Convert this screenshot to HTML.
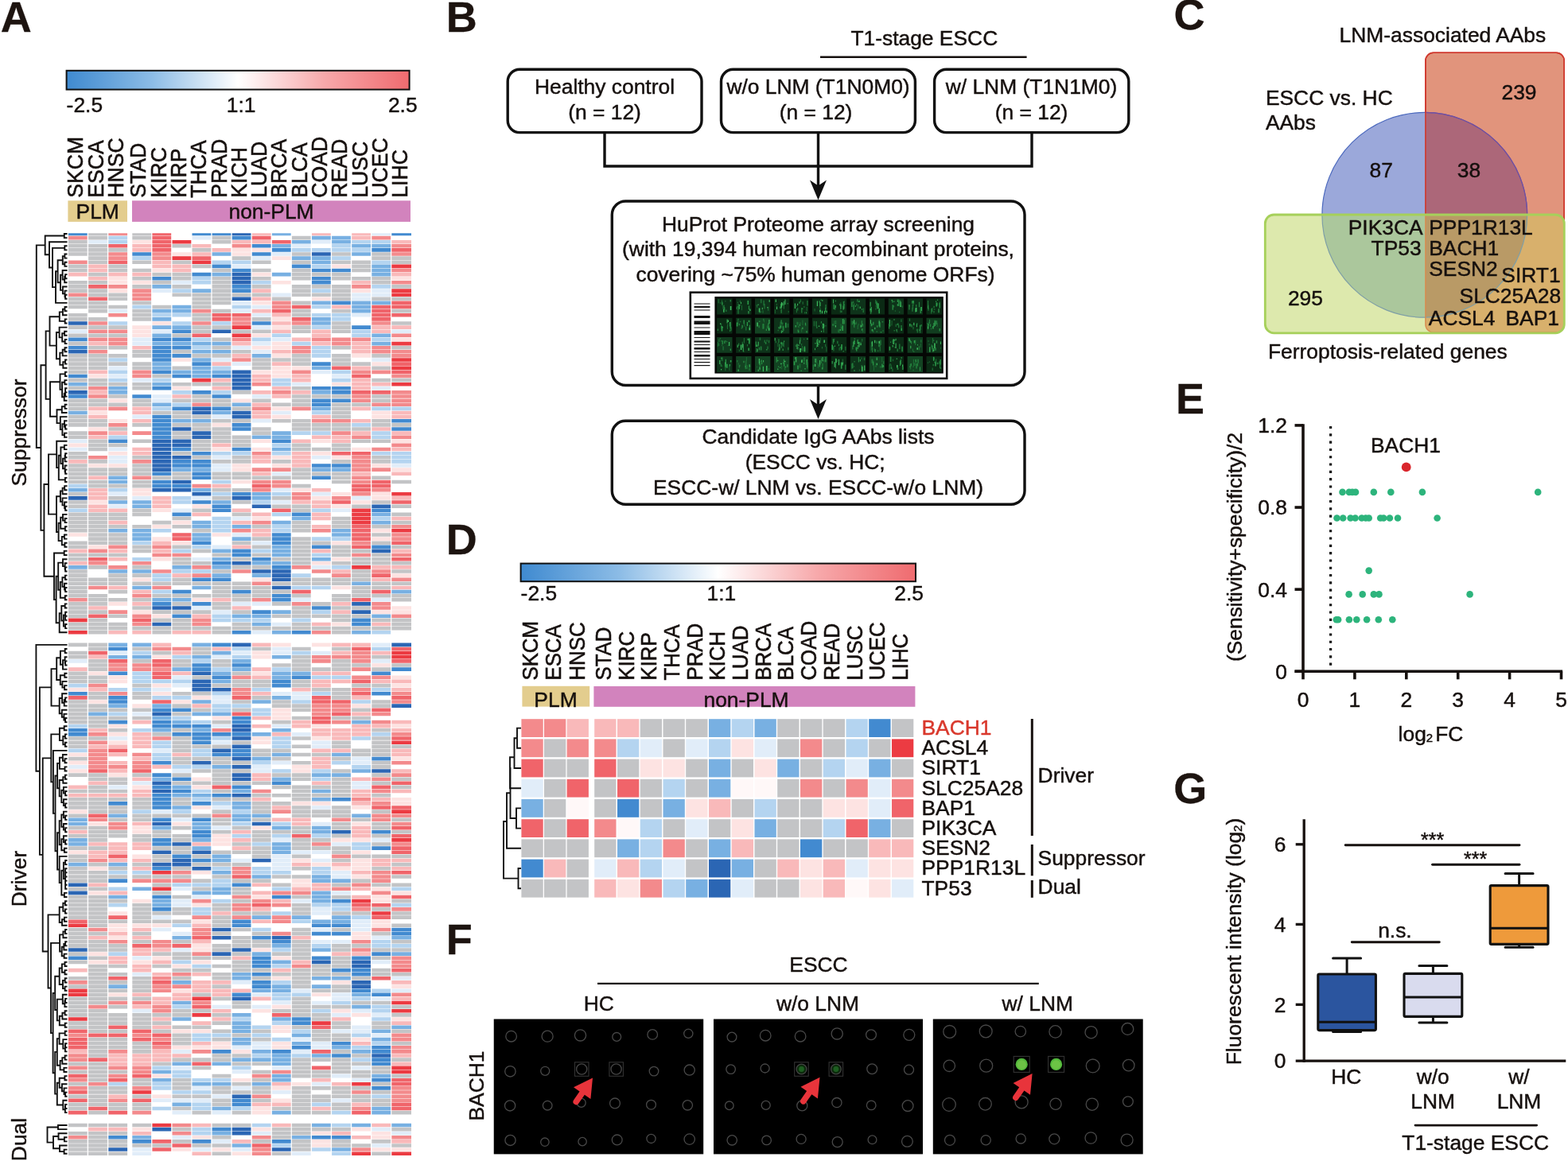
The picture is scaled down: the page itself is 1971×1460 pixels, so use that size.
<!DOCTYPE html><html lang="en"><head><meta charset="utf-8"><title>Figure</title><style>html,body{margin:0;padding:0;background:#fff;overflow:hidden}svg{display:block}text{font-family:"Liberation Sans",Arial,Helvetica,sans-serif;font-size:26.4px;fill:#16100e;stroke:#16100e;stroke-width:0.45px}</style></head><body><svg width="1971" height="1460" viewBox="0 0 1971 1460"><rect width="1971" height="1460" fill="#fff"/><defs><linearGradient id="cb" x1="0" x2="1" y1="0" y2="0"><stop offset="0" stop-color="#3f8ad0"/><stop offset="0.25" stop-color="#8cbce6"/><stop offset="0.5" stop-color="#ffffff"/><stop offset="0.75" stop-color="#f7a9ab"/><stop offset="1" stop-color="#ef6b6f"/></linearGradient></defs><text x="0.8" y="40.2" style="font-size:54px;font-weight:bold;fill:#1d1410;stroke:#1d1410;stroke-width:0.3px">A</text><text x="560.8" y="40" style="font-size:54px;font-weight:bold;fill:#1d1410;stroke:#1d1410;stroke-width:0.3px">B</text><text x="1475.6" y="37.4" style="font-size:54px;font-weight:bold;fill:#1d1410;stroke:#1d1410;stroke-width:0.3px">C</text><text x="560.8" y="697" style="font-size:54px;font-weight:bold;fill:#1d1410;stroke:#1d1410;stroke-width:0.3px">D</text><text x="1477.9" y="519.7" style="font-size:54px;font-weight:bold;fill:#1d1410;stroke:#1d1410;stroke-width:0.3px">E</text><text x="560.8" y="1200.2" style="font-size:54px;font-weight:bold;fill:#1d1410;stroke:#1d1410;stroke-width:0.3px">F</text><text x="1475.2" y="1009.6" style="font-size:54px;font-weight:bold;fill:#1d1410;stroke:#1d1410;stroke-width:0.3px">G</text><rect x="83.6" y="88.8" width="431" height="23.8" fill="url(#cb)" stroke="#111" stroke-width="2"/><text x="83.6" y="141">-2.5</text><text x="303.1" y="141" text-anchor="middle">1:1</text><text x="524.6" y="141" text-anchor="end">2.5</text><text transform="translate(104.2 248.7) rotate(-90) scale(0.937 1)" style="font-size:28.4px;stroke-width:0.6px">SKCM</text><text transform="translate(129.8 248.7) rotate(-90) scale(0.937 1)" style="font-size:28.4px;stroke-width:0.6px">ESCA</text><text transform="translate(155.4 248.7) rotate(-90) scale(0.937 1)" style="font-size:28.4px;stroke-width:0.6px">HNSC</text><text transform="translate(183.4 248.7) rotate(-90) scale(0.937 1)" style="font-size:28.4px;stroke-width:0.6px">STAD</text><text transform="translate(208.7 248.7) rotate(-90) scale(0.937 1)" style="font-size:28.4px;stroke-width:0.6px">KIRC</text><text transform="translate(234.0 248.7) rotate(-90) scale(0.937 1)" style="font-size:28.4px;stroke-width:0.6px">KIRP</text><text transform="translate(259.3 248.7) rotate(-90) scale(0.937 1)" style="font-size:28.4px;stroke-width:0.6px">THCA</text><text transform="translate(284.6 248.7) rotate(-90) scale(0.937 1)" style="font-size:28.4px;stroke-width:0.6px">PRAD</text><text transform="translate(309.9 248.7) rotate(-90) scale(0.937 1)" style="font-size:28.4px;stroke-width:0.6px">KICH</text><text transform="translate(335.1 248.7) rotate(-90) scale(0.937 1)" style="font-size:28.4px;stroke-width:0.6px">LUAD</text><text transform="translate(360.4 248.7) rotate(-90) scale(0.937 1)" style="font-size:28.4px;stroke-width:0.6px">BRCA</text><text transform="translate(385.7 248.7) rotate(-90) scale(0.937 1)" style="font-size:28.4px;stroke-width:0.6px">BLCA</text><text transform="translate(411.0 248.7) rotate(-90) scale(0.937 1)" style="font-size:28.4px;stroke-width:0.6px">COAD</text><text transform="translate(436.3 248.7) rotate(-90) scale(0.937 1)" style="font-size:28.4px;stroke-width:0.6px">READ</text><text transform="translate(461.6 248.7) rotate(-90) scale(0.937 1)" style="font-size:28.4px;stroke-width:0.6px">LUSC</text><text transform="translate(486.9 248.7) rotate(-90) scale(0.937 1)" style="font-size:28.4px;stroke-width:0.6px">UCEC</text><text transform="translate(512.2 248.7) rotate(-90) scale(0.937 1)" style="font-size:28.4px;stroke-width:0.6px">LIHC</text><rect x="85.4" y="252.3" width="74.6" height="26.6" fill="#e3cd8e"/><text x="122.7" y="275.3" text-anchor="middle">PLM</text><rect x="166" y="252.3" width="350" height="26.6" fill="#d283bd"/><text x="341" y="275.3" text-anchor="middle">non-PLM</text><text transform="translate(32.6 544) rotate(-90)" text-anchor="middle">Suppressor</text><text transform="translate(32.6 1105) rotate(-90)" text-anchor="middle">Driver</text><text transform="translate(32.6 1433) rotate(-90)" text-anchor="middle">Dual</text><path d="M85.9 293.2h23.8v3.1h-23.8zM85.9 424.6h23.8v4.6h-23.8zM85.9 434.9h23.8v4.6h-23.8zM85.9 470.7h23.8v4.6h-23.8zM85.9 496.2h23.8v4.6h-23.8zM136.3 552.5h23.8v4.6h-23.8zM166.3 317.2h23.8v4.6h-23.8zM166.3 496.2h23.8v4.6h-23.8zM191.4 347.9h23.8v4.6h-23.8zM191.4 424.6h23.8v4.6h-23.8zM191.4 434.9h23.8v4.6h-23.8zM191.4 440.0h23.8v4.6h-23.8zM191.4 445.1h23.8v4.6h-23.8zM191.4 450.2h23.8v4.6h-23.8zM191.4 465.6h23.8v4.6h-23.8zM191.4 486.0h23.8v4.6h-23.8zM191.4 521.8h23.8v4.6h-23.8zM191.4 526.9h23.8v4.6h-23.8zM191.4 532.1h23.8v4.6h-23.8zM191.4 537.2h23.8v4.6h-23.8zM191.4 542.3h23.8v4.6h-23.8zM191.4 547.4h23.8v4.6h-23.8zM191.4 593.4h23.8v4.6h-23.8zM191.4 603.7h23.8v4.6h-23.8zM191.4 608.8h23.8v4.6h-23.8zM191.4 757.1h23.8v4.6h-23.8zM216.5 414.4h23.8v4.6h-23.8zM216.5 424.6h23.8v4.6h-23.8zM216.5 434.9h23.8v4.6h-23.8zM216.5 445.1h23.8v4.6h-23.8zM216.5 470.7h23.8v4.6h-23.8zM216.5 511.6h23.8v4.6h-23.8zM216.5 562.7h23.8v4.6h-23.8zM216.5 578.1h23.8v4.6h-23.8zM216.5 583.2h23.8v4.6h-23.8zM216.5 608.8h23.8v4.6h-23.8zM216.5 644.6h23.8v4.6h-23.8zM216.5 741.8h23.8v4.6h-23.8zM216.5 772.5h23.8v4.6h-23.8zM241.5 293.2h23.8v3.1h-23.8zM241.5 342.8h23.8v4.6h-23.8zM241.5 455.3h23.8v4.6h-23.8zM241.5 491.1h23.8v4.6h-23.8zM241.5 567.9h23.8v4.6h-23.8zM241.5 578.1h23.8v4.6h-23.8zM241.5 583.2h23.8v4.6h-23.8zM241.5 593.4h23.8v4.6h-23.8zM241.5 598.5h23.8v4.6h-23.8zM241.5 629.2h23.8v4.6h-23.8zM241.5 680.4h23.8v4.6h-23.8zM241.5 726.4h23.8v4.6h-23.8zM241.5 757.1h23.8v4.6h-23.8zM266.6 293.2h23.8v3.1h-23.8zM266.6 332.6h23.8v4.6h-23.8zM266.6 470.7h23.8v4.6h-23.8zM266.6 496.2h23.8v4.6h-23.8zM266.6 511.6h23.8v4.6h-23.8zM266.6 634.4h23.8v4.6h-23.8zM266.6 639.5h23.8v4.6h-23.8zM266.6 706.0h23.8v4.6h-23.8zM266.6 726.4h23.8v4.6h-23.8zM291.7 296.8h23.8v4.6h-23.8zM291.7 337.7h23.8v4.6h-23.8zM291.7 358.1h23.8v4.6h-23.8zM291.7 363.3h23.8v4.6h-23.8zM291.7 532.1h23.8v4.6h-23.8zM291.7 537.2h23.8v4.6h-23.8zM291.7 562.7h23.8v4.6h-23.8zM291.7 619.0h23.8v4.6h-23.8zM291.7 690.6h23.8v4.6h-23.8zM291.7 695.7h23.8v4.6h-23.8zM291.7 741.8h23.8v4.6h-23.8zM291.7 792.9h23.8v4.6h-23.8zM316.8 307.0h23.8v4.6h-23.8zM316.8 317.2h23.8v4.6h-23.8zM316.8 404.2h23.8v4.6h-23.8zM316.8 700.9h23.8v4.6h-23.8zM316.8 767.3h23.8v4.6h-23.8zM341.9 312.1h23.8v4.6h-23.8zM341.9 552.5h23.8v4.6h-23.8zM341.9 670.2h23.8v4.6h-23.8zM341.9 675.3h23.8v4.6h-23.8zM341.9 680.4h23.8v4.6h-23.8zM341.9 711.1h23.8v4.6h-23.8zM341.9 746.9h23.8v4.6h-23.8zM341.9 752.0h23.8v4.6h-23.8zM366.9 332.6h23.8v4.6h-23.8zM366.9 644.6h23.8v4.6h-23.8zM366.9 792.9h23.8v4.6h-23.8zM392.0 337.7h23.8v4.6h-23.8zM392.0 347.9h23.8v4.6h-23.8zM392.0 353.0h23.8v4.6h-23.8zM392.0 455.3h23.8v4.6h-23.8zM392.0 486.0h23.8v4.6h-23.8zM392.0 501.4h23.8v4.6h-23.8zM392.0 506.5h23.8v4.6h-23.8zM392.0 583.2h23.8v4.6h-23.8zM392.0 598.5h23.8v4.6h-23.8zM392.0 685.5h23.8v4.6h-23.8zM392.0 762.2h23.8v4.6h-23.8zM417.1 337.7h23.8v4.6h-23.8zM417.1 378.6h23.8v4.6h-23.8zM417.1 486.0h23.8v4.6h-23.8zM417.1 491.1h23.8v4.6h-23.8zM417.1 501.4h23.8v4.6h-23.8zM417.1 583.2h23.8v4.6h-23.8zM442.2 409.3h23.8v4.6h-23.8zM442.2 777.6h23.8v4.6h-23.8zM442.2 782.7h23.8v4.6h-23.8zM467.3 312.1h23.8v4.6h-23.8zM467.3 639.5h23.8v4.6h-23.8zM467.3 685.5h23.8v4.6h-23.8zM492.3 293.2h24.7v3.1h-24.7zM492.3 526.9h24.7v4.6h-24.7zM492.3 537.2h24.7v4.6h-24.7z" fill="#428ad0"/><path d="M85.9 296.8h23.8v4.6h-23.8zM85.9 327.5h23.8v4.6h-23.8zM85.9 368.4h23.8v4.6h-23.8zM85.9 752.0h23.8v4.6h-23.8zM111.1 404.2h23.8v4.6h-23.8zM111.1 414.4h23.8v4.6h-23.8zM111.1 424.6h23.8v4.6h-23.8zM111.1 440.0h23.8v4.6h-23.8zM111.1 486.0h23.8v4.6h-23.8zM111.1 496.2h23.8v4.6h-23.8zM111.1 542.3h23.8v4.6h-23.8zM111.1 573.0h23.8v4.6h-23.8zM111.1 690.6h23.8v4.6h-23.8zM111.1 706.0h23.8v4.6h-23.8zM111.1 736.7h23.8v4.6h-23.8zM136.3 293.2h23.8v3.1h-23.8zM136.3 317.2h23.8v4.6h-23.8zM136.3 322.3h23.8v4.6h-23.8zM136.3 358.1h23.8v4.6h-23.8zM136.3 393.9h23.8v4.6h-23.8zM136.3 414.4h23.8v4.6h-23.8zM136.3 424.6h23.8v4.6h-23.8zM136.3 429.8h23.8v4.6h-23.8zM136.3 511.6h23.8v4.6h-23.8zM136.3 532.1h23.8v4.6h-23.8zM136.3 685.5h23.8v4.6h-23.8zM136.3 711.1h23.8v4.6h-23.8zM136.3 767.3h23.8v4.6h-23.8zM166.3 363.3h23.8v4.6h-23.8zM166.3 368.4h23.8v4.6h-23.8zM166.3 373.5h23.8v4.6h-23.8zM166.3 465.6h23.8v4.6h-23.8zM166.3 470.7h23.8v4.6h-23.8zM166.3 542.3h23.8v4.6h-23.8zM166.3 578.1h23.8v4.6h-23.8zM166.3 598.5h23.8v4.6h-23.8zM166.3 706.0h23.8v4.6h-23.8zM166.3 746.9h23.8v4.6h-23.8zM166.3 772.5h23.8v4.6h-23.8zM166.3 782.7h23.8v4.6h-23.8zM191.4 317.2h23.8v4.6h-23.8zM191.4 322.3h23.8v4.6h-23.8zM191.4 685.5h23.8v4.6h-23.8zM191.4 695.7h23.8v4.6h-23.8zM191.4 716.2h23.8v4.6h-23.8zM191.4 736.7h23.8v4.6h-23.8zM216.5 695.7h23.8v4.6h-23.8zM241.5 388.8h23.8v4.6h-23.8zM241.5 404.2h23.8v4.6h-23.8zM241.5 506.5h23.8v4.6h-23.8zM241.5 608.8h23.8v4.6h-23.8zM241.5 711.1h23.8v4.6h-23.8zM241.5 721.3h23.8v4.6h-23.8zM241.5 777.6h23.8v4.6h-23.8zM241.5 782.7h23.8v4.6h-23.8zM291.7 307.0h23.8v4.6h-23.8zM291.7 399.1h23.8v4.6h-23.8zM291.7 404.2h23.8v4.6h-23.8zM291.7 424.6h23.8v4.6h-23.8zM291.7 450.2h23.8v4.6h-23.8zM291.7 665.0h23.8v4.6h-23.8zM291.7 716.2h23.8v4.6h-23.8zM316.8 480.9h23.8v4.6h-23.8zM316.8 511.6h23.8v4.6h-23.8zM316.8 567.9h23.8v4.6h-23.8zM316.8 588.3h23.8v4.6h-23.8zM316.8 603.7h23.8v4.6h-23.8zM316.8 613.9h23.8v4.6h-23.8zM316.8 654.8h23.8v4.6h-23.8zM316.8 731.5h23.8v4.6h-23.8zM316.8 752.0h23.8v4.6h-23.8zM341.9 378.6h23.8v4.6h-23.8zM341.9 383.7h23.8v4.6h-23.8zM341.9 491.1h23.8v4.6h-23.8zM341.9 588.3h23.8v4.6h-23.8zM341.9 603.7h23.8v4.6h-23.8zM341.9 608.8h23.8v4.6h-23.8zM366.9 404.2h23.8v4.6h-23.8zM366.9 434.9h23.8v4.6h-23.8zM366.9 440.0h23.8v4.6h-23.8zM366.9 465.6h23.8v4.6h-23.8zM366.9 511.6h23.8v4.6h-23.8zM366.9 619.0h23.8v4.6h-23.8zM366.9 624.1h23.8v4.6h-23.8zM366.9 711.1h23.8v4.6h-23.8zM366.9 757.1h23.8v4.6h-23.8zM392.0 424.6h23.8v4.6h-23.8zM392.0 526.9h23.8v4.6h-23.8zM392.0 665.0h23.8v4.6h-23.8zM392.0 716.2h23.8v4.6h-23.8zM392.0 792.9h23.8v4.6h-23.8zM417.1 424.6h23.8v4.6h-23.8zM417.1 429.8h23.8v4.6h-23.8zM417.1 526.9h23.8v4.6h-23.8zM417.1 542.3h23.8v4.6h-23.8zM417.1 624.1h23.8v4.6h-23.8zM417.1 721.3h23.8v4.6h-23.8zM442.2 358.1h23.8v4.6h-23.8zM442.2 424.6h23.8v4.6h-23.8zM442.2 465.6h23.8v4.6h-23.8zM442.2 496.2h23.8v4.6h-23.8zM442.2 501.4h23.8v4.6h-23.8zM442.2 547.4h23.8v4.6h-23.8zM442.2 573.0h23.8v4.6h-23.8zM442.2 578.1h23.8v4.6h-23.8zM442.2 583.2h23.8v4.6h-23.8zM442.2 588.3h23.8v4.6h-23.8zM442.2 598.5h23.8v4.6h-23.8zM442.2 603.7h23.8v4.6h-23.8zM442.2 619.0h23.8v4.6h-23.8zM442.2 680.4h23.8v4.6h-23.8zM442.2 695.7h23.8v4.6h-23.8zM467.3 296.8h23.8v4.6h-23.8zM467.3 404.2h23.8v4.6h-23.8zM467.3 434.9h23.8v4.6h-23.8zM467.3 440.0h23.8v4.6h-23.8zM467.3 465.6h23.8v4.6h-23.8zM467.3 506.5h23.8v4.6h-23.8zM467.3 562.7h23.8v4.6h-23.8zM467.3 588.3h23.8v4.6h-23.8zM467.3 613.9h23.8v4.6h-23.8zM467.3 716.2h23.8v4.6h-23.8zM467.3 757.1h23.8v4.6h-23.8zM467.3 762.2h23.8v4.6h-23.8zM492.3 307.0h24.7v4.6h-24.7zM492.3 317.2h24.7v4.6h-24.7zM492.3 337.7h24.7v4.6h-24.7zM492.3 353.0h24.7v4.6h-24.7zM492.3 419.5h24.7v4.6h-24.7zM492.3 440.0h24.7v4.6h-24.7zM492.3 445.1h24.7v4.6h-24.7zM492.3 470.7h24.7v4.6h-24.7zM492.3 491.1h24.7v4.6h-24.7zM492.3 496.2h24.7v4.6h-24.7zM492.3 501.4h24.7v4.6h-24.7zM492.3 506.5h24.7v4.6h-24.7zM492.3 547.4h24.7v4.6h-24.7zM492.3 557.6h24.7v4.6h-24.7zM492.3 659.9h24.7v4.6h-24.7zM492.3 670.2h24.7v4.6h-24.7zM492.3 675.3h24.7v4.6h-24.7zM492.3 695.7h24.7v4.6h-24.7zM492.3 726.4h24.7v4.6h-24.7zM492.3 772.5h24.7v4.6h-24.7z" fill="#f38a8c"/><path d="M85.9 301.9h23.8v4.6h-23.8zM85.9 307.0h23.8v4.6h-23.8zM85.9 312.1h23.8v4.6h-23.8zM85.9 317.2h23.8v4.6h-23.8zM85.9 332.6h23.8v4.6h-23.8zM85.9 337.7h23.8v4.6h-23.8zM85.9 353.0h23.8v4.6h-23.8zM85.9 358.1h23.8v4.6h-23.8zM85.9 363.3h23.8v4.6h-23.8zM85.9 373.5h23.8v4.6h-23.8zM85.9 378.6h23.8v4.6h-23.8zM85.9 383.7h23.8v4.6h-23.8zM85.9 393.9h23.8v4.6h-23.8zM85.9 399.1h23.8v4.6h-23.8zM85.9 409.3h23.8v4.6h-23.8zM85.9 419.5h23.8v4.6h-23.8zM85.9 429.8h23.8v4.6h-23.8zM85.9 445.1h23.8v4.6h-23.8zM85.9 450.2h23.8v4.6h-23.8zM85.9 455.3h23.8v4.6h-23.8zM85.9 460.4h23.8v4.6h-23.8zM85.9 465.6h23.8v4.6h-23.8zM85.9 475.8h23.8v4.6h-23.8zM85.9 486.0h23.8v4.6h-23.8zM85.9 501.4h23.8v4.6h-23.8zM85.9 506.5h23.8v4.6h-23.8zM85.9 511.6h23.8v4.6h-23.8zM85.9 521.8h23.8v4.6h-23.8zM85.9 526.9h23.8v4.6h-23.8zM85.9 532.1h23.8v4.6h-23.8zM85.9 542.3h23.8v4.6h-23.8zM85.9 547.4h23.8v4.6h-23.8zM85.9 567.9h23.8v4.6h-23.8zM85.9 573.0h23.8v4.6h-23.8zM85.9 583.2h23.8v4.6h-23.8zM85.9 588.3h23.8v4.6h-23.8zM85.9 593.4h23.8v4.6h-23.8zM85.9 598.5h23.8v4.6h-23.8zM85.9 603.7h23.8v4.6h-23.8zM85.9 619.0h23.8v4.6h-23.8zM85.9 629.2h23.8v4.6h-23.8zM85.9 634.4h23.8v4.6h-23.8zM85.9 644.6h23.8v4.6h-23.8zM85.9 649.7h23.8v4.6h-23.8zM85.9 654.8h23.8v4.6h-23.8zM85.9 659.9h23.8v4.6h-23.8zM85.9 665.0h23.8v4.6h-23.8zM85.9 680.4h23.8v4.6h-23.8zM85.9 685.5h23.8v4.6h-23.8zM85.9 695.7h23.8v4.6h-23.8zM85.9 700.9h23.8v4.6h-23.8zM85.9 716.2h23.8v4.6h-23.8zM85.9 721.3h23.8v4.6h-23.8zM85.9 726.4h23.8v4.6h-23.8zM85.9 731.5h23.8v4.6h-23.8zM85.9 736.7h23.8v4.6h-23.8zM85.9 741.8h23.8v4.6h-23.8zM85.9 746.9h23.8v4.6h-23.8zM85.9 757.1h23.8v4.6h-23.8zM85.9 762.2h23.8v4.6h-23.8zM85.9 767.3h23.8v4.6h-23.8zM85.9 772.5h23.8v4.6h-23.8zM85.9 782.7h23.8v4.6h-23.8zM85.9 787.8h23.8v4.6h-23.8zM111.1 293.2h23.8v3.1h-23.8zM111.1 296.8h23.8v4.6h-23.8zM111.1 307.0h23.8v4.6h-23.8zM111.1 312.1h23.8v4.6h-23.8zM111.1 317.2h23.8v4.6h-23.8zM111.1 322.3h23.8v4.6h-23.8zM111.1 327.5h23.8v4.6h-23.8zM111.1 342.8h23.8v4.6h-23.8zM111.1 353.0h23.8v4.6h-23.8zM111.1 363.3h23.8v4.6h-23.8zM111.1 368.4h23.8v4.6h-23.8zM111.1 378.6h23.8v4.6h-23.8zM111.1 383.7h23.8v4.6h-23.8zM111.1 388.8h23.8v4.6h-23.8zM111.1 399.1h23.8v4.6h-23.8zM111.1 409.3h23.8v4.6h-23.8zM111.1 419.5h23.8v4.6h-23.8zM111.1 434.9h23.8v4.6h-23.8zM111.1 445.1h23.8v4.6h-23.8zM111.1 450.2h23.8v4.6h-23.8zM111.1 455.3h23.8v4.6h-23.8zM111.1 460.4h23.8v4.6h-23.8zM111.1 475.8h23.8v4.6h-23.8zM111.1 480.9h23.8v4.6h-23.8zM111.1 501.4h23.8v4.6h-23.8zM111.1 506.5h23.8v4.6h-23.8zM111.1 526.9h23.8v4.6h-23.8zM111.1 532.1h23.8v4.6h-23.8zM111.1 552.5h23.8v4.6h-23.8zM111.1 557.6h23.8v4.6h-23.8zM111.1 562.7h23.8v4.6h-23.8zM111.1 578.1h23.8v4.6h-23.8zM111.1 588.3h23.8v4.6h-23.8zM111.1 593.4h23.8v4.6h-23.8zM111.1 603.7h23.8v4.6h-23.8zM111.1 608.8h23.8v4.6h-23.8zM111.1 644.6h23.8v4.6h-23.8zM111.1 649.7h23.8v4.6h-23.8zM111.1 654.8h23.8v4.6h-23.8zM111.1 659.9h23.8v4.6h-23.8zM111.1 665.0h23.8v4.6h-23.8zM111.1 670.2h23.8v4.6h-23.8zM111.1 675.3h23.8v4.6h-23.8zM111.1 680.4h23.8v4.6h-23.8zM111.1 695.7h23.8v4.6h-23.8zM111.1 711.1h23.8v4.6h-23.8zM111.1 726.4h23.8v4.6h-23.8zM111.1 731.5h23.8v4.6h-23.8zM111.1 746.9h23.8v4.6h-23.8zM111.1 752.0h23.8v4.6h-23.8zM111.1 757.1h23.8v4.6h-23.8zM111.1 767.3h23.8v4.6h-23.8zM111.1 777.6h23.8v4.6h-23.8zM111.1 782.7h23.8v4.6h-23.8zM111.1 787.8h23.8v4.6h-23.8zM111.1 792.9h23.8v4.6h-23.8zM136.3 312.1h23.8v4.6h-23.8zM136.3 332.6h23.8v4.6h-23.8zM136.3 337.7h23.8v4.6h-23.8zM136.3 368.4h23.8v4.6h-23.8zM136.3 373.5h23.8v4.6h-23.8zM136.3 383.7h23.8v4.6h-23.8zM136.3 409.3h23.8v4.6h-23.8zM136.3 419.5h23.8v4.6h-23.8zM136.3 434.9h23.8v4.6h-23.8zM136.3 445.1h23.8v4.6h-23.8zM136.3 455.3h23.8v4.6h-23.8zM136.3 480.9h23.8v4.6h-23.8zM136.3 496.2h23.8v4.6h-23.8zM136.3 506.5h23.8v4.6h-23.8zM136.3 537.2h23.8v4.6h-23.8zM136.3 557.6h23.8v4.6h-23.8zM136.3 588.3h23.8v4.6h-23.8zM136.3 593.4h23.8v4.6h-23.8zM136.3 608.8h23.8v4.6h-23.8zM136.3 624.1h23.8v4.6h-23.8zM136.3 644.6h23.8v4.6h-23.8zM136.3 649.7h23.8v4.6h-23.8zM136.3 659.9h23.8v4.6h-23.8zM136.3 670.2h23.8v4.6h-23.8zM136.3 675.3h23.8v4.6h-23.8zM136.3 680.4h23.8v4.6h-23.8zM136.3 695.7h23.8v4.6h-23.8zM136.3 721.3h23.8v4.6h-23.8zM136.3 726.4h23.8v4.6h-23.8zM136.3 731.5h23.8v4.6h-23.8zM136.3 741.8h23.8v4.6h-23.8zM136.3 752.0h23.8v4.6h-23.8zM136.3 772.5h23.8v4.6h-23.8zM136.3 782.7h23.8v4.6h-23.8zM136.3 787.8h23.8v4.6h-23.8zM166.3 293.2h23.8v3.1h-23.8zM166.3 296.8h23.8v4.6h-23.8zM166.3 327.5h23.8v4.6h-23.8zM166.3 337.7h23.8v4.6h-23.8zM166.3 347.9h23.8v4.6h-23.8zM166.3 358.1h23.8v4.6h-23.8zM166.3 378.6h23.8v4.6h-23.8zM166.3 388.8h23.8v4.6h-23.8zM166.3 393.9h23.8v4.6h-23.8zM166.3 399.1h23.8v4.6h-23.8zM166.3 440.0h23.8v4.6h-23.8zM166.3 445.1h23.8v4.6h-23.8zM166.3 455.3h23.8v4.6h-23.8zM166.3 460.4h23.8v4.6h-23.8zM166.3 480.9h23.8v4.6h-23.8zM166.3 486.0h23.8v4.6h-23.8zM166.3 501.4h23.8v4.6h-23.8zM166.3 506.5h23.8v4.6h-23.8zM166.3 532.1h23.8v4.6h-23.8zM166.3 552.5h23.8v4.6h-23.8zM166.3 573.0h23.8v4.6h-23.8zM166.3 583.2h23.8v4.6h-23.8zM166.3 588.3h23.8v4.6h-23.8zM166.3 593.4h23.8v4.6h-23.8zM166.3 603.7h23.8v4.6h-23.8zM166.3 608.8h23.8v4.6h-23.8zM166.3 639.5h23.8v4.6h-23.8zM166.3 644.6h23.8v4.6h-23.8zM166.3 659.9h23.8v4.6h-23.8zM166.3 685.5h23.8v4.6h-23.8zM166.3 690.6h23.8v4.6h-23.8zM166.3 711.1h23.8v4.6h-23.8zM166.3 721.3h23.8v4.6h-23.8zM166.3 731.5h23.8v4.6h-23.8zM166.3 752.0h23.8v4.6h-23.8zM166.3 762.2h23.8v4.6h-23.8zM166.3 787.8h23.8v4.6h-23.8zM191.4 342.8h23.8v4.6h-23.8zM191.4 353.0h23.8v4.6h-23.8zM191.4 383.7h23.8v4.6h-23.8zM191.4 470.7h23.8v4.6h-23.8zM191.4 516.7h23.8v4.6h-23.8zM191.4 598.5h23.8v4.6h-23.8zM191.4 654.8h23.8v4.6h-23.8zM191.4 731.5h23.8v4.6h-23.8zM191.4 746.9h23.8v4.6h-23.8zM191.4 767.3h23.8v4.6h-23.8zM191.4 777.6h23.8v4.6h-23.8zM191.4 787.8h23.8v4.6h-23.8zM191.4 792.9h23.8v4.6h-23.8zM216.5 307.0h23.8v4.6h-23.8zM216.5 327.5h23.8v4.6h-23.8zM216.5 342.8h23.8v4.6h-23.8zM216.5 347.9h23.8v4.6h-23.8zM216.5 358.1h23.8v4.6h-23.8zM216.5 368.4h23.8v4.6h-23.8zM216.5 419.5h23.8v4.6h-23.8zM216.5 440.0h23.8v4.6h-23.8zM216.5 460.4h23.8v4.6h-23.8zM216.5 480.9h23.8v4.6h-23.8zM216.5 501.4h23.8v4.6h-23.8zM216.5 516.7h23.8v4.6h-23.8zM216.5 521.8h23.8v4.6h-23.8zM216.5 532.1h23.8v4.6h-23.8zM216.5 542.3h23.8v4.6h-23.8zM216.5 547.4h23.8v4.6h-23.8zM216.5 567.9h23.8v4.6h-23.8zM216.5 593.4h23.8v4.6h-23.8zM216.5 598.5h23.8v4.6h-23.8zM216.5 649.7h23.8v4.6h-23.8zM216.5 659.9h23.8v4.6h-23.8zM216.5 685.5h23.8v4.6h-23.8zM216.5 700.9h23.8v4.6h-23.8zM216.5 706.0h23.8v4.6h-23.8zM216.5 726.4h23.8v4.6h-23.8zM216.5 731.5h23.8v4.6h-23.8zM216.5 746.9h23.8v4.6h-23.8zM216.5 757.1h23.8v4.6h-23.8zM216.5 767.3h23.8v4.6h-23.8zM216.5 777.6h23.8v4.6h-23.8zM216.5 782.7h23.8v4.6h-23.8zM216.5 787.8h23.8v4.6h-23.8zM241.5 312.1h23.8v4.6h-23.8zM241.5 332.6h23.8v4.6h-23.8zM241.5 368.4h23.8v4.6h-23.8zM241.5 373.5h23.8v4.6h-23.8zM241.5 378.6h23.8v4.6h-23.8zM241.5 383.7h23.8v4.6h-23.8zM241.5 393.9h23.8v4.6h-23.8zM241.5 399.1h23.8v4.6h-23.8zM241.5 409.3h23.8v4.6h-23.8zM241.5 414.4h23.8v4.6h-23.8zM241.5 445.1h23.8v4.6h-23.8zM241.5 480.9h23.8v4.6h-23.8zM241.5 496.2h23.8v4.6h-23.8zM241.5 501.4h23.8v4.6h-23.8zM241.5 521.8h23.8v4.6h-23.8zM241.5 532.1h23.8v4.6h-23.8zM241.5 537.2h23.8v4.6h-23.8zM241.5 552.5h23.8v4.6h-23.8zM241.5 557.6h23.8v4.6h-23.8zM241.5 562.7h23.8v4.6h-23.8zM241.5 573.0h23.8v4.6h-23.8zM241.5 639.5h23.8v4.6h-23.8zM241.5 665.0h23.8v4.6h-23.8zM241.5 690.6h23.8v4.6h-23.8zM241.5 706.0h23.8v4.6h-23.8zM241.5 731.5h23.8v4.6h-23.8zM241.5 746.9h23.8v4.6h-23.8zM241.5 767.3h23.8v4.6h-23.8zM241.5 787.8h23.8v4.6h-23.8zM266.6 296.8h23.8v4.6h-23.8zM266.6 301.9h23.8v4.6h-23.8zM266.6 337.7h23.8v4.6h-23.8zM266.6 347.9h23.8v4.6h-23.8zM266.6 353.0h23.8v4.6h-23.8zM266.6 358.1h23.8v4.6h-23.8zM266.6 363.3h23.8v4.6h-23.8zM266.6 368.4h23.8v4.6h-23.8zM266.6 373.5h23.8v4.6h-23.8zM266.6 378.6h23.8v4.6h-23.8zM266.6 388.8h23.8v4.6h-23.8zM266.6 409.3h23.8v4.6h-23.8zM266.6 424.6h23.8v4.6h-23.8zM266.6 434.9h23.8v4.6h-23.8zM266.6 445.1h23.8v4.6h-23.8zM266.6 480.9h23.8v4.6h-23.8zM266.6 501.4h23.8v4.6h-23.8zM266.6 506.5h23.8v4.6h-23.8zM266.6 526.9h23.8v4.6h-23.8zM266.6 537.2h23.8v4.6h-23.8zM266.6 542.3h23.8v4.6h-23.8zM266.6 547.4h23.8v4.6h-23.8zM266.6 552.5h23.8v4.6h-23.8zM266.6 578.1h23.8v4.6h-23.8zM266.6 593.4h23.8v4.6h-23.8zM266.6 598.5h23.8v4.6h-23.8zM266.6 613.9h23.8v4.6h-23.8zM266.6 624.1h23.8v4.6h-23.8zM266.6 695.7h23.8v4.6h-23.8zM266.6 716.2h23.8v4.6h-23.8zM266.6 731.5h23.8v4.6h-23.8zM266.6 736.7h23.8v4.6h-23.8zM266.6 741.8h23.8v4.6h-23.8zM266.6 746.9h23.8v4.6h-23.8zM266.6 757.1h23.8v4.6h-23.8zM266.6 762.2h23.8v4.6h-23.8zM266.6 787.8h23.8v4.6h-23.8zM266.6 792.9h23.8v4.6h-23.8zM291.7 322.3h23.8v4.6h-23.8zM291.7 368.4h23.8v4.6h-23.8zM291.7 414.4h23.8v4.6h-23.8zM291.7 440.0h23.8v4.6h-23.8zM291.7 491.1h23.8v4.6h-23.8zM291.7 511.6h23.8v4.6h-23.8zM291.7 526.9h23.8v4.6h-23.8zM291.7 547.4h23.8v4.6h-23.8zM291.7 552.5h23.8v4.6h-23.8zM291.7 557.6h23.8v4.6h-23.8zM291.7 573.0h23.8v4.6h-23.8zM291.7 578.1h23.8v4.6h-23.8zM291.7 593.4h23.8v4.6h-23.8zM291.7 598.5h23.8v4.6h-23.8zM291.7 613.9h23.8v4.6h-23.8zM291.7 629.2h23.8v4.6h-23.8zM291.7 644.6h23.8v4.6h-23.8zM291.7 680.4h23.8v4.6h-23.8zM291.7 700.9h23.8v4.6h-23.8zM291.7 711.1h23.8v4.6h-23.8zM291.7 731.5h23.8v4.6h-23.8zM291.7 736.7h23.8v4.6h-23.8zM291.7 746.9h23.8v4.6h-23.8zM291.7 752.0h23.8v4.6h-23.8zM291.7 767.3h23.8v4.6h-23.8zM291.7 782.7h23.8v4.6h-23.8zM291.7 787.8h23.8v4.6h-23.8zM316.8 327.5h23.8v4.6h-23.8zM316.8 337.7h23.8v4.6h-23.8zM316.8 347.9h23.8v4.6h-23.8zM316.8 358.1h23.8v4.6h-23.8zM316.8 368.4h23.8v4.6h-23.8zM316.8 399.1h23.8v4.6h-23.8zM316.8 414.4h23.8v4.6h-23.8zM316.8 450.2h23.8v4.6h-23.8zM316.8 455.3h23.8v4.6h-23.8zM316.8 460.4h23.8v4.6h-23.8zM316.8 501.4h23.8v4.6h-23.8zM316.8 537.2h23.8v4.6h-23.8zM316.8 542.3h23.8v4.6h-23.8zM316.8 598.5h23.8v4.6h-23.8zM316.8 659.9h23.8v4.6h-23.8zM316.8 675.3h23.8v4.6h-23.8zM316.8 685.5h23.8v4.6h-23.8zM316.8 695.7h23.8v4.6h-23.8zM316.8 711.1h23.8v4.6h-23.8zM316.8 736.7h23.8v4.6h-23.8zM316.8 741.8h23.8v4.6h-23.8zM316.8 746.9h23.8v4.6h-23.8zM316.8 787.8h23.8v4.6h-23.8zM341.9 373.5h23.8v4.6h-23.8zM341.9 450.2h23.8v4.6h-23.8zM341.9 506.5h23.8v4.6h-23.8zM341.9 526.9h23.8v4.6h-23.8zM341.9 578.1h23.8v4.6h-23.8zM341.9 598.5h23.8v4.6h-23.8zM341.9 624.1h23.8v4.6h-23.8zM341.9 634.4h23.8v4.6h-23.8zM341.9 700.9h23.8v4.6h-23.8zM341.9 731.5h23.8v4.6h-23.8zM341.9 741.8h23.8v4.6h-23.8zM341.9 757.1h23.8v4.6h-23.8zM341.9 772.5h23.8v4.6h-23.8zM341.9 787.8h23.8v4.6h-23.8zM366.9 296.8h23.8v4.6h-23.8zM366.9 317.2h23.8v4.6h-23.8zM366.9 327.5h23.8v4.6h-23.8zM366.9 337.7h23.8v4.6h-23.8zM366.9 342.8h23.8v4.6h-23.8zM366.9 347.9h23.8v4.6h-23.8zM366.9 358.1h23.8v4.6h-23.8zM366.9 363.3h23.8v4.6h-23.8zM366.9 368.4h23.8v4.6h-23.8zM366.9 378.6h23.8v4.6h-23.8zM366.9 388.8h23.8v4.6h-23.8zM366.9 393.9h23.8v4.6h-23.8zM366.9 409.3h23.8v4.6h-23.8zM366.9 414.4h23.8v4.6h-23.8zM366.9 445.1h23.8v4.6h-23.8zM366.9 450.2h23.8v4.6h-23.8zM366.9 455.3h23.8v4.6h-23.8zM366.9 486.0h23.8v4.6h-23.8zM366.9 496.2h23.8v4.6h-23.8zM366.9 501.4h23.8v4.6h-23.8zM366.9 506.5h23.8v4.6h-23.8zM366.9 526.9h23.8v4.6h-23.8zM366.9 532.1h23.8v4.6h-23.8zM366.9 537.2h23.8v4.6h-23.8zM366.9 557.6h23.8v4.6h-23.8zM366.9 562.7h23.8v4.6h-23.8zM366.9 588.3h23.8v4.6h-23.8zM366.9 593.4h23.8v4.6h-23.8zM366.9 598.5h23.8v4.6h-23.8zM366.9 608.8h23.8v4.6h-23.8zM366.9 634.4h23.8v4.6h-23.8zM366.9 639.5h23.8v4.6h-23.8zM366.9 654.8h23.8v4.6h-23.8zM366.9 659.9h23.8v4.6h-23.8zM366.9 665.0h23.8v4.6h-23.8zM366.9 675.3h23.8v4.6h-23.8zM366.9 680.4h23.8v4.6h-23.8zM366.9 685.5h23.8v4.6h-23.8zM366.9 690.6h23.8v4.6h-23.8zM366.9 695.7h23.8v4.6h-23.8zM366.9 700.9h23.8v4.6h-23.8zM366.9 706.0h23.8v4.6h-23.8zM366.9 726.4h23.8v4.6h-23.8zM366.9 731.5h23.8v4.6h-23.8zM366.9 746.9h23.8v4.6h-23.8zM366.9 762.2h23.8v4.6h-23.8zM366.9 767.3h23.8v4.6h-23.8zM366.9 772.5h23.8v4.6h-23.8zM366.9 782.7h23.8v4.6h-23.8zM366.9 787.8h23.8v4.6h-23.8zM392.0 342.8h23.8v4.6h-23.8zM392.0 358.1h23.8v4.6h-23.8zM392.0 368.4h23.8v4.6h-23.8zM392.0 496.2h23.8v4.6h-23.8zM392.0 532.1h23.8v4.6h-23.8zM392.0 537.2h23.8v4.6h-23.8zM392.0 562.7h23.8v4.6h-23.8zM392.0 593.4h23.8v4.6h-23.8zM392.0 680.4h23.8v4.6h-23.8zM392.0 726.4h23.8v4.6h-23.8zM392.0 731.5h23.8v4.6h-23.8zM392.0 757.1h23.8v4.6h-23.8zM392.0 772.5h23.8v4.6h-23.8zM392.0 787.8h23.8v4.6h-23.8zM417.1 317.2h23.8v4.6h-23.8zM417.1 327.5h23.8v4.6h-23.8zM417.1 342.8h23.8v4.6h-23.8zM417.1 347.9h23.8v4.6h-23.8zM417.1 358.1h23.8v4.6h-23.8zM417.1 363.3h23.8v4.6h-23.8zM417.1 368.4h23.8v4.6h-23.8zM417.1 373.5h23.8v4.6h-23.8zM417.1 388.8h23.8v4.6h-23.8zM417.1 404.2h23.8v4.6h-23.8zM417.1 409.3h23.8v4.6h-23.8zM417.1 414.4h23.8v4.6h-23.8zM417.1 434.9h23.8v4.6h-23.8zM417.1 445.1h23.8v4.6h-23.8zM417.1 450.2h23.8v4.6h-23.8zM417.1 455.3h23.8v4.6h-23.8zM417.1 496.2h23.8v4.6h-23.8zM417.1 506.5h23.8v4.6h-23.8zM417.1 511.6h23.8v4.6h-23.8zM417.1 516.7h23.8v4.6h-23.8zM417.1 521.8h23.8v4.6h-23.8zM417.1 532.1h23.8v4.6h-23.8zM417.1 537.2h23.8v4.6h-23.8zM417.1 557.6h23.8v4.6h-23.8zM417.1 562.7h23.8v4.6h-23.8zM417.1 578.1h23.8v4.6h-23.8zM417.1 593.4h23.8v4.6h-23.8zM417.1 598.5h23.8v4.6h-23.8zM417.1 603.7h23.8v4.6h-23.8zM417.1 649.7h23.8v4.6h-23.8zM417.1 654.8h23.8v4.6h-23.8zM417.1 659.9h23.8v4.6h-23.8zM417.1 685.5h23.8v4.6h-23.8zM417.1 690.6h23.8v4.6h-23.8zM417.1 695.7h23.8v4.6h-23.8zM417.1 706.0h23.8v4.6h-23.8zM417.1 726.4h23.8v4.6h-23.8zM417.1 731.5h23.8v4.6h-23.8zM417.1 746.9h23.8v4.6h-23.8zM417.1 752.0h23.8v4.6h-23.8zM417.1 762.2h23.8v4.6h-23.8zM417.1 772.5h23.8v4.6h-23.8zM417.1 777.6h23.8v4.6h-23.8zM417.1 787.8h23.8v4.6h-23.8zM417.1 792.9h23.8v4.6h-23.8zM442.2 327.5h23.8v4.6h-23.8zM442.2 332.6h23.8v4.6h-23.8zM442.2 337.7h23.8v4.6h-23.8zM442.2 347.9h23.8v4.6h-23.8zM442.2 455.3h23.8v4.6h-23.8zM442.2 506.5h23.8v4.6h-23.8zM442.2 537.2h23.8v4.6h-23.8zM442.2 552.5h23.8v4.6h-23.8zM442.2 634.4h23.8v4.6h-23.8zM442.2 690.6h23.8v4.6h-23.8zM442.2 700.9h23.8v4.6h-23.8zM442.2 706.0h23.8v4.6h-23.8zM442.2 716.2h23.8v4.6h-23.8zM442.2 721.3h23.8v4.6h-23.8zM442.2 726.4h23.8v4.6h-23.8zM442.2 736.7h23.8v4.6h-23.8zM442.2 741.8h23.8v4.6h-23.8zM442.2 746.9h23.8v4.6h-23.8zM442.2 762.2h23.8v4.6h-23.8zM442.2 772.5h23.8v4.6h-23.8zM442.2 787.8h23.8v4.6h-23.8zM467.3 317.2h23.8v4.6h-23.8zM467.3 322.3h23.8v4.6h-23.8zM467.3 347.9h23.8v4.6h-23.8zM467.3 353.0h23.8v4.6h-23.8zM467.3 373.5h23.8v4.6h-23.8zM467.3 445.1h23.8v4.6h-23.8zM467.3 460.4h23.8v4.6h-23.8zM467.3 475.8h23.8v4.6h-23.8zM467.3 496.2h23.8v4.6h-23.8zM467.3 501.4h23.8v4.6h-23.8zM467.3 526.9h23.8v4.6h-23.8zM467.3 532.1h23.8v4.6h-23.8zM467.3 552.5h23.8v4.6h-23.8zM467.3 573.0h23.8v4.6h-23.8zM467.3 578.1h23.8v4.6h-23.8zM467.3 598.5h23.8v4.6h-23.8zM467.3 629.2h23.8v4.6h-23.8zM467.3 659.9h23.8v4.6h-23.8zM467.3 670.2h23.8v4.6h-23.8zM467.3 680.4h23.8v4.6h-23.8zM467.3 695.7h23.8v4.6h-23.8zM467.3 700.9h23.8v4.6h-23.8zM467.3 706.0h23.8v4.6h-23.8zM467.3 731.5h23.8v4.6h-23.8zM467.3 736.7h23.8v4.6h-23.8zM467.3 746.9h23.8v4.6h-23.8zM467.3 777.6h23.8v4.6h-23.8zM467.3 787.8h23.8v4.6h-23.8zM492.3 322.3h24.7v4.6h-24.7zM492.3 327.5h24.7v4.6h-24.7zM492.3 358.1h24.7v4.6h-24.7zM492.3 373.5h24.7v4.6h-24.7zM492.3 388.8h24.7v4.6h-24.7zM492.3 404.2h24.7v4.6h-24.7zM492.3 434.9h24.7v4.6h-24.7zM492.3 475.8h24.7v4.6h-24.7zM492.3 532.1h24.7v4.6h-24.7zM492.3 603.7h24.7v4.6h-24.7zM492.3 634.4h24.7v4.6h-24.7zM492.3 644.6h24.7v4.6h-24.7zM492.3 654.8h24.7v4.6h-24.7zM492.3 685.5h24.7v4.6h-24.7zM492.3 706.0h24.7v4.6h-24.7zM492.3 716.2h24.7v4.6h-24.7zM492.3 731.5h24.7v4.6h-24.7zM492.3 746.9h24.7v4.6h-24.7zM492.3 752.0h24.7v4.6h-24.7zM492.3 777.6h24.7v4.6h-24.7zM492.3 782.7h24.7v4.6h-24.7zM492.3 787.8h24.7v4.6h-24.7z" fill="#c3c4c6"/><path d="M85.9 342.8h23.8v4.6h-23.8zM85.9 578.1h23.8v4.6h-23.8zM85.9 690.6h23.8v4.6h-23.8zM85.9 706.0h23.8v4.6h-23.8zM111.1 332.6h23.8v4.6h-23.8zM111.1 337.7h23.8v4.6h-23.8zM111.1 347.9h23.8v4.6h-23.8zM111.1 429.8h23.8v4.6h-23.8zM111.1 465.6h23.8v4.6h-23.8zM111.1 491.1h23.8v4.6h-23.8zM111.1 511.6h23.8v4.6h-23.8zM111.1 521.8h23.8v4.6h-23.8zM111.1 547.4h23.8v4.6h-23.8zM111.1 598.5h23.8v4.6h-23.8zM111.1 613.9h23.8v4.6h-23.8zM111.1 619.0h23.8v4.6h-23.8zM111.1 624.1h23.8v4.6h-23.8zM111.1 634.4h23.8v4.6h-23.8zM111.1 639.5h23.8v4.6h-23.8zM111.1 762.2h23.8v4.6h-23.8zM136.3 342.8h23.8v4.6h-23.8zM136.3 542.3h23.8v4.6h-23.8zM136.3 639.5h23.8v4.6h-23.8zM136.3 654.8h23.8v4.6h-23.8zM136.3 690.6h23.8v4.6h-23.8zM136.3 700.9h23.8v4.6h-23.8zM136.3 736.7h23.8v4.6h-23.8zM136.3 792.9h23.8v4.6h-23.8zM166.3 307.0h23.8v4.6h-23.8zM166.3 312.1h23.8v4.6h-23.8zM166.3 342.8h23.8v4.6h-23.8zM166.3 434.9h23.8v4.6h-23.8zM166.3 511.6h23.8v4.6h-23.8zM166.3 516.7h23.8v4.6h-23.8zM166.3 526.9h23.8v4.6h-23.8zM166.3 562.7h23.8v4.6h-23.8zM166.3 567.9h23.8v4.6h-23.8zM166.3 741.8h23.8v4.6h-23.8zM166.3 757.1h23.8v4.6h-23.8zM166.3 792.9h23.8v4.6h-23.8zM191.4 327.5h23.8v4.6h-23.8zM191.4 332.6h23.8v4.6h-23.8zM191.4 624.1h23.8v4.6h-23.8zM191.4 629.2h23.8v4.6h-23.8zM191.4 634.4h23.8v4.6h-23.8zM191.4 680.4h23.8v4.6h-23.8zM191.4 690.6h23.8v4.6h-23.8zM216.5 332.6h23.8v4.6h-23.8zM216.5 337.7h23.8v4.6h-23.8zM216.5 496.2h23.8v4.6h-23.8zM216.5 721.3h23.8v4.6h-23.8zM216.5 792.9h23.8v4.6h-23.8zM241.5 307.0h23.8v4.6h-23.8zM241.5 317.2h23.8v4.6h-23.8zM241.5 644.6h23.8v4.6h-23.8zM241.5 772.5h23.8v4.6h-23.8zM241.5 792.9h23.8v4.6h-23.8zM266.6 312.1h23.8v4.6h-23.8zM266.6 455.3h23.8v4.6h-23.8zM266.6 475.8h23.8v4.6h-23.8zM266.6 486.0h23.8v4.6h-23.8zM266.6 557.6h23.8v4.6h-23.8zM266.6 608.8h23.8v4.6h-23.8zM266.6 752.0h23.8v4.6h-23.8zM291.7 301.9h23.8v4.6h-23.8zM291.7 429.8h23.8v4.6h-23.8zM291.7 445.1h23.8v4.6h-23.8zM291.7 639.5h23.8v4.6h-23.8zM291.7 654.8h23.8v4.6h-23.8zM291.7 685.5h23.8v4.6h-23.8zM291.7 762.2h23.8v4.6h-23.8zM316.8 293.2h23.8v3.1h-23.8zM316.8 301.9h23.8v4.6h-23.8zM316.8 363.3h23.8v4.6h-23.8zM316.8 373.5h23.8v4.6h-23.8zM316.8 388.8h23.8v4.6h-23.8zM316.8 470.7h23.8v4.6h-23.8zM316.8 475.8h23.8v4.6h-23.8zM316.8 491.1h23.8v4.6h-23.8zM316.8 506.5h23.8v4.6h-23.8zM316.8 516.7h23.8v4.6h-23.8zM316.8 521.8h23.8v4.6h-23.8zM316.8 573.0h23.8v4.6h-23.8zM316.8 578.1h23.8v4.6h-23.8zM316.8 593.4h23.8v4.6h-23.8zM316.8 644.6h23.8v4.6h-23.8zM316.8 665.0h23.8v4.6h-23.8zM316.8 670.2h23.8v4.6h-23.8zM341.9 393.9h23.8v4.6h-23.8zM341.9 404.2h23.8v4.6h-23.8zM341.9 414.4h23.8v4.6h-23.8zM341.9 440.0h23.8v4.6h-23.8zM341.9 455.3h23.8v4.6h-23.8zM341.9 486.0h23.8v4.6h-23.8zM341.9 496.2h23.8v4.6h-23.8zM366.9 424.6h23.8v4.6h-23.8zM366.9 470.7h23.8v4.6h-23.8zM366.9 475.8h23.8v4.6h-23.8zM366.9 491.1h23.8v4.6h-23.8zM366.9 552.5h23.8v4.6h-23.8zM366.9 567.9h23.8v4.6h-23.8zM366.9 573.0h23.8v4.6h-23.8zM366.9 578.1h23.8v4.6h-23.8zM366.9 583.2h23.8v4.6h-23.8zM366.9 629.2h23.8v4.6h-23.8zM392.0 293.2h23.8v3.1h-23.8zM392.0 414.4h23.8v4.6h-23.8zM392.0 419.5h23.8v4.6h-23.8zM392.0 429.8h23.8v4.6h-23.8zM392.0 521.8h23.8v4.6h-23.8zM392.0 547.4h23.8v4.6h-23.8zM392.0 613.9h23.8v4.6h-23.8zM392.0 629.2h23.8v4.6h-23.8zM392.0 634.4h23.8v4.6h-23.8zM392.0 644.6h23.8v4.6h-23.8zM392.0 649.7h23.8v4.6h-23.8zM392.0 659.9h23.8v4.6h-23.8zM392.0 690.6h23.8v4.6h-23.8zM392.0 782.7h23.8v4.6h-23.8zM417.1 383.7h23.8v4.6h-23.8zM417.1 547.4h23.8v4.6h-23.8zM417.1 552.5h23.8v4.6h-23.8zM417.1 716.2h23.8v4.6h-23.8zM417.1 757.1h23.8v4.6h-23.8zM417.1 767.3h23.8v4.6h-23.8zM442.2 293.2h23.8v3.1h-23.8zM442.2 296.8h23.8v4.6h-23.8zM442.2 353.0h23.8v4.6h-23.8zM442.2 429.8h23.8v4.6h-23.8zM442.2 434.9h23.8v4.6h-23.8zM442.2 440.0h23.8v4.6h-23.8zM442.2 460.4h23.8v4.6h-23.8zM442.2 475.8h23.8v4.6h-23.8zM442.2 480.9h23.8v4.6h-23.8zM442.2 486.0h23.8v4.6h-23.8zM442.2 511.6h23.8v4.6h-23.8zM442.2 526.9h23.8v4.6h-23.8zM442.2 542.3h23.8v4.6h-23.8zM442.2 593.4h23.8v4.6h-23.8zM467.3 409.3h23.8v4.6h-23.8zM467.3 414.4h23.8v4.6h-23.8zM467.3 480.9h23.8v4.6h-23.8zM467.3 537.2h23.8v4.6h-23.8zM467.3 711.1h23.8v4.6h-23.8zM467.3 726.4h23.8v4.6h-23.8zM467.3 782.7h23.8v4.6h-23.8zM492.3 301.9h24.7v4.6h-24.7zM492.3 342.8h24.7v4.6h-24.7zM492.3 409.3h24.7v4.6h-24.7zM492.3 516.7h24.7v4.6h-24.7zM492.3 521.8h24.7v4.6h-24.7zM492.3 542.3h24.7v4.6h-24.7zM492.3 562.7h24.7v4.6h-24.7zM492.3 593.4h24.7v4.6h-24.7zM492.3 624.1h24.7v4.6h-24.7zM492.3 649.7h24.7v4.6h-24.7zM492.3 690.6h24.7v4.6h-24.7zM492.3 711.1h24.7v4.6h-24.7zM492.3 736.7h24.7v4.6h-24.7z" fill="#f9b9ba"/><path d="M85.9 404.2h23.8v4.6h-23.8zM85.9 440.0h23.8v4.6h-23.8zM85.9 491.1h23.8v4.6h-23.8zM85.9 624.1h23.8v4.6h-23.8zM191.4 552.5h23.8v4.6h-23.8zM191.4 557.6h23.8v4.6h-23.8zM191.4 562.7h23.8v4.6h-23.8zM191.4 567.9h23.8v4.6h-23.8zM191.4 573.0h23.8v4.6h-23.8zM191.4 578.1h23.8v4.6h-23.8zM191.4 583.2h23.8v4.6h-23.8zM191.4 588.3h23.8v4.6h-23.8zM191.4 613.9h23.8v4.6h-23.8zM191.4 762.2h23.8v4.6h-23.8zM191.4 782.7h23.8v4.6h-23.8zM216.5 537.2h23.8v4.6h-23.8zM216.5 552.5h23.8v4.6h-23.8zM216.5 557.6h23.8v4.6h-23.8zM216.5 573.0h23.8v4.6h-23.8zM216.5 603.7h23.8v4.6h-23.8zM216.5 613.9h23.8v4.6h-23.8zM216.5 762.2h23.8v4.6h-23.8zM241.5 511.6h23.8v4.6h-23.8zM241.5 516.7h23.8v4.6h-23.8zM241.5 542.3h23.8v4.6h-23.8zM241.5 547.4h23.8v4.6h-23.8zM241.5 619.0h23.8v4.6h-23.8zM266.6 414.4h23.8v4.6h-23.8zM291.7 293.2h23.8v3.1h-23.8zM291.7 342.8h23.8v4.6h-23.8zM291.7 347.9h23.8v4.6h-23.8zM291.7 353.0h23.8v4.6h-23.8zM291.7 373.5h23.8v4.6h-23.8zM291.7 465.6h23.8v4.6h-23.8zM291.7 470.7h23.8v4.6h-23.8zM291.7 475.8h23.8v4.6h-23.8zM291.7 480.9h23.8v4.6h-23.8zM291.7 486.0h23.8v4.6h-23.8zM291.7 516.7h23.8v4.6h-23.8zM291.7 521.8h23.8v4.6h-23.8zM291.7 624.1h23.8v4.6h-23.8zM291.7 706.0h23.8v4.6h-23.8zM316.8 634.4h23.8v4.6h-23.8zM316.8 716.2h23.8v4.6h-23.8zM341.9 716.2h23.8v4.6h-23.8zM341.9 721.3h23.8v4.6h-23.8zM341.9 726.4h23.8v4.6h-23.8zM341.9 736.7h23.8v4.6h-23.8zM392.0 317.2h23.8v4.6h-23.8zM442.2 757.1h23.8v4.6h-23.8zM442.2 767.3h23.8v4.6h-23.8zM467.3 634.4h23.8v4.6h-23.8zM467.3 690.6h23.8v4.6h-23.8z" fill="#2b66b4"/><path d="M85.9 414.4h23.8v4.6h-23.8zM85.9 552.5h23.8v4.6h-23.8zM85.9 562.7h23.8v4.6h-23.8zM111.1 301.9h23.8v4.6h-23.8zM136.3 388.8h23.8v4.6h-23.8zM136.3 460.4h23.8v4.6h-23.8zM136.3 470.7h23.8v4.6h-23.8zM136.3 562.7h23.8v4.6h-23.8zM136.3 573.0h23.8v4.6h-23.8zM136.3 578.1h23.8v4.6h-23.8zM136.3 619.0h23.8v4.6h-23.8zM136.3 634.4h23.8v4.6h-23.8zM166.3 424.6h23.8v4.6h-23.8zM166.3 429.8h23.8v4.6h-23.8zM166.3 475.8h23.8v4.6h-23.8zM166.3 521.8h23.8v4.6h-23.8zM166.3 624.1h23.8v4.6h-23.8zM191.4 363.3h23.8v4.6h-23.8zM191.4 414.4h23.8v4.6h-23.8zM191.4 496.2h23.8v4.6h-23.8zM191.4 501.4h23.8v4.6h-23.8zM216.5 353.0h23.8v4.6h-23.8zM216.5 639.5h23.8v4.6h-23.8zM241.5 296.8h23.8v4.6h-23.8zM241.5 624.1h23.8v4.6h-23.8zM241.5 700.9h23.8v4.6h-23.8zM241.5 762.2h23.8v4.6h-23.8zM266.6 450.2h23.8v4.6h-23.8zM266.6 521.8h23.8v4.6h-23.8zM266.6 573.0h23.8v4.6h-23.8zM266.6 583.2h23.8v4.6h-23.8zM266.6 588.3h23.8v4.6h-23.8zM266.6 685.5h23.8v4.6h-23.8zM266.6 767.3h23.8v4.6h-23.8zM291.7 332.6h23.8v4.6h-23.8zM291.7 378.6h23.8v4.6h-23.8zM291.7 388.8h23.8v4.6h-23.8zM291.7 434.9h23.8v4.6h-23.8zM291.7 455.3h23.8v4.6h-23.8zM291.7 649.7h23.8v4.6h-23.8zM291.7 670.2h23.8v4.6h-23.8zM291.7 757.1h23.8v4.6h-23.8zM316.8 322.3h23.8v4.6h-23.8zM316.8 383.7h23.8v4.6h-23.8zM316.8 393.9h23.8v4.6h-23.8zM316.8 409.3h23.8v4.6h-23.8zM316.8 429.8h23.8v4.6h-23.8zM316.8 440.0h23.8v4.6h-23.8zM316.8 496.2h23.8v4.6h-23.8zM316.8 526.9h23.8v4.6h-23.8zM316.8 680.4h23.8v4.6h-23.8zM316.8 757.1h23.8v4.6h-23.8zM316.8 792.9h23.8v4.6h-23.8zM341.9 317.2h23.8v4.6h-23.8zM341.9 368.4h23.8v4.6h-23.8zM341.9 424.6h23.8v4.6h-23.8zM341.9 516.7h23.8v4.6h-23.8zM341.9 593.4h23.8v4.6h-23.8zM341.9 613.9h23.8v4.6h-23.8zM341.9 629.2h23.8v4.6h-23.8zM341.9 782.7h23.8v4.6h-23.8zM366.9 307.0h23.8v4.6h-23.8zM366.9 480.9h23.8v4.6h-23.8zM366.9 752.0h23.8v4.6h-23.8zM392.0 301.9h23.8v4.6h-23.8zM392.0 465.6h23.8v4.6h-23.8zM392.0 573.0h23.8v4.6h-23.8zM392.0 619.0h23.8v4.6h-23.8zM392.0 711.1h23.8v4.6h-23.8zM417.1 470.7h23.8v4.6h-23.8zM417.1 639.5h23.8v4.6h-23.8zM442.2 368.4h23.8v4.6h-23.8zM442.2 373.5h23.8v4.6h-23.8zM442.2 393.9h23.8v4.6h-23.8zM442.2 624.1h23.8v4.6h-23.8zM467.3 293.2h23.8v3.1h-23.8zM467.3 363.3h23.8v4.6h-23.8zM467.3 368.4h23.8v4.6h-23.8zM467.3 450.2h23.8v4.6h-23.8zM467.3 486.0h23.8v4.6h-23.8zM467.3 752.0h23.8v4.6h-23.8zM492.3 414.4h24.7v4.6h-24.7zM492.3 583.2h24.7v4.6h-24.7z" fill="#e1edf9"/><path d="M85.9 480.9h23.8v4.6h-23.8zM85.9 516.7h23.8v4.6h-23.8zM85.9 613.9h23.8v4.6h-23.8zM85.9 711.1h23.8v4.6h-23.8zM136.3 486.0h23.8v4.6h-23.8zM136.3 491.1h23.8v4.6h-23.8zM136.3 598.5h23.8v4.6h-23.8zM136.3 603.7h23.8v4.6h-23.8zM136.3 629.2h23.8v4.6h-23.8zM136.3 665.0h23.8v4.6h-23.8zM136.3 716.2h23.8v4.6h-23.8zM166.3 629.2h23.8v4.6h-23.8zM166.3 634.4h23.8v4.6h-23.8zM166.3 665.0h23.8v4.6h-23.8zM166.3 670.2h23.8v4.6h-23.8zM166.3 675.3h23.8v4.6h-23.8zM166.3 716.2h23.8v4.6h-23.8zM166.3 736.7h23.8v4.6h-23.8zM191.4 358.1h23.8v4.6h-23.8zM191.4 388.8h23.8v4.6h-23.8zM191.4 399.1h23.8v4.6h-23.8zM191.4 409.3h23.8v4.6h-23.8zM191.4 419.5h23.8v4.6h-23.8zM191.4 429.8h23.8v4.6h-23.8zM191.4 455.3h23.8v4.6h-23.8zM191.4 460.4h23.8v4.6h-23.8zM191.4 480.9h23.8v4.6h-23.8zM191.4 506.5h23.8v4.6h-23.8zM191.4 752.0h23.8v4.6h-23.8zM216.5 383.7h23.8v4.6h-23.8zM216.5 388.8h23.8v4.6h-23.8zM216.5 409.3h23.8v4.6h-23.8zM216.5 429.8h23.8v4.6h-23.8zM216.5 465.6h23.8v4.6h-23.8zM216.5 526.9h23.8v4.6h-23.8zM216.5 588.3h23.8v4.6h-23.8zM216.5 711.1h23.8v4.6h-23.8zM216.5 752.0h23.8v4.6h-23.8zM241.5 363.3h23.8v4.6h-23.8zM241.5 429.8h23.8v4.6h-23.8zM241.5 440.0h23.8v4.6h-23.8zM241.5 450.2h23.8v4.6h-23.8zM241.5 460.4h23.8v4.6h-23.8zM241.5 465.6h23.8v4.6h-23.8zM241.5 470.7h23.8v4.6h-23.8zM241.5 526.9h23.8v4.6h-23.8zM241.5 588.3h23.8v4.6h-23.8zM241.5 613.9h23.8v4.6h-23.8zM241.5 654.8h23.8v4.6h-23.8zM241.5 659.9h23.8v4.6h-23.8zM241.5 670.2h23.8v4.6h-23.8zM241.5 675.3h23.8v4.6h-23.8zM241.5 736.7h23.8v4.6h-23.8zM266.6 317.2h23.8v4.6h-23.8zM266.6 342.8h23.8v4.6h-23.8zM266.6 429.8h23.8v4.6h-23.8zM266.6 440.0h23.8v4.6h-23.8zM266.6 465.6h23.8v4.6h-23.8zM266.6 516.7h23.8v4.6h-23.8zM266.6 629.2h23.8v4.6h-23.8zM266.6 690.6h23.8v4.6h-23.8zM266.6 700.9h23.8v4.6h-23.8zM266.6 711.1h23.8v4.6h-23.8zM266.6 721.3h23.8v4.6h-23.8zM291.7 506.5h23.8v4.6h-23.8zM291.7 659.9h23.8v4.6h-23.8zM291.7 675.3h23.8v4.6h-23.8zM291.7 772.5h23.8v4.6h-23.8zM316.8 445.1h23.8v4.6h-23.8zM316.8 547.4h23.8v4.6h-23.8zM316.8 619.0h23.8v4.6h-23.8zM316.8 624.1h23.8v4.6h-23.8zM316.8 706.0h23.8v4.6h-23.8zM316.8 721.3h23.8v4.6h-23.8zM316.8 772.5h23.8v4.6h-23.8zM316.8 782.7h23.8v4.6h-23.8zM341.9 293.2h23.8v3.1h-23.8zM341.9 307.0h23.8v4.6h-23.8zM341.9 342.8h23.8v4.6h-23.8zM341.9 542.3h23.8v4.6h-23.8zM341.9 547.4h23.8v4.6h-23.8zM341.9 562.7h23.8v4.6h-23.8zM341.9 654.8h23.8v4.6h-23.8zM341.9 685.5h23.8v4.6h-23.8zM341.9 690.6h23.8v4.6h-23.8zM341.9 695.7h23.8v4.6h-23.8zM341.9 706.0h23.8v4.6h-23.8zM341.9 767.3h23.8v4.6h-23.8zM341.9 792.9h23.8v4.6h-23.8zM366.9 301.9h23.8v4.6h-23.8zM366.9 322.3h23.8v4.6h-23.8zM366.9 649.7h23.8v4.6h-23.8zM392.0 296.8h23.8v4.6h-23.8zM392.0 322.3h23.8v4.6h-23.8zM392.0 327.5h23.8v4.6h-23.8zM392.0 378.6h23.8v4.6h-23.8zM392.0 399.1h23.8v4.6h-23.8zM392.0 404.2h23.8v4.6h-23.8zM392.0 460.4h23.8v4.6h-23.8zM392.0 491.1h23.8v4.6h-23.8zM392.0 511.6h23.8v4.6h-23.8zM392.0 588.3h23.8v4.6h-23.8zM392.0 700.9h23.8v4.6h-23.8zM417.1 296.8h23.8v4.6h-23.8zM417.1 301.9h23.8v4.6h-23.8zM417.1 588.3h23.8v4.6h-23.8zM417.1 665.0h23.8v4.6h-23.8zM417.1 670.2h23.8v4.6h-23.8zM442.2 307.0h23.8v4.6h-23.8zM442.2 317.2h23.8v4.6h-23.8zM442.2 378.6h23.8v4.6h-23.8zM442.2 383.7h23.8v4.6h-23.8zM442.2 388.8h23.8v4.6h-23.8zM442.2 731.5h23.8v4.6h-23.8zM442.2 792.9h23.8v4.6h-23.8zM467.3 307.0h23.8v4.6h-23.8zM467.3 332.6h23.8v4.6h-23.8zM467.3 337.7h23.8v4.6h-23.8zM467.3 342.8h23.8v4.6h-23.8zM467.3 378.6h23.8v4.6h-23.8zM467.3 419.5h23.8v4.6h-23.8zM467.3 429.8h23.8v4.6h-23.8zM467.3 644.6h23.8v4.6h-23.8zM467.3 654.8h23.8v4.6h-23.8zM467.3 772.5h23.8v4.6h-23.8zM492.3 741.8h24.7v4.6h-24.7z" fill="#78b0e2"/><path d="M85.9 557.6h23.8v4.6h-23.8zM85.9 670.2h23.8v4.6h-23.8zM111.1 470.7h23.8v4.6h-23.8zM111.1 516.7h23.8v4.6h-23.8zM111.1 537.2h23.8v4.6h-23.8zM111.1 583.2h23.8v4.6h-23.8zM111.1 629.2h23.8v4.6h-23.8zM111.1 685.5h23.8v4.6h-23.8zM136.3 347.9h23.8v4.6h-23.8zM136.3 353.0h23.8v4.6h-23.8zM136.3 363.3h23.8v4.6h-23.8zM136.3 501.4h23.8v4.6h-23.8zM136.3 526.9h23.8v4.6h-23.8zM136.3 567.9h23.8v4.6h-23.8zM136.3 583.2h23.8v4.6h-23.8zM136.3 757.1h23.8v4.6h-23.8zM166.3 301.9h23.8v4.6h-23.8zM166.3 353.0h23.8v4.6h-23.8zM166.3 409.3h23.8v4.6h-23.8zM166.3 414.4h23.8v4.6h-23.8zM166.3 419.5h23.8v4.6h-23.8zM166.3 613.9h23.8v4.6h-23.8zM166.3 619.0h23.8v4.6h-23.8zM166.3 726.4h23.8v4.6h-23.8zM166.3 767.3h23.8v4.6h-23.8zM191.4 337.7h23.8v4.6h-23.8zM191.4 404.2h23.8v4.6h-23.8zM191.4 639.5h23.8v4.6h-23.8zM191.4 659.9h23.8v4.6h-23.8zM191.4 675.3h23.8v4.6h-23.8zM191.4 700.9h23.8v4.6h-23.8zM191.4 772.5h23.8v4.6h-23.8zM216.5 317.2h23.8v4.6h-23.8zM216.5 450.2h23.8v4.6h-23.8zM216.5 486.0h23.8v4.6h-23.8zM216.5 654.8h23.8v4.6h-23.8zM216.5 680.4h23.8v4.6h-23.8zM241.5 634.4h23.8v4.6h-23.8zM241.5 752.0h23.8v4.6h-23.8zM266.6 532.1h23.8v4.6h-23.8zM266.6 562.7h23.8v4.6h-23.8zM266.6 670.2h23.8v4.6h-23.8zM291.7 312.1h23.8v4.6h-23.8zM291.7 317.2h23.8v4.6h-23.8zM291.7 501.4h23.8v4.6h-23.8zM291.7 583.2h23.8v4.6h-23.8zM291.7 588.3h23.8v4.6h-23.8zM291.7 603.7h23.8v4.6h-23.8zM316.8 312.1h23.8v4.6h-23.8zM316.8 342.8h23.8v4.6h-23.8zM316.8 378.6h23.8v4.6h-23.8zM316.8 419.5h23.8v4.6h-23.8zM316.8 434.9h23.8v4.6h-23.8zM316.8 465.6h23.8v4.6h-23.8zM316.8 552.5h23.8v4.6h-23.8zM316.8 562.7h23.8v4.6h-23.8zM316.8 649.7h23.8v4.6h-23.8zM316.8 726.4h23.8v4.6h-23.8zM341.9 322.3h23.8v4.6h-23.8zM341.9 353.0h23.8v4.6h-23.8zM341.9 399.1h23.8v4.6h-23.8zM341.9 409.3h23.8v4.6h-23.8zM341.9 429.8h23.8v4.6h-23.8zM341.9 434.9h23.8v4.6h-23.8zM341.9 445.1h23.8v4.6h-23.8zM341.9 460.4h23.8v4.6h-23.8zM341.9 465.6h23.8v4.6h-23.8zM341.9 470.7h23.8v4.6h-23.8zM341.9 511.6h23.8v4.6h-23.8zM341.9 521.8h23.8v4.6h-23.8zM341.9 573.0h23.8v4.6h-23.8zM341.9 583.2h23.8v4.6h-23.8zM366.9 460.4h23.8v4.6h-23.8zM366.9 613.9h23.8v4.6h-23.8zM392.0 373.5h23.8v4.6h-23.8zM392.0 552.5h23.8v4.6h-23.8zM392.0 567.9h23.8v4.6h-23.8zM392.0 624.1h23.8v4.6h-23.8zM392.0 706.0h23.8v4.6h-23.8zM417.1 332.6h23.8v4.6h-23.8zM417.1 480.9h23.8v4.6h-23.8zM417.1 573.0h23.8v4.6h-23.8zM417.1 619.0h23.8v4.6h-23.8zM417.1 634.4h23.8v4.6h-23.8zM417.1 680.4h23.8v4.6h-23.8zM417.1 700.9h23.8v4.6h-23.8zM417.1 736.7h23.8v4.6h-23.8zM417.1 782.7h23.8v4.6h-23.8zM442.2 363.3h23.8v4.6h-23.8zM442.2 445.1h23.8v4.6h-23.8zM442.2 562.7h23.8v4.6h-23.8zM442.2 629.2h23.8v4.6h-23.8zM467.3 455.3h23.8v4.6h-23.8zM467.3 516.7h23.8v4.6h-23.8zM467.3 521.8h23.8v4.6h-23.8zM467.3 583.2h23.8v4.6h-23.8zM467.3 619.0h23.8v4.6h-23.8zM467.3 624.1h23.8v4.6h-23.8zM467.3 665.0h23.8v4.6h-23.8zM467.3 675.3h23.8v4.6h-23.8zM467.3 767.3h23.8v4.6h-23.8zM492.3 347.9h24.7v4.6h-24.7zM492.3 424.6h24.7v4.6h-24.7zM492.3 552.5h24.7v4.6h-24.7zM492.3 588.3h24.7v4.6h-24.7zM492.3 721.3h24.7v4.6h-24.7zM492.3 762.2h24.7v4.6h-24.7zM492.3 767.3h24.7v4.6h-24.7z" fill="#fde3e2"/><path d="M85.9 608.8h23.8v4.6h-23.8zM85.9 639.5h23.8v4.6h-23.8zM136.3 296.8h23.8v4.6h-23.8zM136.3 301.9h23.8v4.6h-23.8zM136.3 404.2h23.8v4.6h-23.8zM136.3 450.2h23.8v4.6h-23.8zM136.3 465.6h23.8v4.6h-23.8zM136.3 475.8h23.8v4.6h-23.8zM136.3 547.4h23.8v4.6h-23.8zM136.3 613.9h23.8v4.6h-23.8zM166.3 322.3h23.8v4.6h-23.8zM166.3 383.7h23.8v4.6h-23.8zM166.3 680.4h23.8v4.6h-23.8zM166.3 700.9h23.8v4.6h-23.8zM191.4 393.9h23.8v4.6h-23.8zM191.4 475.8h23.8v4.6h-23.8zM191.4 511.6h23.8v4.6h-23.8zM191.4 665.0h23.8v4.6h-23.8zM191.4 721.3h23.8v4.6h-23.8zM191.4 726.4h23.8v4.6h-23.8zM191.4 741.8h23.8v4.6h-23.8zM216.5 363.3h23.8v4.6h-23.8zM216.5 393.9h23.8v4.6h-23.8zM216.5 404.2h23.8v4.6h-23.8zM216.5 491.1h23.8v4.6h-23.8zM216.5 506.5h23.8v4.6h-23.8zM216.5 624.1h23.8v4.6h-23.8zM216.5 629.2h23.8v4.6h-23.8zM216.5 690.6h23.8v4.6h-23.8zM216.5 716.2h23.8v4.6h-23.8zM241.5 347.9h23.8v4.6h-23.8zM241.5 353.0h23.8v4.6h-23.8zM241.5 424.6h23.8v4.6h-23.8zM241.5 434.9h23.8v4.6h-23.8zM241.5 685.5h23.8v4.6h-23.8zM241.5 716.2h23.8v4.6h-23.8zM266.6 327.5h23.8v4.6h-23.8zM266.6 404.2h23.8v4.6h-23.8zM266.6 460.4h23.8v4.6h-23.8zM266.6 491.1h23.8v4.6h-23.8zM266.6 567.9h23.8v4.6h-23.8zM266.6 603.7h23.8v4.6h-23.8zM266.6 619.0h23.8v4.6h-23.8zM266.6 649.7h23.8v4.6h-23.8zM266.6 654.8h23.8v4.6h-23.8zM266.6 659.9h23.8v4.6h-23.8zM266.6 665.0h23.8v4.6h-23.8zM266.6 772.5h23.8v4.6h-23.8zM266.6 777.6h23.8v4.6h-23.8zM291.7 327.5h23.8v4.6h-23.8zM291.7 383.7h23.8v4.6h-23.8zM291.7 567.9h23.8v4.6h-23.8zM291.7 777.6h23.8v4.6h-23.8zM316.8 353.0h23.8v4.6h-23.8zM316.8 424.6h23.8v4.6h-23.8zM316.8 629.2h23.8v4.6h-23.8zM316.8 690.6h23.8v4.6h-23.8zM316.8 777.6h23.8v4.6h-23.8zM341.9 419.5h23.8v4.6h-23.8zM341.9 475.8h23.8v4.6h-23.8zM341.9 480.9h23.8v4.6h-23.8zM341.9 557.6h23.8v4.6h-23.8zM341.9 567.9h23.8v4.6h-23.8zM341.9 619.0h23.8v4.6h-23.8zM341.9 644.6h23.8v4.6h-23.8zM341.9 659.9h23.8v4.6h-23.8zM341.9 665.0h23.8v4.6h-23.8zM366.9 312.1h23.8v4.6h-23.8zM366.9 429.8h23.8v4.6h-23.8zM366.9 542.3h23.8v4.6h-23.8zM366.9 721.3h23.8v4.6h-23.8zM366.9 736.7h23.8v4.6h-23.8zM366.9 777.6h23.8v4.6h-23.8zM392.0 312.1h23.8v4.6h-23.8zM392.0 332.6h23.8v4.6h-23.8zM392.0 363.3h23.8v4.6h-23.8zM392.0 383.7h23.8v4.6h-23.8zM392.0 393.9h23.8v4.6h-23.8zM392.0 409.3h23.8v4.6h-23.8zM392.0 434.9h23.8v4.6h-23.8zM392.0 440.0h23.8v4.6h-23.8zM392.0 445.1h23.8v4.6h-23.8zM392.0 516.7h23.8v4.6h-23.8zM392.0 542.3h23.8v4.6h-23.8zM392.0 639.5h23.8v4.6h-23.8zM392.0 675.3h23.8v4.6h-23.8zM392.0 695.7h23.8v4.6h-23.8zM392.0 736.7h23.8v4.6h-23.8zM392.0 767.3h23.8v4.6h-23.8zM417.1 307.0h23.8v4.6h-23.8zM417.1 312.1h23.8v4.6h-23.8zM417.1 322.3h23.8v4.6h-23.8zM417.1 393.9h23.8v4.6h-23.8zM417.1 399.1h23.8v4.6h-23.8zM417.1 465.6h23.8v4.6h-23.8zM417.1 475.8h23.8v4.6h-23.8zM417.1 675.3h23.8v4.6h-23.8zM417.1 711.1h23.8v4.6h-23.8zM442.2 301.9h23.8v4.6h-23.8zM442.2 312.1h23.8v4.6h-23.8zM442.2 414.4h23.8v4.6h-23.8zM442.2 419.5h23.8v4.6h-23.8zM442.2 532.1h23.8v4.6h-23.8zM467.3 301.9h23.8v4.6h-23.8zM467.3 327.5h23.8v4.6h-23.8zM467.3 358.1h23.8v4.6h-23.8zM467.3 424.6h23.8v4.6h-23.8zM467.3 511.6h23.8v4.6h-23.8zM467.3 542.3h23.8v4.6h-23.8zM467.3 547.4h23.8v4.6h-23.8zM467.3 567.9h23.8v4.6h-23.8zM467.3 649.7h23.8v4.6h-23.8zM467.3 792.9h23.8v4.6h-23.8zM492.3 511.6h24.7v4.6h-24.7zM492.3 567.9h24.7v4.6h-24.7zM492.3 573.0h24.7v4.6h-24.7zM492.3 578.1h24.7v4.6h-24.7z" fill="#b4d4f0"/><path d="M85.9 777.6h23.8v4.6h-23.8zM85.9 792.9h23.8v4.6h-23.8zM216.5 301.9h23.8v4.6h-23.8zM216.5 322.3h23.8v4.6h-23.8zM241.5 327.5h23.8v4.6h-23.8zM241.5 475.8h23.8v4.6h-23.8zM291.7 409.3h23.8v4.6h-23.8zM291.7 419.5h23.8v4.6h-23.8zM442.2 639.5h23.8v4.6h-23.8zM442.2 644.6h23.8v4.6h-23.8zM442.2 649.7h23.8v4.6h-23.8zM442.2 654.8h23.8v4.6h-23.8zM442.2 711.1h23.8v4.6h-23.8zM492.3 332.6h24.7v4.6h-24.7zM492.3 363.3h24.7v4.6h-24.7zM492.3 368.4h24.7v4.6h-24.7zM492.3 429.8h24.7v4.6h-24.7zM492.3 450.2h24.7v4.6h-24.7zM492.3 460.4h24.7v4.6h-24.7zM492.3 480.9h24.7v4.6h-24.7zM492.3 619.0h24.7v4.6h-24.7zM492.3 665.0h24.7v4.6h-24.7z" fill="#ec3b42"/><path d="M111.1 358.1h23.8v4.6h-23.8zM111.1 373.5h23.8v4.6h-23.8zM111.1 700.9h23.8v4.6h-23.8zM111.1 772.5h23.8v4.6h-23.8zM136.3 307.0h23.8v4.6h-23.8zM136.3 327.5h23.8v4.6h-23.8zM166.3 777.6h23.8v4.6h-23.8zM191.4 293.2h23.8v3.1h-23.8zM191.4 296.8h23.8v4.6h-23.8zM191.4 301.9h23.8v4.6h-23.8zM191.4 307.0h23.8v4.6h-23.8zM191.4 312.1h23.8v4.6h-23.8zM216.5 670.2h23.8v4.6h-23.8zM216.5 675.3h23.8v4.6h-23.8zM241.5 322.3h23.8v4.6h-23.8zM241.5 419.5h23.8v4.6h-23.8zM266.6 393.9h23.8v4.6h-23.8zM266.6 399.1h23.8v4.6h-23.8zM291.7 393.9h23.8v4.6h-23.8zM316.8 296.8h23.8v4.6h-23.8zM316.8 608.8h23.8v4.6h-23.8zM341.9 301.9h23.8v4.6h-23.8zM341.9 388.8h23.8v4.6h-23.8zM341.9 639.5h23.8v4.6h-23.8zM366.9 383.7h23.8v4.6h-23.8zM366.9 399.1h23.8v4.6h-23.8zM366.9 741.8h23.8v4.6h-23.8zM417.1 460.4h23.8v4.6h-23.8zM417.1 567.9h23.8v4.6h-23.8zM417.1 629.2h23.8v4.6h-23.8zM442.2 470.7h23.8v4.6h-23.8zM442.2 491.1h23.8v4.6h-23.8zM442.2 567.9h23.8v4.6h-23.8zM442.2 608.8h23.8v4.6h-23.8zM442.2 613.9h23.8v4.6h-23.8zM442.2 659.9h23.8v4.6h-23.8zM442.2 665.0h23.8v4.6h-23.8zM442.2 670.2h23.8v4.6h-23.8zM442.2 675.3h23.8v4.6h-23.8zM442.2 685.5h23.8v4.6h-23.8zM442.2 752.0h23.8v4.6h-23.8zM467.3 383.7h23.8v4.6h-23.8zM467.3 388.8h23.8v4.6h-23.8zM467.3 393.9h23.8v4.6h-23.8zM467.3 399.1h23.8v4.6h-23.8zM467.3 491.1h23.8v4.6h-23.8zM467.3 603.7h23.8v4.6h-23.8zM467.3 608.8h23.8v4.6h-23.8zM467.3 721.3h23.8v4.6h-23.8zM467.3 741.8h23.8v4.6h-23.8zM492.3 312.1h24.7v4.6h-24.7zM492.3 378.6h24.7v4.6h-24.7zM492.3 383.7h24.7v4.6h-24.7zM492.3 393.9h24.7v4.6h-24.7zM492.3 455.3h24.7v4.6h-24.7zM492.3 465.6h24.7v4.6h-24.7zM492.3 629.2h24.7v4.6h-24.7zM492.3 680.4h24.7v4.6h-24.7zM492.3 700.9h24.7v4.6h-24.7z" fill="#f0646a"/><path d="M85.9 808.6h23.8v4.6h-23.8zM85.9 818.8h23.8v4.6h-23.8zM85.9 823.9h23.8v4.6h-23.8zM85.9 844.4h23.8v4.6h-23.8zM85.9 849.5h23.8v4.6h-23.8zM85.9 854.6h23.8v4.6h-23.8zM85.9 880.2h23.8v4.6h-23.8zM85.9 885.3h23.8v4.6h-23.8zM85.9 890.4h23.8v4.6h-23.8zM85.9 895.6h23.8v4.6h-23.8zM85.9 900.7h23.8v4.6h-23.8zM85.9 905.8h23.8v4.6h-23.8zM85.9 926.2h23.8v4.6h-23.8zM85.9 931.4h23.8v4.6h-23.8zM85.9 936.5h23.8v4.6h-23.8zM85.9 951.8h23.8v4.6h-23.8zM85.9 972.3h23.8v4.6h-23.8zM85.9 992.7h23.8v4.6h-23.8zM85.9 1003.0h23.8v4.6h-23.8zM85.9 1008.1h23.8v4.6h-23.8zM85.9 1013.2h23.8v4.6h-23.8zM85.9 1023.4h23.8v4.6h-23.8zM85.9 1038.8h23.8v4.6h-23.8zM85.9 1049.0h23.8v4.6h-23.8zM85.9 1064.3h23.8v4.6h-23.8zM85.9 1074.6h23.8v4.6h-23.8zM85.9 1079.7h23.8v4.6h-23.8zM85.9 1089.9h23.8v4.6h-23.8zM85.9 1095.0h23.8v4.6h-23.8zM85.9 1100.2h23.8v4.6h-23.8zM85.9 1105.3h23.8v4.6h-23.8zM85.9 1115.5h23.8v4.6h-23.8zM85.9 1125.7h23.8v4.6h-23.8zM85.9 1130.8h23.8v4.6h-23.8zM85.9 1136.0h23.8v4.6h-23.8zM85.9 1141.1h23.8v4.6h-23.8zM85.9 1146.2h23.8v4.6h-23.8zM85.9 1151.3h23.8v4.6h-23.8zM85.9 1166.7h23.8v4.6h-23.8zM85.9 1171.8h23.8v4.6h-23.8zM85.9 1176.9h23.8v4.6h-23.8zM85.9 1182.0h23.8v4.6h-23.8zM85.9 1187.1h23.8v4.6h-23.8zM85.9 1197.3h23.8v4.6h-23.8zM85.9 1207.6h23.8v4.6h-23.8zM85.9 1228.0h23.8v4.6h-23.8zM85.9 1238.3h23.8v4.6h-23.8zM85.9 1253.6h23.8v4.6h-23.8zM85.9 1258.7h23.8v4.6h-23.8zM85.9 1263.8h23.8v4.6h-23.8zM85.9 1269.0h23.8v4.6h-23.8zM85.9 1274.1h23.8v4.6h-23.8zM85.9 1284.3h23.8v4.6h-23.8zM85.9 1289.4h23.8v4.6h-23.8zM85.9 1335.4h23.8v4.6h-23.8zM85.9 1345.7h23.8v4.6h-23.8zM85.9 1361.0h23.8v4.6h-23.8zM85.9 1376.4h23.8v4.6h-23.8zM85.9 1386.6h23.8v4.6h-23.8zM85.9 1391.7h23.8v4.6h-23.8zM111.1 808.6h23.8v4.6h-23.8zM111.1 813.7h23.8v4.6h-23.8zM111.1 829.1h23.8v4.6h-23.8zM111.1 834.2h23.8v4.6h-23.8zM111.1 839.3h23.8v4.6h-23.8zM111.1 849.5h23.8v4.6h-23.8zM111.1 854.6h23.8v4.6h-23.8zM111.1 870.0h23.8v4.6h-23.8zM111.1 875.1h23.8v4.6h-23.8zM111.1 885.3h23.8v4.6h-23.8zM111.1 890.4h23.8v4.6h-23.8zM111.1 900.7h23.8v4.6h-23.8zM111.1 905.8h23.8v4.6h-23.8zM111.1 910.9h23.8v4.6h-23.8zM111.1 926.2h23.8v4.6h-23.8zM111.1 972.3h23.8v4.6h-23.8zM111.1 977.4h23.8v4.6h-23.8zM111.1 987.6h23.8v4.6h-23.8zM111.1 992.7h23.8v4.6h-23.8zM111.1 1003.0h23.8v4.6h-23.8zM111.1 1008.1h23.8v4.6h-23.8zM111.1 1013.2h23.8v4.6h-23.8zM111.1 1018.3h23.8v4.6h-23.8zM111.1 1038.8h23.8v4.6h-23.8zM111.1 1043.9h23.8v4.6h-23.8zM111.1 1049.0h23.8v4.6h-23.8zM111.1 1054.1h23.8v4.6h-23.8zM111.1 1064.3h23.8v4.6h-23.8zM111.1 1084.8h23.8v4.6h-23.8zM111.1 1095.0h23.8v4.6h-23.8zM111.1 1100.2h23.8v4.6h-23.8zM111.1 1105.3h23.8v4.6h-23.8zM111.1 1115.5h23.8v4.6h-23.8zM111.1 1125.7h23.8v4.6h-23.8zM111.1 1130.8h23.8v4.6h-23.8zM111.1 1136.0h23.8v4.6h-23.8zM111.1 1141.1h23.8v4.6h-23.8zM111.1 1146.2h23.8v4.6h-23.8zM111.1 1151.3h23.8v4.6h-23.8zM111.1 1156.4h23.8v4.6h-23.8zM111.1 1161.5h23.8v4.6h-23.8zM111.1 1171.8h23.8v4.6h-23.8zM111.1 1182.0h23.8v4.6h-23.8zM111.1 1187.1h23.8v4.6h-23.8zM111.1 1192.2h23.8v4.6h-23.8zM111.1 1202.5h23.8v4.6h-23.8zM111.1 1212.7h23.8v4.6h-23.8zM111.1 1217.8h23.8v4.6h-23.8zM111.1 1222.9h23.8v4.6h-23.8zM111.1 1228.0h23.8v4.6h-23.8zM111.1 1233.1h23.8v4.6h-23.8zM111.1 1238.3h23.8v4.6h-23.8zM111.1 1243.4h23.8v4.6h-23.8zM111.1 1248.5h23.8v4.6h-23.8zM111.1 1253.6h23.8v4.6h-23.8zM111.1 1258.7h23.8v4.6h-23.8zM111.1 1269.0h23.8v4.6h-23.8zM111.1 1274.1h23.8v4.6h-23.8zM111.1 1279.2h23.8v4.6h-23.8zM111.1 1284.3h23.8v4.6h-23.8zM111.1 1289.4h23.8v4.6h-23.8zM111.1 1294.5h23.8v4.6h-23.8zM111.1 1304.8h23.8v4.6h-23.8zM111.1 1309.9h23.8v4.6h-23.8zM111.1 1315.0h23.8v4.6h-23.8zM111.1 1320.1h23.8v4.6h-23.8zM111.1 1325.2h23.8v4.6h-23.8zM111.1 1335.4h23.8v4.6h-23.8zM111.1 1340.6h23.8v4.6h-23.8zM111.1 1345.7h23.8v4.6h-23.8zM111.1 1350.8h23.8v4.6h-23.8zM111.1 1355.9h23.8v4.6h-23.8zM111.1 1366.1h23.8v4.6h-23.8zM111.1 1371.2h23.8v4.6h-23.8zM111.1 1376.4h23.8v4.6h-23.8zM111.1 1381.5h23.8v4.6h-23.8zM111.1 1386.6h23.8v4.6h-23.8zM111.1 1396.8h23.8v4.6h-23.8zM136.3 890.4h23.8v4.6h-23.8zM136.3 900.7h23.8v4.6h-23.8zM136.3 916.0h23.8v4.6h-23.8zM136.3 977.4h23.8v4.6h-23.8zM136.3 982.5h23.8v4.6h-23.8zM136.3 992.7h23.8v4.6h-23.8zM136.3 1003.0h23.8v4.6h-23.8zM136.3 1013.2h23.8v4.6h-23.8zM136.3 1018.3h23.8v4.6h-23.8zM136.3 1028.5h23.8v4.6h-23.8zM136.3 1043.9h23.8v4.6h-23.8zM136.3 1049.0h23.8v4.6h-23.8zM136.3 1089.9h23.8v4.6h-23.8zM136.3 1100.2h23.8v4.6h-23.8zM136.3 1130.8h23.8v4.6h-23.8zM136.3 1156.4h23.8v4.6h-23.8zM136.3 1187.1h23.8v4.6h-23.8zM136.3 1192.2h23.8v4.6h-23.8zM136.3 1212.7h23.8v4.6h-23.8zM136.3 1222.9h23.8v4.6h-23.8zM136.3 1233.1h23.8v4.6h-23.8zM136.3 1243.4h23.8v4.6h-23.8zM136.3 1253.6h23.8v4.6h-23.8zM136.3 1263.8h23.8v4.6h-23.8zM136.3 1274.1h23.8v4.6h-23.8zM136.3 1279.2h23.8v4.6h-23.8zM136.3 1284.3h23.8v4.6h-23.8zM136.3 1294.5h23.8v4.6h-23.8zM136.3 1304.8h23.8v4.6h-23.8zM136.3 1309.9h23.8v4.6h-23.8zM136.3 1315.0h23.8v4.6h-23.8zM136.3 1345.7h23.8v4.6h-23.8zM136.3 1366.1h23.8v4.6h-23.8zM136.3 1371.2h23.8v4.6h-23.8zM136.3 1386.6h23.8v4.6h-23.8zM136.3 1391.7h23.8v4.6h-23.8zM166.3 813.7h23.8v4.6h-23.8zM166.3 829.1h23.8v4.6h-23.8zM166.3 859.8h23.8v4.6h-23.8zM166.3 870.0h23.8v4.6h-23.8zM166.3 875.1h23.8v4.6h-23.8zM166.3 890.4h23.8v4.6h-23.8zM166.3 900.7h23.8v4.6h-23.8zM166.3 972.3h23.8v4.6h-23.8zM166.3 1003.0h23.8v4.6h-23.8zM166.3 1008.1h23.8v4.6h-23.8zM166.3 1013.2h23.8v4.6h-23.8zM166.3 1023.4h23.8v4.6h-23.8zM166.3 1028.5h23.8v4.6h-23.8zM166.3 1049.0h23.8v4.6h-23.8zM166.3 1054.1h23.8v4.6h-23.8zM166.3 1084.8h23.8v4.6h-23.8zM166.3 1100.2h23.8v4.6h-23.8zM166.3 1136.0h23.8v4.6h-23.8zM166.3 1141.1h23.8v4.6h-23.8zM166.3 1146.2h23.8v4.6h-23.8zM166.3 1151.3h23.8v4.6h-23.8zM166.3 1156.4h23.8v4.6h-23.8zM166.3 1171.8h23.8v4.6h-23.8zM166.3 1182.0h23.8v4.6h-23.8zM166.3 1228.0h23.8v4.6h-23.8zM166.3 1233.1h23.8v4.6h-23.8zM166.3 1238.3h23.8v4.6h-23.8zM166.3 1243.4h23.8v4.6h-23.8zM166.3 1253.6h23.8v4.6h-23.8zM166.3 1274.1h23.8v4.6h-23.8zM166.3 1279.2h23.8v4.6h-23.8zM166.3 1284.3h23.8v4.6h-23.8zM166.3 1289.4h23.8v4.6h-23.8zM166.3 1309.9h23.8v4.6h-23.8zM166.3 1315.0h23.8v4.6h-23.8zM166.3 1320.1h23.8v4.6h-23.8zM166.3 1355.9h23.8v4.6h-23.8zM166.3 1361.0h23.8v4.6h-23.8zM166.3 1376.4h23.8v4.6h-23.8zM166.3 1386.6h23.8v4.6h-23.8zM166.3 1391.7h23.8v4.6h-23.8zM191.4 818.8h23.8v4.6h-23.8zM191.4 921.1h23.8v4.6h-23.8zM191.4 1023.4h23.8v4.6h-23.8zM191.4 1043.9h23.8v4.6h-23.8zM191.4 1049.0h23.8v4.6h-23.8zM191.4 1064.3h23.8v4.6h-23.8zM191.4 1074.6h23.8v4.6h-23.8zM191.4 1079.7h23.8v4.6h-23.8zM191.4 1100.2h23.8v4.6h-23.8zM191.4 1110.4h23.8v4.6h-23.8zM191.4 1120.6h23.8v4.6h-23.8zM191.4 1146.2h23.8v4.6h-23.8zM191.4 1156.4h23.8v4.6h-23.8zM191.4 1197.3h23.8v4.6h-23.8zM191.4 1212.7h23.8v4.6h-23.8zM191.4 1274.1h23.8v4.6h-23.8zM191.4 1284.3h23.8v4.6h-23.8zM191.4 1294.5h23.8v4.6h-23.8zM191.4 1335.4h23.8v4.6h-23.8zM216.5 829.1h23.8v4.6h-23.8zM216.5 834.2h23.8v4.6h-23.8zM216.5 870.0h23.8v4.6h-23.8zM216.5 885.3h23.8v4.6h-23.8zM216.5 895.6h23.8v4.6h-23.8zM216.5 916.0h23.8v4.6h-23.8zM216.5 926.2h23.8v4.6h-23.8zM216.5 931.4h23.8v4.6h-23.8zM216.5 936.5h23.8v4.6h-23.8zM216.5 941.6h23.8v4.6h-23.8zM216.5 951.8h23.8v4.6h-23.8zM216.5 956.9h23.8v4.6h-23.8zM216.5 972.3h23.8v4.6h-23.8zM216.5 982.5h23.8v4.6h-23.8zM216.5 1003.0h23.8v4.6h-23.8zM216.5 1008.1h23.8v4.6h-23.8zM216.5 1023.4h23.8v4.6h-23.8zM216.5 1038.8h23.8v4.6h-23.8zM216.5 1049.0h23.8v4.6h-23.8zM216.5 1054.1h23.8v4.6h-23.8zM216.5 1064.3h23.8v4.6h-23.8zM216.5 1069.5h23.8v4.6h-23.8zM216.5 1089.9h23.8v4.6h-23.8zM216.5 1100.2h23.8v4.6h-23.8zM216.5 1125.7h23.8v4.6h-23.8zM216.5 1141.1h23.8v4.6h-23.8zM216.5 1146.2h23.8v4.6h-23.8zM216.5 1156.4h23.8v4.6h-23.8zM216.5 1182.0h23.8v4.6h-23.8zM216.5 1197.3h23.8v4.6h-23.8zM216.5 1202.5h23.8v4.6h-23.8zM216.5 1217.8h23.8v4.6h-23.8zM216.5 1228.0h23.8v4.6h-23.8zM216.5 1269.0h23.8v4.6h-23.8zM216.5 1274.1h23.8v4.6h-23.8zM216.5 1289.4h23.8v4.6h-23.8zM216.5 1299.6h23.8v4.6h-23.8zM216.5 1304.8h23.8v4.6h-23.8zM216.5 1309.9h23.8v4.6h-23.8zM216.5 1330.3h23.8v4.6h-23.8zM216.5 1355.9h23.8v4.6h-23.8zM216.5 1361.0h23.8v4.6h-23.8zM216.5 1366.1h23.8v4.6h-23.8zM216.5 1376.4h23.8v4.6h-23.8zM216.5 1391.7h23.8v4.6h-23.8zM241.5 813.7h23.8v4.6h-23.8zM241.5 818.8h23.8v4.6h-23.8zM241.5 849.5h23.8v4.6h-23.8zM241.5 870.0h23.8v4.6h-23.8zM241.5 890.4h23.8v4.6h-23.8zM241.5 936.5h23.8v4.6h-23.8zM241.5 951.8h23.8v4.6h-23.8zM241.5 967.2h23.8v4.6h-23.8zM241.5 982.5h23.8v4.6h-23.8zM241.5 1023.4h23.8v4.6h-23.8zM241.5 1074.6h23.8v4.6h-23.8zM241.5 1084.8h23.8v4.6h-23.8zM241.5 1105.3h23.8v4.6h-23.8zM241.5 1115.5h23.8v4.6h-23.8zM241.5 1202.5h23.8v4.6h-23.8zM241.5 1217.8h23.8v4.6h-23.8zM241.5 1248.5h23.8v4.6h-23.8zM241.5 1269.0h23.8v4.6h-23.8zM241.5 1289.4h23.8v4.6h-23.8zM241.5 1330.3h23.8v4.6h-23.8zM241.5 1340.6h23.8v4.6h-23.8zM241.5 1376.4h23.8v4.6h-23.8zM241.5 1396.8h23.8v4.6h-23.8zM266.6 829.1h23.8v4.6h-23.8zM266.6 834.2h23.8v4.6h-23.8zM266.6 859.8h23.8v4.6h-23.8zM266.6 905.8h23.8v4.6h-23.8zM266.6 936.5h23.8v4.6h-23.8zM266.6 951.8h23.8v4.6h-23.8zM266.6 956.9h23.8v4.6h-23.8zM266.6 967.2h23.8v4.6h-23.8zM266.6 972.3h23.8v4.6h-23.8zM266.6 977.4h23.8v4.6h-23.8zM266.6 982.5h23.8v4.6h-23.8zM266.6 992.7h23.8v4.6h-23.8zM266.6 1003.0h23.8v4.6h-23.8zM266.6 1018.3h23.8v4.6h-23.8zM266.6 1028.5h23.8v4.6h-23.8zM266.6 1033.7h23.8v4.6h-23.8zM266.6 1043.9h23.8v4.6h-23.8zM266.6 1069.5h23.8v4.6h-23.8zM266.6 1084.8h23.8v4.6h-23.8zM266.6 1100.2h23.8v4.6h-23.8zM266.6 1136.0h23.8v4.6h-23.8zM266.6 1141.1h23.8v4.6h-23.8zM266.6 1151.3h23.8v4.6h-23.8zM266.6 1156.4h23.8v4.6h-23.8zM266.6 1161.5h23.8v4.6h-23.8zM266.6 1171.8h23.8v4.6h-23.8zM266.6 1187.1h23.8v4.6h-23.8zM266.6 1192.2h23.8v4.6h-23.8zM266.6 1202.5h23.8v4.6h-23.8zM266.6 1212.7h23.8v4.6h-23.8zM266.6 1222.9h23.8v4.6h-23.8zM266.6 1228.0h23.8v4.6h-23.8zM266.6 1238.3h23.8v4.6h-23.8zM266.6 1253.6h23.8v4.6h-23.8zM266.6 1274.1h23.8v4.6h-23.8zM266.6 1284.3h23.8v4.6h-23.8zM266.6 1294.5h23.8v4.6h-23.8zM266.6 1304.8h23.8v4.6h-23.8zM266.6 1325.2h23.8v4.6h-23.8zM266.6 1330.3h23.8v4.6h-23.8zM266.6 1350.8h23.8v4.6h-23.8zM266.6 1366.1h23.8v4.6h-23.8zM266.6 1371.2h23.8v4.6h-23.8zM266.6 1381.5h23.8v4.6h-23.8zM266.6 1386.6h23.8v4.6h-23.8zM291.7 844.4h23.8v4.6h-23.8zM291.7 854.6h23.8v4.6h-23.8zM291.7 859.8h23.8v4.6h-23.8zM291.7 880.2h23.8v4.6h-23.8zM291.7 890.4h23.8v4.6h-23.8zM291.7 931.4h23.8v4.6h-23.8zM291.7 956.9h23.8v4.6h-23.8zM291.7 967.2h23.8v4.6h-23.8zM291.7 982.5h23.8v4.6h-23.8zM291.7 1003.0h23.8v4.6h-23.8zM291.7 1038.8h23.8v4.6h-23.8zM291.7 1059.2h23.8v4.6h-23.8zM291.7 1069.5h23.8v4.6h-23.8zM291.7 1084.8h23.8v4.6h-23.8zM291.7 1105.3h23.8v4.6h-23.8zM291.7 1115.5h23.8v4.6h-23.8zM291.7 1120.6h23.8v4.6h-23.8zM291.7 1130.8h23.8v4.6h-23.8zM291.7 1146.2h23.8v4.6h-23.8zM291.7 1166.7h23.8v4.6h-23.8zM291.7 1176.9h23.8v4.6h-23.8zM291.7 1182.0h23.8v4.6h-23.8zM291.7 1187.1h23.8v4.6h-23.8zM291.7 1197.3h23.8v4.6h-23.8zM291.7 1207.6h23.8v4.6h-23.8zM291.7 1212.7h23.8v4.6h-23.8zM291.7 1217.8h23.8v4.6h-23.8zM291.7 1258.7h23.8v4.6h-23.8zM291.7 1263.8h23.8v4.6h-23.8zM291.7 1299.6h23.8v4.6h-23.8zM291.7 1325.2h23.8v4.6h-23.8zM291.7 1335.4h23.8v4.6h-23.8zM291.7 1361.0h23.8v4.6h-23.8zM291.7 1371.2h23.8v4.6h-23.8zM291.7 1396.8h23.8v4.6h-23.8zM316.8 813.7h23.8v4.6h-23.8zM316.8 854.6h23.8v4.6h-23.8zM316.8 859.8h23.8v4.6h-23.8zM316.8 875.1h23.8v4.6h-23.8zM316.8 941.6h23.8v4.6h-23.8zM316.8 946.7h23.8v4.6h-23.8zM316.8 982.5h23.8v4.6h-23.8zM316.8 997.9h23.8v4.6h-23.8zM316.8 1008.1h23.8v4.6h-23.8zM316.8 1013.2h23.8v4.6h-23.8zM316.8 1018.3h23.8v4.6h-23.8zM316.8 1028.5h23.8v4.6h-23.8zM316.8 1043.9h23.8v4.6h-23.8zM316.8 1049.0h23.8v4.6h-23.8zM316.8 1054.1h23.8v4.6h-23.8zM316.8 1064.3h23.8v4.6h-23.8zM316.8 1069.5h23.8v4.6h-23.8zM316.8 1074.6h23.8v4.6h-23.8zM316.8 1105.3h23.8v4.6h-23.8zM316.8 1146.2h23.8v4.6h-23.8zM316.8 1171.8h23.8v4.6h-23.8zM316.8 1182.0h23.8v4.6h-23.8zM316.8 1187.1h23.8v4.6h-23.8zM316.8 1217.8h23.8v4.6h-23.8zM316.8 1228.0h23.8v4.6h-23.8zM316.8 1294.5h23.8v4.6h-23.8zM316.8 1304.8h23.8v4.6h-23.8zM316.8 1335.4h23.8v4.6h-23.8zM316.8 1345.7h23.8v4.6h-23.8zM316.8 1355.9h23.8v4.6h-23.8zM316.8 1366.1h23.8v4.6h-23.8zM316.8 1371.2h23.8v4.6h-23.8zM316.8 1381.5h23.8v4.6h-23.8zM341.9 834.2h23.8v4.6h-23.8zM341.9 880.2h23.8v4.6h-23.8zM341.9 885.3h23.8v4.6h-23.8zM341.9 905.8h23.8v4.6h-23.8zM341.9 941.6h23.8v4.6h-23.8zM341.9 951.8h23.8v4.6h-23.8zM341.9 972.3h23.8v4.6h-23.8zM341.9 987.6h23.8v4.6h-23.8zM341.9 997.9h23.8v4.6h-23.8zM341.9 1008.1h23.8v4.6h-23.8zM341.9 1043.9h23.8v4.6h-23.8zM341.9 1100.2h23.8v4.6h-23.8zM341.9 1110.4h23.8v4.6h-23.8zM341.9 1197.3h23.8v4.6h-23.8zM341.9 1222.9h23.8v4.6h-23.8zM341.9 1269.0h23.8v4.6h-23.8zM341.9 1391.7h23.8v4.6h-23.8zM366.9 813.7h23.8v4.6h-23.8zM366.9 823.9h23.8v4.6h-23.8zM366.9 829.1h23.8v4.6h-23.8zM366.9 834.2h23.8v4.6h-23.8zM366.9 839.3h23.8v4.6h-23.8zM366.9 854.6h23.8v4.6h-23.8zM366.9 859.8h23.8v4.6h-23.8zM366.9 885.3h23.8v4.6h-23.8zM366.9 890.4h23.8v4.6h-23.8zM366.9 900.7h23.8v4.6h-23.8zM366.9 926.2h23.8v4.6h-23.8zM366.9 936.5h23.8v4.6h-23.8zM366.9 946.7h23.8v4.6h-23.8zM366.9 956.9h23.8v4.6h-23.8zM366.9 972.3h23.8v4.6h-23.8zM366.9 977.4h23.8v4.6h-23.8zM366.9 987.6h23.8v4.6h-23.8zM366.9 992.7h23.8v4.6h-23.8zM366.9 997.9h23.8v4.6h-23.8zM366.9 1003.0h23.8v4.6h-23.8zM366.9 1013.2h23.8v4.6h-23.8zM366.9 1018.3h23.8v4.6h-23.8zM366.9 1023.4h23.8v4.6h-23.8zM366.9 1038.8h23.8v4.6h-23.8zM366.9 1043.9h23.8v4.6h-23.8zM366.9 1054.1h23.8v4.6h-23.8zM366.9 1059.2h23.8v4.6h-23.8zM366.9 1064.3h23.8v4.6h-23.8zM366.9 1074.6h23.8v4.6h-23.8zM366.9 1089.9h23.8v4.6h-23.8zM366.9 1100.2h23.8v4.6h-23.8zM366.9 1125.7h23.8v4.6h-23.8zM366.9 1136.0h23.8v4.6h-23.8zM366.9 1141.1h23.8v4.6h-23.8zM366.9 1146.2h23.8v4.6h-23.8zM366.9 1166.7h23.8v4.6h-23.8zM366.9 1171.8h23.8v4.6h-23.8zM366.9 1182.0h23.8v4.6h-23.8zM366.9 1187.1h23.8v4.6h-23.8zM366.9 1192.2h23.8v4.6h-23.8zM366.9 1197.3h23.8v4.6h-23.8zM366.9 1202.5h23.8v4.6h-23.8zM366.9 1217.8h23.8v4.6h-23.8zM366.9 1222.9h23.8v4.6h-23.8zM366.9 1228.0h23.8v4.6h-23.8zM366.9 1233.1h23.8v4.6h-23.8zM366.9 1238.3h23.8v4.6h-23.8zM366.9 1253.6h23.8v4.6h-23.8zM366.9 1258.7h23.8v4.6h-23.8zM366.9 1263.8h23.8v4.6h-23.8zM366.9 1269.0h23.8v4.6h-23.8zM366.9 1274.1h23.8v4.6h-23.8zM366.9 1289.4h23.8v4.6h-23.8zM366.9 1330.3h23.8v4.6h-23.8zM366.9 1335.4h23.8v4.6h-23.8zM366.9 1340.6h23.8v4.6h-23.8zM366.9 1345.7h23.8v4.6h-23.8zM366.9 1350.8h23.8v4.6h-23.8zM366.9 1366.1h23.8v4.6h-23.8zM366.9 1371.2h23.8v4.6h-23.8zM366.9 1376.4h23.8v4.6h-23.8zM366.9 1381.5h23.8v4.6h-23.8zM366.9 1386.6h23.8v4.6h-23.8zM366.9 1391.7h23.8v4.6h-23.8zM366.9 1396.8h23.8v4.6h-23.8zM392.0 839.3h23.8v4.6h-23.8zM392.0 864.9h23.8v4.6h-23.8zM392.0 946.7h23.8v4.6h-23.8zM392.0 987.6h23.8v4.6h-23.8zM392.0 997.9h23.8v4.6h-23.8zM392.0 1018.3h23.8v4.6h-23.8zM392.0 1023.4h23.8v4.6h-23.8zM392.0 1054.1h23.8v4.6h-23.8zM392.0 1064.3h23.8v4.6h-23.8zM392.0 1212.7h23.8v4.6h-23.8zM392.0 1217.8h23.8v4.6h-23.8zM392.0 1222.9h23.8v4.6h-23.8zM392.0 1243.4h23.8v4.6h-23.8zM392.0 1263.8h23.8v4.6h-23.8zM392.0 1274.1h23.8v4.6h-23.8zM392.0 1279.2h23.8v4.6h-23.8zM392.0 1294.5h23.8v4.6h-23.8zM392.0 1299.6h23.8v4.6h-23.8zM392.0 1304.8h23.8v4.6h-23.8zM392.0 1330.3h23.8v4.6h-23.8zM392.0 1345.7h23.8v4.6h-23.8zM392.0 1350.8h23.8v4.6h-23.8zM392.0 1366.1h23.8v4.6h-23.8zM392.0 1376.4h23.8v4.6h-23.8zM392.0 1381.5h23.8v4.6h-23.8zM392.0 1396.8h23.8v4.6h-23.8zM417.1 813.7h23.8v4.6h-23.8zM417.1 829.1h23.8v4.6h-23.8zM417.1 834.2h23.8v4.6h-23.8zM417.1 839.3h23.8v4.6h-23.8zM417.1 864.9h23.8v4.6h-23.8zM417.1 870.0h23.8v4.6h-23.8zM417.1 875.1h23.8v4.6h-23.8zM417.1 900.7h23.8v4.6h-23.8zM417.1 931.4h23.8v4.6h-23.8zM417.1 936.5h23.8v4.6h-23.8zM417.1 951.8h23.8v4.6h-23.8zM417.1 967.2h23.8v4.6h-23.8zM417.1 977.4h23.8v4.6h-23.8zM417.1 982.5h23.8v4.6h-23.8zM417.1 987.6h23.8v4.6h-23.8zM417.1 992.7h23.8v4.6h-23.8zM417.1 997.9h23.8v4.6h-23.8zM417.1 1013.2h23.8v4.6h-23.8zM417.1 1018.3h23.8v4.6h-23.8zM417.1 1023.4h23.8v4.6h-23.8zM417.1 1033.7h23.8v4.6h-23.8zM417.1 1038.8h23.8v4.6h-23.8zM417.1 1049.0h23.8v4.6h-23.8zM417.1 1064.3h23.8v4.6h-23.8zM417.1 1069.5h23.8v4.6h-23.8zM417.1 1079.7h23.8v4.6h-23.8zM417.1 1110.4h23.8v4.6h-23.8zM417.1 1125.7h23.8v4.6h-23.8zM417.1 1146.2h23.8v4.6h-23.8zM417.1 1166.7h23.8v4.6h-23.8zM417.1 1187.1h23.8v4.6h-23.8zM417.1 1192.2h23.8v4.6h-23.8zM417.1 1202.5h23.8v4.6h-23.8zM417.1 1207.6h23.8v4.6h-23.8zM417.1 1212.7h23.8v4.6h-23.8zM417.1 1222.9h23.8v4.6h-23.8zM417.1 1238.3h23.8v4.6h-23.8zM417.1 1243.4h23.8v4.6h-23.8zM417.1 1263.8h23.8v4.6h-23.8zM417.1 1284.3h23.8v4.6h-23.8zM417.1 1289.4h23.8v4.6h-23.8zM417.1 1299.6h23.8v4.6h-23.8zM417.1 1304.8h23.8v4.6h-23.8zM417.1 1320.1h23.8v4.6h-23.8zM417.1 1330.3h23.8v4.6h-23.8zM417.1 1335.4h23.8v4.6h-23.8zM417.1 1340.6h23.8v4.6h-23.8zM417.1 1345.7h23.8v4.6h-23.8zM417.1 1366.1h23.8v4.6h-23.8zM417.1 1371.2h23.8v4.6h-23.8zM417.1 1376.4h23.8v4.6h-23.8zM417.1 1386.6h23.8v4.6h-23.8zM417.1 1391.7h23.8v4.6h-23.8zM442.2 834.2h23.8v4.6h-23.8zM442.2 859.8h23.8v4.6h-23.8zM442.2 890.4h23.8v4.6h-23.8zM442.2 900.7h23.8v4.6h-23.8zM442.2 941.6h23.8v4.6h-23.8zM442.2 946.7h23.8v4.6h-23.8zM442.2 1028.5h23.8v4.6h-23.8zM442.2 1074.6h23.8v4.6h-23.8zM442.2 1105.3h23.8v4.6h-23.8zM442.2 1146.2h23.8v4.6h-23.8zM442.2 1187.1h23.8v4.6h-23.8zM442.2 1228.0h23.8v4.6h-23.8zM442.2 1258.7h23.8v4.6h-23.8zM442.2 1325.2h23.8v4.6h-23.8zM442.2 1335.4h23.8v4.6h-23.8zM442.2 1345.7h23.8v4.6h-23.8zM442.2 1350.8h23.8v4.6h-23.8zM442.2 1366.1h23.8v4.6h-23.8zM442.2 1376.4h23.8v4.6h-23.8zM442.2 1381.5h23.8v4.6h-23.8zM467.3 823.9h23.8v4.6h-23.8zM467.3 839.3h23.8v4.6h-23.8zM467.3 859.8h23.8v4.6h-23.8zM467.3 880.2h23.8v4.6h-23.8zM467.3 885.3h23.8v4.6h-23.8zM467.3 916.0h23.8v4.6h-23.8zM467.3 926.2h23.8v4.6h-23.8zM467.3 931.4h23.8v4.6h-23.8zM467.3 936.5h23.8v4.6h-23.8zM467.3 941.6h23.8v4.6h-23.8zM467.3 946.7h23.8v4.6h-23.8zM467.3 956.9h23.8v4.6h-23.8zM467.3 962.1h23.8v4.6h-23.8zM467.3 972.3h23.8v4.6h-23.8zM467.3 982.5h23.8v4.6h-23.8zM467.3 997.9h23.8v4.6h-23.8zM467.3 1018.3h23.8v4.6h-23.8zM467.3 1033.7h23.8v4.6h-23.8zM467.3 1038.8h23.8v4.6h-23.8zM467.3 1049.0h23.8v4.6h-23.8zM467.3 1059.2h23.8v4.6h-23.8zM467.3 1074.6h23.8v4.6h-23.8zM467.3 1089.9h23.8v4.6h-23.8zM467.3 1110.4h23.8v4.6h-23.8zM467.3 1141.1h23.8v4.6h-23.8zM467.3 1171.8h23.8v4.6h-23.8zM467.3 1192.2h23.8v4.6h-23.8zM467.3 1202.5h23.8v4.6h-23.8zM467.3 1217.8h23.8v4.6h-23.8zM467.3 1222.9h23.8v4.6h-23.8zM467.3 1258.7h23.8v4.6h-23.8zM467.3 1284.3h23.8v4.6h-23.8zM467.3 1289.4h23.8v4.6h-23.8zM467.3 1340.6h23.8v4.6h-23.8zM467.3 1345.7h23.8v4.6h-23.8zM467.3 1361.0h23.8v4.6h-23.8zM467.3 1371.2h23.8v4.6h-23.8zM467.3 1381.5h23.8v4.6h-23.8zM467.3 1386.6h23.8v4.6h-23.8zM492.3 834.2h24.7v4.6h-24.7zM492.3 936.5h24.7v4.6h-24.7zM492.3 977.4h24.7v4.6h-24.7zM492.3 987.6h24.7v4.6h-24.7zM492.3 1028.5h24.7v4.6h-24.7zM492.3 1043.9h24.7v4.6h-24.7zM492.3 1074.6h24.7v4.6h-24.7zM492.3 1084.8h24.7v4.6h-24.7zM492.3 1100.2h24.7v4.6h-24.7zM492.3 1110.4h24.7v4.6h-24.7zM492.3 1130.8h24.7v4.6h-24.7zM492.3 1146.2h24.7v4.6h-24.7zM492.3 1151.3h24.7v4.6h-24.7zM492.3 1161.5h24.7v4.6h-24.7zM492.3 1182.0h24.7v4.6h-24.7zM492.3 1192.2h24.7v4.6h-24.7zM492.3 1222.9h24.7v4.6h-24.7zM492.3 1263.8h24.7v4.6h-24.7zM492.3 1274.1h24.7v4.6h-24.7zM492.3 1294.5h24.7v4.6h-24.7zM492.3 1309.9h24.7v4.6h-24.7zM492.3 1330.3h24.7v4.6h-24.7zM492.3 1350.8h24.7v4.6h-24.7zM492.3 1396.8h24.7v4.6h-24.7z" fill="#c3c4c6"/><path d="M85.9 829.1h23.8v4.6h-23.8zM85.9 962.1h23.8v4.6h-23.8zM136.3 818.8h23.8v4.6h-23.8zM136.3 926.2h23.8v4.6h-23.8zM136.3 987.6h23.8v4.6h-23.8zM166.3 895.6h23.8v4.6h-23.8zM166.3 982.5h23.8v4.6h-23.8zM166.3 1202.5h23.8v4.6h-23.8zM166.3 1222.9h23.8v4.6h-23.8zM166.3 1269.0h23.8v4.6h-23.8zM191.4 864.9h23.8v4.6h-23.8zM191.4 941.6h23.8v4.6h-23.8zM191.4 1018.3h23.8v4.6h-23.8zM191.4 1151.3h23.8v4.6h-23.8zM191.4 1166.7h23.8v4.6h-23.8zM191.4 1381.5h23.8v4.6h-23.8zM216.5 849.5h23.8v4.6h-23.8zM216.5 859.8h23.8v4.6h-23.8zM216.5 967.2h23.8v4.6h-23.8zM216.5 1028.5h23.8v4.6h-23.8zM216.5 1115.5h23.8v4.6h-23.8zM216.5 1130.8h23.8v4.6h-23.8zM216.5 1136.0h23.8v4.6h-23.8zM216.5 1171.8h23.8v4.6h-23.8zM216.5 1192.2h23.8v4.6h-23.8zM216.5 1320.1h23.8v4.6h-23.8zM216.5 1340.6h23.8v4.6h-23.8zM216.5 1381.5h23.8v4.6h-23.8zM216.5 1396.8h23.8v4.6h-23.8zM241.5 1125.7h23.8v4.6h-23.8zM241.5 1366.1h23.8v4.6h-23.8zM241.5 1381.5h23.8v4.6h-23.8zM266.6 823.9h23.8v4.6h-23.8zM266.6 875.1h23.8v4.6h-23.8zM266.6 880.2h23.8v4.6h-23.8zM266.6 910.9h23.8v4.6h-23.8zM266.6 931.4h23.8v4.6h-23.8zM266.6 1013.2h23.8v4.6h-23.8zM266.6 1038.8h23.8v4.6h-23.8zM266.6 1263.8h23.8v4.6h-23.8zM266.6 1376.4h23.8v4.6h-23.8zM266.6 1396.8h23.8v4.6h-23.8zM291.7 818.8h23.8v4.6h-23.8zM291.7 1079.7h23.8v4.6h-23.8zM291.7 1233.1h23.8v4.6h-23.8zM291.7 1315.0h23.8v4.6h-23.8zM291.7 1345.7h23.8v4.6h-23.8zM291.7 1366.1h23.8v4.6h-23.8zM316.8 962.1h23.8v4.6h-23.8zM316.8 967.2h23.8v4.6h-23.8zM316.8 1248.5h23.8v4.6h-23.8zM316.8 1263.8h23.8v4.6h-23.8zM316.8 1309.9h23.8v4.6h-23.8zM316.8 1315.0h23.8v4.6h-23.8zM341.9 813.7h23.8v4.6h-23.8zM341.9 818.8h23.8v4.6h-23.8zM341.9 870.0h23.8v4.6h-23.8zM341.9 910.9h23.8v4.6h-23.8zM341.9 956.9h23.8v4.6h-23.8zM341.9 1054.1h23.8v4.6h-23.8zM341.9 1074.6h23.8v4.6h-23.8zM341.9 1079.7h23.8v4.6h-23.8zM341.9 1084.8h23.8v4.6h-23.8zM341.9 1089.9h23.8v4.6h-23.8zM341.9 1258.7h23.8v4.6h-23.8zM341.9 1340.6h23.8v4.6h-23.8zM341.9 1371.2h23.8v4.6h-23.8zM366.9 870.0h23.8v4.6h-23.8zM366.9 875.1h23.8v4.6h-23.8zM366.9 921.1h23.8v4.6h-23.8zM366.9 1069.5h23.8v4.6h-23.8zM366.9 1130.8h23.8v4.6h-23.8zM366.9 1243.4h23.8v4.6h-23.8zM366.9 1304.8h23.8v4.6h-23.8zM366.9 1320.1h23.8v4.6h-23.8zM392.0 818.8h23.8v4.6h-23.8zM392.0 931.4h23.8v4.6h-23.8zM392.0 936.5h23.8v4.6h-23.8zM392.0 1013.2h23.8v4.6h-23.8zM392.0 1033.7h23.8v4.6h-23.8zM392.0 1069.5h23.8v4.6h-23.8zM392.0 1079.7h23.8v4.6h-23.8zM392.0 1141.1h23.8v4.6h-23.8zM392.0 1146.2h23.8v4.6h-23.8zM392.0 1166.7h23.8v4.6h-23.8zM392.0 1182.0h23.8v4.6h-23.8zM392.0 1258.7h23.8v4.6h-23.8zM392.0 1309.9h23.8v4.6h-23.8zM392.0 1315.0h23.8v4.6h-23.8zM392.0 1361.0h23.8v4.6h-23.8zM417.1 1059.2h23.8v4.6h-23.8zM417.1 1095.0h23.8v4.6h-23.8zM417.1 1100.2h23.8v4.6h-23.8zM417.1 1120.6h23.8v4.6h-23.8zM417.1 1182.0h23.8v4.6h-23.8zM417.1 1248.5h23.8v4.6h-23.8zM417.1 1253.6h23.8v4.6h-23.8zM417.1 1274.1h23.8v4.6h-23.8zM417.1 1294.5h23.8v4.6h-23.8zM417.1 1350.8h23.8v4.6h-23.8zM417.1 1381.5h23.8v4.6h-23.8zM442.2 951.8h23.8v4.6h-23.8zM442.2 956.9h23.8v4.6h-23.8zM442.2 982.5h23.8v4.6h-23.8zM442.2 987.6h23.8v4.6h-23.8zM442.2 1156.4h23.8v4.6h-23.8zM442.2 1161.5h23.8v4.6h-23.8zM442.2 1166.7h23.8v4.6h-23.8zM442.2 1269.0h23.8v4.6h-23.8zM442.2 1289.4h23.8v4.6h-23.8zM442.2 1294.5h23.8v4.6h-23.8zM442.2 1340.6h23.8v4.6h-23.8zM442.2 1355.9h23.8v4.6h-23.8zM467.3 808.6h23.8v4.6h-23.8zM467.3 829.1h23.8v4.6h-23.8zM467.3 1054.1h23.8v4.6h-23.8zM467.3 1176.9h23.8v4.6h-23.8zM467.3 1207.6h23.8v4.6h-23.8zM467.3 1253.6h23.8v4.6h-23.8zM467.3 1274.1h23.8v4.6h-23.8zM467.3 1299.6h23.8v4.6h-23.8zM492.3 1228.0h24.7v4.6h-24.7zM492.3 1243.4h24.7v4.6h-24.7z" fill="#e1edf9"/><path d="M85.9 839.3h23.8v4.6h-23.8zM85.9 987.6h23.8v4.6h-23.8zM85.9 997.9h23.8v4.6h-23.8zM85.9 1043.9h23.8v4.6h-23.8zM85.9 1217.8h23.8v4.6h-23.8zM85.9 1320.1h23.8v4.6h-23.8zM111.1 823.9h23.8v4.6h-23.8zM111.1 864.9h23.8v4.6h-23.8zM111.1 916.0h23.8v4.6h-23.8zM111.1 936.5h23.8v4.6h-23.8zM111.1 982.5h23.8v4.6h-23.8zM111.1 997.9h23.8v4.6h-23.8zM111.1 1059.2h23.8v4.6h-23.8zM111.1 1069.5h23.8v4.6h-23.8zM111.1 1074.6h23.8v4.6h-23.8zM111.1 1110.4h23.8v4.6h-23.8zM111.1 1176.9h23.8v4.6h-23.8zM136.3 936.5h23.8v4.6h-23.8zM136.3 946.7h23.8v4.6h-23.8zM136.3 956.9h23.8v4.6h-23.8zM136.3 967.2h23.8v4.6h-23.8zM136.3 997.9h23.8v4.6h-23.8zM136.3 1059.2h23.8v4.6h-23.8zM136.3 1064.3h23.8v4.6h-23.8zM136.3 1069.5h23.8v4.6h-23.8zM136.3 1079.7h23.8v4.6h-23.8zM136.3 1120.6h23.8v4.6h-23.8zM136.3 1171.8h23.8v4.6h-23.8zM136.3 1202.5h23.8v4.6h-23.8zM136.3 1207.6h23.8v4.6h-23.8zM136.3 1325.2h23.8v4.6h-23.8zM136.3 1330.3h23.8v4.6h-23.8zM136.3 1335.4h23.8v4.6h-23.8zM136.3 1376.4h23.8v4.6h-23.8zM166.3 905.8h23.8v4.6h-23.8zM166.3 921.1h23.8v4.6h-23.8zM166.3 926.2h23.8v4.6h-23.8zM166.3 931.4h23.8v4.6h-23.8zM166.3 936.5h23.8v4.6h-23.8zM166.3 951.8h23.8v4.6h-23.8zM166.3 977.4h23.8v4.6h-23.8zM166.3 992.7h23.8v4.6h-23.8zM166.3 997.9h23.8v4.6h-23.8zM166.3 1033.7h23.8v4.6h-23.8zM166.3 1059.2h23.8v4.6h-23.8zM166.3 1064.3h23.8v4.6h-23.8zM166.3 1079.7h23.8v4.6h-23.8zM166.3 1089.9h23.8v4.6h-23.8zM166.3 1166.7h23.8v4.6h-23.8zM166.3 1176.9h23.8v4.6h-23.8zM166.3 1192.2h23.8v4.6h-23.8zM166.3 1197.3h23.8v4.6h-23.8zM166.3 1212.7h23.8v4.6h-23.8zM166.3 1217.8h23.8v4.6h-23.8zM166.3 1248.5h23.8v4.6h-23.8zM166.3 1263.8h23.8v4.6h-23.8zM166.3 1325.2h23.8v4.6h-23.8zM166.3 1330.3h23.8v4.6h-23.8zM166.3 1335.4h23.8v4.6h-23.8zM191.4 808.6h23.8v4.6h-23.8zM191.4 962.1h23.8v4.6h-23.8zM191.4 1192.2h23.8v4.6h-23.8zM191.4 1207.6h23.8v4.6h-23.8zM191.4 1222.9h23.8v4.6h-23.8zM191.4 1253.6h23.8v4.6h-23.8zM191.4 1258.7h23.8v4.6h-23.8zM191.4 1279.2h23.8v4.6h-23.8zM191.4 1289.4h23.8v4.6h-23.8zM191.4 1320.1h23.8v4.6h-23.8zM191.4 1325.2h23.8v4.6h-23.8zM191.4 1330.3h23.8v4.6h-23.8zM216.5 818.8h23.8v4.6h-23.8zM216.5 844.4h23.8v4.6h-23.8zM216.5 946.7h23.8v4.6h-23.8zM216.5 1248.5h23.8v4.6h-23.8zM216.5 1253.6h23.8v4.6h-23.8zM216.5 1325.2h23.8v4.6h-23.8zM241.5 885.3h23.8v4.6h-23.8zM241.5 1059.2h23.8v4.6h-23.8zM241.5 1161.5h23.8v4.6h-23.8zM241.5 1182.0h23.8v4.6h-23.8zM241.5 1222.9h23.8v4.6h-23.8zM241.5 1233.1h23.8v4.6h-23.8zM241.5 1238.3h23.8v4.6h-23.8zM241.5 1243.4h23.8v4.6h-23.8zM241.5 1284.3h23.8v4.6h-23.8zM241.5 1309.9h23.8v4.6h-23.8zM266.6 813.7h23.8v4.6h-23.8zM266.6 1146.2h23.8v4.6h-23.8zM266.6 1233.1h23.8v4.6h-23.8zM266.6 1243.4h23.8v4.6h-23.8zM266.6 1248.5h23.8v4.6h-23.8zM266.6 1269.0h23.8v4.6h-23.8zM266.6 1279.2h23.8v4.6h-23.8zM291.7 1043.9h23.8v4.6h-23.8zM291.7 1054.1h23.8v4.6h-23.8zM291.7 1064.3h23.8v4.6h-23.8zM291.7 1202.5h23.8v4.6h-23.8zM291.7 1243.4h23.8v4.6h-23.8zM316.8 808.6h23.8v4.6h-23.8zM316.8 839.3h23.8v4.6h-23.8zM316.8 849.5h23.8v4.6h-23.8zM316.8 870.0h23.8v4.6h-23.8zM316.8 900.7h23.8v4.6h-23.8zM316.8 910.9h23.8v4.6h-23.8zM316.8 972.3h23.8v4.6h-23.8zM316.8 977.4h23.8v4.6h-23.8zM316.8 1003.0h23.8v4.6h-23.8zM316.8 1110.4h23.8v4.6h-23.8zM316.8 1120.6h23.8v4.6h-23.8zM316.8 1141.1h23.8v4.6h-23.8zM316.8 1156.4h23.8v4.6h-23.8zM316.8 1253.6h23.8v4.6h-23.8zM316.8 1386.6h23.8v4.6h-23.8zM341.9 921.1h23.8v4.6h-23.8zM341.9 1013.2h23.8v4.6h-23.8zM341.9 1028.5h23.8v4.6h-23.8zM341.9 1130.8h23.8v4.6h-23.8zM341.9 1217.8h23.8v4.6h-23.8zM341.9 1361.0h23.8v4.6h-23.8zM341.9 1386.6h23.8v4.6h-23.8zM366.9 864.9h23.8v4.6h-23.8zM366.9 905.8h23.8v4.6h-23.8zM366.9 910.9h23.8v4.6h-23.8zM366.9 1028.5h23.8v4.6h-23.8zM366.9 1033.7h23.8v4.6h-23.8zM366.9 1084.8h23.8v4.6h-23.8zM366.9 1115.5h23.8v4.6h-23.8zM366.9 1176.9h23.8v4.6h-23.8zM366.9 1207.6h23.8v4.6h-23.8zM392.0 844.4h23.8v4.6h-23.8zM392.0 854.6h23.8v4.6h-23.8zM392.0 859.8h23.8v4.6h-23.8zM392.0 916.0h23.8v4.6h-23.8zM392.0 921.1h23.8v4.6h-23.8zM392.0 941.6h23.8v4.6h-23.8zM392.0 951.8h23.8v4.6h-23.8zM392.0 956.9h23.8v4.6h-23.8zM392.0 962.1h23.8v4.6h-23.8zM392.0 982.5h23.8v4.6h-23.8zM392.0 1110.4h23.8v4.6h-23.8zM392.0 1115.5h23.8v4.6h-23.8zM392.0 1355.9h23.8v4.6h-23.8zM392.0 1391.7h23.8v4.6h-23.8zM417.1 808.6h23.8v4.6h-23.8zM417.1 818.8h23.8v4.6h-23.8zM417.1 844.4h23.8v4.6h-23.8zM417.1 854.6h23.8v4.6h-23.8zM417.1 916.0h23.8v4.6h-23.8zM417.1 921.1h23.8v4.6h-23.8zM417.1 926.2h23.8v4.6h-23.8zM417.1 941.6h23.8v4.6h-23.8zM417.1 1084.8h23.8v4.6h-23.8zM417.1 1197.3h23.8v4.6h-23.8zM417.1 1279.2h23.8v4.6h-23.8zM417.1 1361.0h23.8v4.6h-23.8zM442.2 808.6h23.8v4.6h-23.8zM442.2 875.1h23.8v4.6h-23.8zM442.2 895.6h23.8v4.6h-23.8zM442.2 910.9h23.8v4.6h-23.8zM442.2 916.0h23.8v4.6h-23.8zM442.2 921.1h23.8v4.6h-23.8zM442.2 977.4h23.8v4.6h-23.8zM442.2 992.7h23.8v4.6h-23.8zM442.2 997.9h23.8v4.6h-23.8zM442.2 1008.1h23.8v4.6h-23.8zM442.2 1038.8h23.8v4.6h-23.8zM442.2 1043.9h23.8v4.6h-23.8zM442.2 1049.0h23.8v4.6h-23.8zM442.2 1095.0h23.8v4.6h-23.8zM442.2 1115.5h23.8v4.6h-23.8zM442.2 1125.7h23.8v4.6h-23.8zM442.2 1197.3h23.8v4.6h-23.8zM442.2 1309.9h23.8v4.6h-23.8zM442.2 1386.6h23.8v4.6h-23.8zM467.3 818.8h23.8v4.6h-23.8zM467.3 854.6h23.8v4.6h-23.8zM467.3 910.9h23.8v4.6h-23.8zM467.3 1003.0h23.8v4.6h-23.8zM467.3 1079.7h23.8v4.6h-23.8zM467.3 1084.8h23.8v4.6h-23.8zM492.3 854.6h24.7v4.6h-24.7zM492.3 864.9h24.7v4.6h-24.7zM492.3 905.8h24.7v4.6h-24.7zM492.3 916.0h24.7v4.6h-24.7zM492.3 941.6h24.7v4.6h-24.7zM492.3 946.7h24.7v4.6h-24.7zM492.3 967.2h24.7v4.6h-24.7zM492.3 992.7h24.7v4.6h-24.7zM492.3 1079.7h24.7v4.6h-24.7zM492.3 1089.9h24.7v4.6h-24.7zM492.3 1233.1h24.7v4.6h-24.7zM492.3 1253.6h24.7v4.6h-24.7zM492.3 1284.3h24.7v4.6h-24.7zM492.3 1325.2h24.7v4.6h-24.7zM492.3 1335.4h24.7v4.6h-24.7z" fill="#f9b9ba"/><path d="M85.9 859.8h23.8v4.6h-23.8zM85.9 910.9h23.8v4.6h-23.8zM85.9 941.6h23.8v4.6h-23.8zM136.3 864.9h23.8v4.6h-23.8zM136.3 895.6h23.8v4.6h-23.8zM136.3 1095.0h23.8v4.6h-23.8zM136.3 1115.5h23.8v4.6h-23.8zM136.3 1136.0h23.8v4.6h-23.8zM136.3 1197.3h23.8v4.6h-23.8zM136.3 1361.0h23.8v4.6h-23.8zM166.3 818.8h23.8v4.6h-23.8zM166.3 844.4h23.8v4.6h-23.8zM166.3 849.5h23.8v4.6h-23.8zM166.3 854.6h23.8v4.6h-23.8zM166.3 864.9h23.8v4.6h-23.8zM166.3 916.0h23.8v4.6h-23.8zM166.3 1018.3h23.8v4.6h-23.8zM166.3 1095.0h23.8v4.6h-23.8zM191.4 854.6h23.8v4.6h-23.8zM191.4 875.1h23.8v4.6h-23.8zM191.4 931.4h23.8v4.6h-23.8zM191.4 936.5h23.8v4.6h-23.8zM191.4 946.7h23.8v4.6h-23.8zM191.4 951.8h23.8v4.6h-23.8zM191.4 1340.6h23.8v4.6h-23.8zM191.4 1361.0h23.8v4.6h-23.8zM191.4 1366.1h23.8v4.6h-23.8zM191.4 1391.7h23.8v4.6h-23.8zM216.5 823.9h23.8v4.6h-23.8zM216.5 854.6h23.8v4.6h-23.8zM216.5 875.1h23.8v4.6h-23.8zM216.5 900.7h23.8v4.6h-23.8zM216.5 962.1h23.8v4.6h-23.8zM216.5 1018.3h23.8v4.6h-23.8zM216.5 1110.4h23.8v4.6h-23.8zM216.5 1161.5h23.8v4.6h-23.8zM216.5 1207.6h23.8v4.6h-23.8zM216.5 1263.8h23.8v4.6h-23.8zM216.5 1345.7h23.8v4.6h-23.8zM216.5 1350.8h23.8v4.6h-23.8zM216.5 1371.2h23.8v4.6h-23.8zM241.5 829.1h23.8v4.6h-23.8zM241.5 905.8h23.8v4.6h-23.8zM241.5 941.6h23.8v4.6h-23.8zM241.5 946.7h23.8v4.6h-23.8zM241.5 962.1h23.8v4.6h-23.8zM241.5 992.7h23.8v4.6h-23.8zM241.5 1003.0h23.8v4.6h-23.8zM241.5 1110.4h23.8v4.6h-23.8zM241.5 1141.1h23.8v4.6h-23.8zM241.5 1146.2h23.8v4.6h-23.8zM241.5 1212.7h23.8v4.6h-23.8zM241.5 1299.6h23.8v4.6h-23.8zM241.5 1304.8h23.8v4.6h-23.8zM241.5 1355.9h23.8v4.6h-23.8zM241.5 1371.2h23.8v4.6h-23.8zM241.5 1386.6h23.8v4.6h-23.8zM241.5 1391.7h23.8v4.6h-23.8zM266.6 839.3h23.8v4.6h-23.8zM266.6 870.0h23.8v4.6h-23.8zM266.6 885.3h23.8v4.6h-23.8zM266.6 890.4h23.8v4.6h-23.8zM266.6 926.2h23.8v4.6h-23.8zM266.6 1008.1h23.8v4.6h-23.8zM266.6 1089.9h23.8v4.6h-23.8zM266.6 1105.3h23.8v4.6h-23.8zM266.6 1110.4h23.8v4.6h-23.8zM266.6 1130.8h23.8v4.6h-23.8zM266.6 1299.6h23.8v4.6h-23.8zM266.6 1355.9h23.8v4.6h-23.8zM291.7 813.7h23.8v4.6h-23.8zM291.7 823.9h23.8v4.6h-23.8zM291.7 885.3h23.8v4.6h-23.8zM291.7 1018.3h23.8v4.6h-23.8zM291.7 1033.7h23.8v4.6h-23.8zM291.7 1049.0h23.8v4.6h-23.8zM291.7 1279.2h23.8v4.6h-23.8zM291.7 1340.6h23.8v4.6h-23.8zM291.7 1391.7h23.8v4.6h-23.8zM316.8 864.9h23.8v4.6h-23.8zM316.8 890.4h23.8v4.6h-23.8zM316.8 895.6h23.8v4.6h-23.8zM316.8 956.9h23.8v4.6h-23.8zM316.8 1059.2h23.8v4.6h-23.8zM316.8 1089.9h23.8v4.6h-23.8zM316.8 1095.0h23.8v4.6h-23.8zM316.8 1166.7h23.8v4.6h-23.8zM316.8 1289.4h23.8v4.6h-23.8zM316.8 1299.6h23.8v4.6h-23.8zM316.8 1325.2h23.8v4.6h-23.8zM341.9 839.3h23.8v4.6h-23.8zM341.9 926.2h23.8v4.6h-23.8zM341.9 931.4h23.8v4.6h-23.8zM341.9 936.5h23.8v4.6h-23.8zM341.9 967.2h23.8v4.6h-23.8zM341.9 1033.7h23.8v4.6h-23.8zM341.9 1049.0h23.8v4.6h-23.8zM341.9 1095.0h23.8v4.6h-23.8zM341.9 1115.5h23.8v4.6h-23.8zM341.9 1146.2h23.8v4.6h-23.8zM341.9 1192.2h23.8v4.6h-23.8zM341.9 1212.7h23.8v4.6h-23.8zM341.9 1233.1h23.8v4.6h-23.8zM341.9 1248.5h23.8v4.6h-23.8zM341.9 1253.6h23.8v4.6h-23.8zM341.9 1284.3h23.8v4.6h-23.8zM341.9 1304.8h23.8v4.6h-23.8zM366.9 818.8h23.8v4.6h-23.8zM366.9 880.2h23.8v4.6h-23.8zM366.9 1156.4h23.8v4.6h-23.8zM366.9 1248.5h23.8v4.6h-23.8zM366.9 1294.5h23.8v4.6h-23.8zM366.9 1325.2h23.8v4.6h-23.8zM392.0 849.5h23.8v4.6h-23.8zM392.0 870.0h23.8v4.6h-23.8zM392.0 967.2h23.8v4.6h-23.8zM392.0 977.4h23.8v4.6h-23.8zM392.0 1049.0h23.8v4.6h-23.8zM392.0 1089.9h23.8v4.6h-23.8zM392.0 1095.0h23.8v4.6h-23.8zM392.0 1136.0h23.8v4.6h-23.8zM392.0 1187.1h23.8v4.6h-23.8zM392.0 1269.0h23.8v4.6h-23.8zM392.0 1386.6h23.8v4.6h-23.8zM417.1 849.5h23.8v4.6h-23.8zM417.1 956.9h23.8v4.6h-23.8zM417.1 1136.0h23.8v4.6h-23.8zM417.1 1141.1h23.8v4.6h-23.8zM417.1 1258.7h23.8v4.6h-23.8zM417.1 1396.8h23.8v4.6h-23.8zM442.2 880.2h23.8v4.6h-23.8zM442.2 926.2h23.8v4.6h-23.8zM442.2 962.1h23.8v4.6h-23.8zM442.2 1059.2h23.8v4.6h-23.8zM442.2 1064.3h23.8v4.6h-23.8zM442.2 1151.3h23.8v4.6h-23.8zM442.2 1253.6h23.8v4.6h-23.8zM442.2 1299.6h23.8v4.6h-23.8zM442.2 1315.0h23.8v4.6h-23.8zM442.2 1330.3h23.8v4.6h-23.8zM467.3 813.7h23.8v4.6h-23.8zM467.3 864.9h23.8v4.6h-23.8zM467.3 921.1h23.8v4.6h-23.8zM467.3 1182.0h23.8v4.6h-23.8zM467.3 1187.1h23.8v4.6h-23.8zM467.3 1243.4h23.8v4.6h-23.8zM467.3 1263.8h23.8v4.6h-23.8zM467.3 1269.0h23.8v4.6h-23.8zM467.3 1279.2h23.8v4.6h-23.8zM467.3 1309.9h23.8v4.6h-23.8zM467.3 1376.4h23.8v4.6h-23.8zM492.3 1115.5h24.7v4.6h-24.7zM492.3 1136.0h24.7v4.6h-24.7zM492.3 1187.1h24.7v4.6h-24.7z" fill="#b4d4f0"/><path d="M85.9 864.9h23.8v4.6h-23.8zM85.9 946.7h23.8v4.6h-23.8zM85.9 956.9h23.8v4.6h-23.8zM85.9 967.2h23.8v4.6h-23.8zM85.9 1018.3h23.8v4.6h-23.8zM85.9 1069.5h23.8v4.6h-23.8zM111.1 844.4h23.8v4.6h-23.8zM111.1 880.2h23.8v4.6h-23.8zM111.1 1033.7h23.8v4.6h-23.8zM111.1 1089.9h23.8v4.6h-23.8zM111.1 1120.6h23.8v4.6h-23.8zM111.1 1197.3h23.8v4.6h-23.8zM111.1 1207.6h23.8v4.6h-23.8zM136.3 849.5h23.8v4.6h-23.8zM136.3 854.6h23.8v4.6h-23.8zM136.3 910.9h23.8v4.6h-23.8zM136.3 921.1h23.8v4.6h-23.8zM136.3 931.4h23.8v4.6h-23.8zM136.3 972.3h23.8v4.6h-23.8zM136.3 1146.2h23.8v4.6h-23.8zM136.3 1161.5h23.8v4.6h-23.8zM136.3 1166.7h23.8v4.6h-23.8zM136.3 1176.9h23.8v4.6h-23.8zM136.3 1248.5h23.8v4.6h-23.8zM166.3 885.3h23.8v4.6h-23.8zM166.3 987.6h23.8v4.6h-23.8zM166.3 1038.8h23.8v4.6h-23.8zM166.3 1043.9h23.8v4.6h-23.8zM166.3 1074.6h23.8v4.6h-23.8zM166.3 1130.8h23.8v4.6h-23.8zM166.3 1161.5h23.8v4.6h-23.8zM166.3 1207.6h23.8v4.6h-23.8zM191.4 823.9h23.8v4.6h-23.8zM191.4 859.8h23.8v4.6h-23.8zM191.4 870.0h23.8v4.6h-23.8zM191.4 1161.5h23.8v4.6h-23.8zM191.4 1202.5h23.8v4.6h-23.8zM191.4 1350.8h23.8v4.6h-23.8zM191.4 1376.4h23.8v4.6h-23.8zM216.5 880.2h23.8v4.6h-23.8zM216.5 1033.7h23.8v4.6h-23.8zM216.5 1212.7h23.8v4.6h-23.8zM216.5 1243.4h23.8v4.6h-23.8zM216.5 1294.5h23.8v4.6h-23.8zM216.5 1315.0h23.8v4.6h-23.8zM241.5 875.1h23.8v4.6h-23.8zM241.5 977.4h23.8v4.6h-23.8zM241.5 987.6h23.8v4.6h-23.8zM241.5 1013.2h23.8v4.6h-23.8zM241.5 1095.0h23.8v4.6h-23.8zM241.5 1136.0h23.8v4.6h-23.8zM241.5 1156.4h23.8v4.6h-23.8zM241.5 1187.1h23.8v4.6h-23.8zM241.5 1192.2h23.8v4.6h-23.8zM241.5 1207.6h23.8v4.6h-23.8zM241.5 1294.5h23.8v4.6h-23.8zM241.5 1315.0h23.8v4.6h-23.8zM266.6 900.7h23.8v4.6h-23.8zM266.6 1049.0h23.8v4.6h-23.8zM266.6 1054.1h23.8v4.6h-23.8zM266.6 1059.2h23.8v4.6h-23.8zM266.6 1309.9h23.8v4.6h-23.8zM266.6 1315.0h23.8v4.6h-23.8zM291.7 1320.1h23.8v4.6h-23.8zM291.7 1355.9h23.8v4.6h-23.8zM316.8 818.8h23.8v4.6h-23.8zM316.8 823.9h23.8v4.6h-23.8zM316.8 844.4h23.8v4.6h-23.8zM316.8 926.2h23.8v4.6h-23.8zM316.8 931.4h23.8v4.6h-23.8zM316.8 1038.8h23.8v4.6h-23.8zM316.8 1125.7h23.8v4.6h-23.8zM316.8 1192.2h23.8v4.6h-23.8zM316.8 1269.0h23.8v4.6h-23.8zM316.8 1391.7h23.8v4.6h-23.8zM316.8 1396.8h23.8v4.6h-23.8zM341.9 808.6h23.8v4.6h-23.8zM341.9 890.4h23.8v4.6h-23.8zM341.9 895.6h23.8v4.6h-23.8zM341.9 900.7h23.8v4.6h-23.8zM341.9 1202.5h23.8v4.6h-23.8zM341.9 1228.0h23.8v4.6h-23.8zM341.9 1263.8h23.8v4.6h-23.8zM341.9 1289.4h23.8v4.6h-23.8zM341.9 1294.5h23.8v4.6h-23.8zM341.9 1309.9h23.8v4.6h-23.8zM341.9 1315.0h23.8v4.6h-23.8zM341.9 1366.1h23.8v4.6h-23.8zM341.9 1381.5h23.8v4.6h-23.8zM366.9 962.1h23.8v4.6h-23.8zM366.9 967.2h23.8v4.6h-23.8zM366.9 1008.1h23.8v4.6h-23.8zM366.9 1079.7h23.8v4.6h-23.8zM366.9 1105.3h23.8v4.6h-23.8zM366.9 1110.4h23.8v4.6h-23.8zM366.9 1361.0h23.8v4.6h-23.8zM392.0 808.6h23.8v4.6h-23.8zM392.0 910.9h23.8v4.6h-23.8zM392.0 926.2h23.8v4.6h-23.8zM392.0 1008.1h23.8v4.6h-23.8zM392.0 1084.8h23.8v4.6h-23.8zM392.0 1248.5h23.8v4.6h-23.8zM417.1 1054.1h23.8v4.6h-23.8zM417.1 1089.9h23.8v4.6h-23.8zM417.1 1233.1h23.8v4.6h-23.8zM417.1 1269.0h23.8v4.6h-23.8zM442.2 885.3h23.8v4.6h-23.8zM442.2 1013.2h23.8v4.6h-23.8zM442.2 1033.7h23.8v4.6h-23.8zM442.2 1054.1h23.8v4.6h-23.8zM442.2 1069.5h23.8v4.6h-23.8zM442.2 1079.7h23.8v4.6h-23.8zM442.2 1084.8h23.8v4.6h-23.8zM442.2 1089.9h23.8v4.6h-23.8zM442.2 1100.2h23.8v4.6h-23.8zM442.2 1171.8h23.8v4.6h-23.8zM442.2 1176.9h23.8v4.6h-23.8zM442.2 1274.1h23.8v4.6h-23.8zM442.2 1304.8h23.8v4.6h-23.8zM467.3 834.2h23.8v4.6h-23.8zM467.3 1115.5h23.8v4.6h-23.8zM467.3 1125.7h23.8v4.6h-23.8zM467.3 1130.8h23.8v4.6h-23.8zM467.3 1156.4h23.8v4.6h-23.8zM467.3 1161.5h23.8v4.6h-23.8zM492.3 849.5h24.7v4.6h-24.7zM492.3 859.8h24.7v4.6h-24.7zM492.3 910.9h24.7v4.6h-24.7zM492.3 951.8h24.7v4.6h-24.7zM492.3 1003.0h24.7v4.6h-24.7zM492.3 1008.1h24.7v4.6h-24.7zM492.3 1120.6h24.7v4.6h-24.7zM492.3 1238.3h24.7v4.6h-24.7zM492.3 1279.2h24.7v4.6h-24.7z" fill="#fde3e2"/><path d="M85.9 870.0h23.8v4.6h-23.8zM85.9 916.0h23.8v4.6h-23.8zM85.9 921.1h23.8v4.6h-23.8zM85.9 1202.5h23.8v4.6h-23.8zM136.3 813.7h23.8v4.6h-23.8zM136.3 844.4h23.8v4.6h-23.8zM136.3 875.1h23.8v4.6h-23.8zM136.3 880.2h23.8v4.6h-23.8zM136.3 905.8h23.8v4.6h-23.8zM136.3 1008.1h23.8v4.6h-23.8zM136.3 1105.3h23.8v4.6h-23.8zM191.4 890.4h23.8v4.6h-23.8zM191.4 905.8h23.8v4.6h-23.8zM191.4 910.9h23.8v4.6h-23.8zM191.4 956.9h23.8v4.6h-23.8zM191.4 972.3h23.8v4.6h-23.8zM191.4 987.6h23.8v4.6h-23.8zM191.4 997.9h23.8v4.6h-23.8zM191.4 1003.0h23.8v4.6h-23.8zM191.4 1008.1h23.8v4.6h-23.8zM191.4 1013.2h23.8v4.6h-23.8zM191.4 1028.5h23.8v4.6h-23.8zM191.4 1054.1h23.8v4.6h-23.8zM191.4 1059.2h23.8v4.6h-23.8zM191.4 1089.9h23.8v4.6h-23.8zM191.4 1125.7h23.8v4.6h-23.8zM191.4 1141.1h23.8v4.6h-23.8zM216.5 890.4h23.8v4.6h-23.8zM216.5 910.9h23.8v4.6h-23.8zM216.5 921.1h23.8v4.6h-23.8zM216.5 977.4h23.8v4.6h-23.8zM216.5 992.7h23.8v4.6h-23.8zM216.5 1074.6h23.8v4.6h-23.8zM241.5 834.2h23.8v4.6h-23.8zM241.5 839.3h23.8v4.6h-23.8zM241.5 910.9h23.8v4.6h-23.8zM241.5 921.1h23.8v4.6h-23.8zM241.5 926.2h23.8v4.6h-23.8zM241.5 931.4h23.8v4.6h-23.8zM241.5 1008.1h23.8v4.6h-23.8zM241.5 1028.5h23.8v4.6h-23.8zM241.5 1043.9h23.8v4.6h-23.8zM241.5 1049.0h23.8v4.6h-23.8zM241.5 1079.7h23.8v4.6h-23.8zM266.6 808.6h23.8v4.6h-23.8zM266.6 849.5h23.8v4.6h-23.8zM266.6 921.1h23.8v4.6h-23.8zM266.6 946.7h23.8v4.6h-23.8zM266.6 997.9h23.8v4.6h-23.8zM266.6 1320.1h23.8v4.6h-23.8zM291.7 834.2h23.8v4.6h-23.8zM291.7 900.7h23.8v4.6h-23.8zM291.7 905.8h23.8v4.6h-23.8zM291.7 921.1h23.8v4.6h-23.8zM291.7 941.6h23.8v4.6h-23.8zM291.7 946.7h23.8v4.6h-23.8zM291.7 987.6h23.8v4.6h-23.8zM291.7 1110.4h23.8v4.6h-23.8zM291.7 1156.4h23.8v4.6h-23.8zM291.7 1161.5h23.8v4.6h-23.8zM291.7 1248.5h23.8v4.6h-23.8zM291.7 1381.5h23.8v4.6h-23.8zM291.7 1386.6h23.8v4.6h-23.8zM316.8 1176.9h23.8v4.6h-23.8zM316.8 1202.5h23.8v4.6h-23.8zM316.8 1207.6h23.8v4.6h-23.8zM316.8 1212.7h23.8v4.6h-23.8zM316.8 1222.9h23.8v4.6h-23.8zM316.8 1233.1h23.8v4.6h-23.8zM316.8 1238.3h23.8v4.6h-23.8zM341.9 854.6h23.8v4.6h-23.8zM341.9 859.8h23.8v4.6h-23.8zM341.9 982.5h23.8v4.6h-23.8zM341.9 1125.7h23.8v4.6h-23.8zM341.9 1182.0h23.8v4.6h-23.8zM341.9 1320.1h23.8v4.6h-23.8zM366.9 849.5h23.8v4.6h-23.8zM366.9 1279.2h23.8v4.6h-23.8zM366.9 1284.3h23.8v4.6h-23.8zM366.9 1315.0h23.8v4.6h-23.8zM392.0 1161.5h23.8v4.6h-23.8zM392.0 1171.8h23.8v4.6h-23.8zM392.0 1202.5h23.8v4.6h-23.8zM417.1 1003.0h23.8v4.6h-23.8zM417.1 1130.8h23.8v4.6h-23.8zM417.1 1161.5h23.8v4.6h-23.8zM417.1 1171.8h23.8v4.6h-23.8zM417.1 1217.8h23.8v4.6h-23.8zM417.1 1309.9h23.8v4.6h-23.8zM417.1 1325.2h23.8v4.6h-23.8zM442.2 1202.5h23.8v4.6h-23.8zM442.2 1217.8h23.8v4.6h-23.8zM442.2 1222.9h23.8v4.6h-23.8zM442.2 1243.4h23.8v4.6h-23.8zM467.3 844.4h23.8v4.6h-23.8zM467.3 870.0h23.8v4.6h-23.8zM467.3 951.8h23.8v4.6h-23.8zM467.3 1043.9h23.8v4.6h-23.8zM467.3 1064.3h23.8v4.6h-23.8zM467.3 1197.3h23.8v4.6h-23.8zM467.3 1248.5h23.8v4.6h-23.8zM467.3 1315.0h23.8v4.6h-23.8zM467.3 1320.1h23.8v4.6h-23.8zM467.3 1330.3h23.8v4.6h-23.8zM467.3 1335.4h23.8v4.6h-23.8zM467.3 1355.9h23.8v4.6h-23.8zM467.3 1366.1h23.8v4.6h-23.8zM492.3 839.3h24.7v4.6h-24.7zM492.3 1166.7h24.7v4.6h-24.7zM492.3 1171.8h24.7v4.6h-24.7z" fill="#428ad0"/><path d="M85.9 875.1h23.8v4.6h-23.8zM85.9 1156.4h23.8v4.6h-23.8zM85.9 1294.5h23.8v4.6h-23.8zM85.9 1304.8h23.8v4.6h-23.8zM85.9 1309.9h23.8v4.6h-23.8zM85.9 1315.0h23.8v4.6h-23.8zM85.9 1350.8h23.8v4.6h-23.8zM85.9 1371.2h23.8v4.6h-23.8zM85.9 1381.5h23.8v4.6h-23.8zM85.9 1396.8h23.8v4.6h-23.8zM111.1 818.8h23.8v4.6h-23.8zM111.1 967.2h23.8v4.6h-23.8zM111.1 1023.4h23.8v4.6h-23.8zM111.1 1299.6h23.8v4.6h-23.8zM111.1 1330.3h23.8v4.6h-23.8zM111.1 1391.7h23.8v4.6h-23.8zM136.3 829.1h23.8v4.6h-23.8zM136.3 941.6h23.8v4.6h-23.8zM136.3 1074.6h23.8v4.6h-23.8zM136.3 1151.3h23.8v4.6h-23.8zM136.3 1228.0h23.8v4.6h-23.8zM136.3 1289.4h23.8v4.6h-23.8zM136.3 1299.6h23.8v4.6h-23.8zM136.3 1355.9h23.8v4.6h-23.8zM136.3 1396.8h23.8v4.6h-23.8zM166.3 967.2h23.8v4.6h-23.8zM166.3 1187.1h23.8v4.6h-23.8zM166.3 1294.5h23.8v4.6h-23.8zM166.3 1304.8h23.8v4.6h-23.8zM166.3 1350.8h23.8v4.6h-23.8zM166.3 1381.5h23.8v4.6h-23.8zM191.4 829.1h23.8v4.6h-23.8zM191.4 834.2h23.8v4.6h-23.8zM191.4 844.4h23.8v4.6h-23.8zM191.4 849.5h23.8v4.6h-23.8zM191.4 880.2h23.8v4.6h-23.8zM191.4 1233.1h23.8v4.6h-23.8zM191.4 1299.6h23.8v4.6h-23.8zM191.4 1309.9h23.8v4.6h-23.8zM216.5 1187.1h23.8v4.6h-23.8zM241.5 1176.9h23.8v4.6h-23.8zM241.5 1263.8h23.8v4.6h-23.8zM241.5 1335.4h23.8v4.6h-23.8zM266.6 987.6h23.8v4.6h-23.8zM291.7 875.1h23.8v4.6h-23.8zM291.7 895.6h23.8v4.6h-23.8zM291.7 1100.2h23.8v4.6h-23.8zM316.8 1136.0h23.8v4.6h-23.8zM341.9 1274.1h23.8v4.6h-23.8zM366.9 1049.0h23.8v4.6h-23.8zM392.0 875.1h23.8v4.6h-23.8zM392.0 880.2h23.8v4.6h-23.8zM392.0 900.7h23.8v4.6h-23.8zM392.0 905.8h23.8v4.6h-23.8zM392.0 1289.4h23.8v4.6h-23.8zM392.0 1320.1h23.8v4.6h-23.8zM392.0 1340.6h23.8v4.6h-23.8zM417.1 880.2h23.8v4.6h-23.8zM417.1 895.6h23.8v4.6h-23.8zM442.2 813.7h23.8v4.6h-23.8zM442.2 854.6h23.8v4.6h-23.8zM442.2 870.0h23.8v4.6h-23.8zM442.2 1136.0h23.8v4.6h-23.8zM442.2 1396.8h23.8v4.6h-23.8zM467.3 890.4h23.8v4.6h-23.8zM467.3 987.6h23.8v4.6h-23.8zM467.3 1013.2h23.8v4.6h-23.8zM467.3 1136.0h23.8v4.6h-23.8zM467.3 1151.3h23.8v4.6h-23.8zM467.3 1228.0h23.8v4.6h-23.8zM492.3 813.7h24.7v4.6h-24.7zM492.3 829.1h24.7v4.6h-24.7zM492.3 875.1h24.7v4.6h-24.7zM492.3 926.2h24.7v4.6h-24.7zM492.3 982.5h24.7v4.6h-24.7zM492.3 1013.2h24.7v4.6h-24.7zM492.3 1038.8h24.7v4.6h-24.7zM492.3 1049.0h24.7v4.6h-24.7zM492.3 1064.3h24.7v4.6h-24.7zM492.3 1069.5h24.7v4.6h-24.7zM492.3 1095.0h24.7v4.6h-24.7zM492.3 1125.7h24.7v4.6h-24.7zM492.3 1217.8h24.7v4.6h-24.7zM492.3 1355.9h24.7v4.6h-24.7zM492.3 1361.0h24.7v4.6h-24.7zM492.3 1386.6h24.7v4.6h-24.7zM492.3 1391.7h24.7v4.6h-24.7z" fill="#f0646a"/><path d="M85.9 1028.5h23.8v4.6h-23.8zM85.9 1033.7h23.8v4.6h-23.8zM85.9 1054.1h23.8v4.6h-23.8zM85.9 1059.2h23.8v4.6h-23.8zM85.9 1084.8h23.8v4.6h-23.8zM111.1 895.6h23.8v4.6h-23.8zM136.3 808.6h23.8v4.6h-23.8zM136.3 823.9h23.8v4.6h-23.8zM136.3 885.3h23.8v4.6h-23.8zM136.3 1023.4h23.8v4.6h-23.8zM136.3 1084.8h23.8v4.6h-23.8zM136.3 1125.7h23.8v4.6h-23.8zM136.3 1238.3h23.8v4.6h-23.8zM166.3 808.6h23.8v4.6h-23.8zM166.3 823.9h23.8v4.6h-23.8zM166.3 1115.5h23.8v4.6h-23.8zM191.4 885.3h23.8v4.6h-23.8zM191.4 900.7h23.8v4.6h-23.8zM191.4 916.0h23.8v4.6h-23.8zM191.4 977.4h23.8v4.6h-23.8zM191.4 1038.8h23.8v4.6h-23.8zM191.4 1130.8h23.8v4.6h-23.8zM191.4 1136.0h23.8v4.6h-23.8zM191.4 1345.7h23.8v4.6h-23.8zM191.4 1355.9h23.8v4.6h-23.8zM216.5 839.3h23.8v4.6h-23.8zM216.5 905.8h23.8v4.6h-23.8zM216.5 987.6h23.8v4.6h-23.8zM216.5 997.9h23.8v4.6h-23.8zM216.5 1013.2h23.8v4.6h-23.8zM216.5 1176.9h23.8v4.6h-23.8zM216.5 1233.1h23.8v4.6h-23.8zM216.5 1258.7h23.8v4.6h-23.8zM216.5 1279.2h23.8v4.6h-23.8zM216.5 1335.4h23.8v4.6h-23.8zM216.5 1386.6h23.8v4.6h-23.8zM241.5 808.6h23.8v4.6h-23.8zM241.5 823.9h23.8v4.6h-23.8zM241.5 880.2h23.8v4.6h-23.8zM241.5 895.6h23.8v4.6h-23.8zM241.5 916.0h23.8v4.6h-23.8zM241.5 997.9h23.8v4.6h-23.8zM241.5 1033.7h23.8v4.6h-23.8zM241.5 1038.8h23.8v4.6h-23.8zM241.5 1054.1h23.8v4.6h-23.8zM241.5 1064.3h23.8v4.6h-23.8zM241.5 1120.6h23.8v4.6h-23.8zM241.5 1361.0h23.8v4.6h-23.8zM266.6 818.8h23.8v4.6h-23.8zM266.6 844.4h23.8v4.6h-23.8zM266.6 854.6h23.8v4.6h-23.8zM266.6 895.6h23.8v4.6h-23.8zM266.6 962.1h23.8v4.6h-23.8zM266.6 1074.6h23.8v4.6h-23.8zM266.6 1079.7h23.8v4.6h-23.8zM266.6 1095.0h23.8v4.6h-23.8zM266.6 1115.5h23.8v4.6h-23.8zM266.6 1120.6h23.8v4.6h-23.8zM266.6 1335.4h23.8v4.6h-23.8zM266.6 1361.0h23.8v4.6h-23.8zM266.6 1391.7h23.8v4.6h-23.8zM291.7 829.1h23.8v4.6h-23.8zM291.7 839.3h23.8v4.6h-23.8zM291.7 992.7h23.8v4.6h-23.8zM291.7 1008.1h23.8v4.6h-23.8zM291.7 1013.2h23.8v4.6h-23.8zM291.7 1023.4h23.8v4.6h-23.8zM291.7 1028.5h23.8v4.6h-23.8zM291.7 1222.9h23.8v4.6h-23.8zM291.7 1228.0h23.8v4.6h-23.8zM291.7 1274.1h23.8v4.6h-23.8zM291.7 1284.3h23.8v4.6h-23.8zM291.7 1289.4h23.8v4.6h-23.8zM291.7 1294.5h23.8v4.6h-23.8zM291.7 1304.8h23.8v4.6h-23.8zM291.7 1309.9h23.8v4.6h-23.8zM291.7 1330.3h23.8v4.6h-23.8zM316.8 880.2h23.8v4.6h-23.8zM316.8 921.1h23.8v4.6h-23.8zM316.8 951.8h23.8v4.6h-23.8zM316.8 1023.4h23.8v4.6h-23.8zM316.8 1100.2h23.8v4.6h-23.8zM316.8 1151.3h23.8v4.6h-23.8zM316.8 1197.3h23.8v4.6h-23.8zM316.8 1243.4h23.8v4.6h-23.8zM316.8 1320.1h23.8v4.6h-23.8zM316.8 1330.3h23.8v4.6h-23.8zM316.8 1361.0h23.8v4.6h-23.8zM341.9 823.9h23.8v4.6h-23.8zM341.9 844.4h23.8v4.6h-23.8zM341.9 849.5h23.8v4.6h-23.8zM341.9 875.1h23.8v4.6h-23.8zM341.9 916.0h23.8v4.6h-23.8zM341.9 946.7h23.8v4.6h-23.8zM341.9 977.4h23.8v4.6h-23.8zM341.9 1038.8h23.8v4.6h-23.8zM341.9 1059.2h23.8v4.6h-23.8zM341.9 1064.3h23.8v4.6h-23.8zM341.9 1069.5h23.8v4.6h-23.8zM341.9 1187.1h23.8v4.6h-23.8zM341.9 1207.6h23.8v4.6h-23.8zM341.9 1238.3h23.8v4.6h-23.8zM341.9 1243.4h23.8v4.6h-23.8zM341.9 1279.2h23.8v4.6h-23.8zM341.9 1325.2h23.8v4.6h-23.8zM341.9 1330.3h23.8v4.6h-23.8zM341.9 1335.4h23.8v4.6h-23.8zM341.9 1350.8h23.8v4.6h-23.8zM341.9 1355.9h23.8v4.6h-23.8zM341.9 1396.8h23.8v4.6h-23.8zM366.9 844.4h23.8v4.6h-23.8zM366.9 1151.3h23.8v4.6h-23.8zM366.9 1299.6h23.8v4.6h-23.8zM366.9 1309.9h23.8v4.6h-23.8zM392.0 972.3h23.8v4.6h-23.8zM392.0 992.7h23.8v4.6h-23.8zM392.0 1003.0h23.8v4.6h-23.8zM392.0 1038.8h23.8v4.6h-23.8zM392.0 1043.9h23.8v4.6h-23.8zM392.0 1100.2h23.8v4.6h-23.8zM392.0 1105.3h23.8v4.6h-23.8zM392.0 1120.6h23.8v4.6h-23.8zM392.0 1125.7h23.8v4.6h-23.8zM392.0 1130.8h23.8v4.6h-23.8zM392.0 1156.4h23.8v4.6h-23.8zM392.0 1192.2h23.8v4.6h-23.8zM392.0 1228.0h23.8v4.6h-23.8zM392.0 1238.3h23.8v4.6h-23.8zM392.0 1325.2h23.8v4.6h-23.8zM417.1 946.7h23.8v4.6h-23.8zM417.1 972.3h23.8v4.6h-23.8zM417.1 1105.3h23.8v4.6h-23.8zM417.1 1151.3h23.8v4.6h-23.8zM417.1 1156.4h23.8v4.6h-23.8zM417.1 1228.0h23.8v4.6h-23.8zM417.1 1315.0h23.8v4.6h-23.8zM442.2 905.8h23.8v4.6h-23.8zM442.2 967.2h23.8v4.6h-23.8zM442.2 1023.4h23.8v4.6h-23.8zM442.2 1248.5h23.8v4.6h-23.8zM442.2 1263.8h23.8v4.6h-23.8zM442.2 1320.1h23.8v4.6h-23.8zM467.3 1294.5h23.8v4.6h-23.8zM467.3 1304.8h23.8v4.6h-23.8zM467.3 1350.8h23.8v4.6h-23.8zM467.3 1391.7h23.8v4.6h-23.8zM467.3 1396.8h23.8v4.6h-23.8zM492.3 1176.9h24.7v4.6h-24.7zM492.3 1197.3h24.7v4.6h-24.7zM492.3 1289.4h24.7v4.6h-24.7z" fill="#78b0e2"/><path d="M85.9 1110.4h23.8v4.6h-23.8zM85.9 1120.6h23.8v4.6h-23.8zM85.9 1192.2h23.8v4.6h-23.8zM191.4 895.6h23.8v4.6h-23.8zM191.4 982.5h23.8v4.6h-23.8zM191.4 992.7h23.8v4.6h-23.8zM191.4 1033.7h23.8v4.6h-23.8zM191.4 1069.5h23.8v4.6h-23.8zM191.4 1084.8h23.8v4.6h-23.8zM216.5 1059.2h23.8v4.6h-23.8zM216.5 1079.7h23.8v4.6h-23.8zM216.5 1084.8h23.8v4.6h-23.8zM241.5 844.4h23.8v4.6h-23.8zM241.5 854.6h23.8v4.6h-23.8zM241.5 859.8h23.8v4.6h-23.8zM241.5 864.9h23.8v4.6h-23.8zM241.5 956.9h23.8v4.6h-23.8zM241.5 1069.5h23.8v4.6h-23.8zM241.5 1089.9h23.8v4.6h-23.8zM266.6 864.9h23.8v4.6h-23.8zM266.6 941.6h23.8v4.6h-23.8zM266.6 1166.7h23.8v4.6h-23.8zM266.6 1176.9h23.8v4.6h-23.8zM266.6 1197.3h23.8v4.6h-23.8zM291.7 808.6h23.8v4.6h-23.8zM291.7 910.9h23.8v4.6h-23.8zM291.7 916.0h23.8v4.6h-23.8zM291.7 926.2h23.8v4.6h-23.8zM291.7 936.5h23.8v4.6h-23.8zM291.7 951.8h23.8v4.6h-23.8zM291.7 962.1h23.8v4.6h-23.8zM291.7 972.3h23.8v4.6h-23.8zM291.7 977.4h23.8v4.6h-23.8zM291.7 997.9h23.8v4.6h-23.8zM291.7 1192.2h23.8v4.6h-23.8zM291.7 1253.6h23.8v4.6h-23.8zM291.7 1376.4h23.8v4.6h-23.8zM316.8 1033.7h23.8v4.6h-23.8zM316.8 1079.7h23.8v4.6h-23.8zM341.9 1176.9h23.8v4.6h-23.8zM392.0 1207.6h23.8v4.6h-23.8zM417.1 1043.9h23.8v4.6h-23.8zM442.2 1207.6h23.8v4.6h-23.8zM442.2 1212.7h23.8v4.6h-23.8zM442.2 1233.1h23.8v4.6h-23.8zM442.2 1238.3h23.8v4.6h-23.8zM467.3 967.2h23.8v4.6h-23.8zM467.3 1325.2h23.8v4.6h-23.8zM492.3 808.6h24.7v4.6h-24.7zM492.3 885.3h24.7v4.6h-24.7z" fill="#2b66b4"/><path d="M85.9 1161.5h23.8v4.6h-23.8zM85.9 1243.4h23.8v4.6h-23.8zM85.9 1248.5h23.8v4.6h-23.8zM85.9 1279.2h23.8v4.6h-23.8zM166.3 1371.2h23.8v4.6h-23.8zM191.4 1095.0h23.8v4.6h-23.8zM191.4 1115.5h23.8v4.6h-23.8zM241.5 1253.6h23.8v4.6h-23.8zM241.5 1274.1h23.8v4.6h-23.8zM392.0 1284.3h23.8v4.6h-23.8zM442.2 1130.8h23.8v4.6h-23.8zM442.2 1361.0h23.8v4.6h-23.8zM467.3 1146.2h23.8v4.6h-23.8zM492.3 818.8h24.7v4.6h-24.7zM492.3 823.9h24.7v4.6h-24.7zM492.3 931.4h24.7v4.6h-24.7zM492.3 1018.3h24.7v4.6h-24.7zM492.3 1054.1h24.7v4.6h-24.7zM492.3 1258.7h24.7v4.6h-24.7zM492.3 1269.0h24.7v4.6h-24.7zM492.3 1340.6h24.7v4.6h-24.7zM492.3 1345.7h24.7v4.6h-24.7z" fill="#ec3b42"/><path d="M85.9 1233.1h23.8v4.6h-23.8zM85.9 1299.6h23.8v4.6h-23.8zM85.9 1325.2h23.8v4.6h-23.8zM85.9 1330.3h23.8v4.6h-23.8zM85.9 1340.6h23.8v4.6h-23.8zM85.9 1355.9h23.8v4.6h-23.8zM85.9 1366.1h23.8v4.6h-23.8zM111.1 859.8h23.8v4.6h-23.8zM111.1 921.1h23.8v4.6h-23.8zM111.1 931.4h23.8v4.6h-23.8zM111.1 941.6h23.8v4.6h-23.8zM111.1 946.7h23.8v4.6h-23.8zM111.1 951.8h23.8v4.6h-23.8zM111.1 956.9h23.8v4.6h-23.8zM111.1 962.1h23.8v4.6h-23.8zM111.1 1028.5h23.8v4.6h-23.8zM111.1 1079.7h23.8v4.6h-23.8zM111.1 1166.7h23.8v4.6h-23.8zM111.1 1263.8h23.8v4.6h-23.8zM111.1 1361.0h23.8v4.6h-23.8zM136.3 834.2h23.8v4.6h-23.8zM136.3 839.3h23.8v4.6h-23.8zM136.3 870.0h23.8v4.6h-23.8zM136.3 962.1h23.8v4.6h-23.8zM136.3 1033.7h23.8v4.6h-23.8zM136.3 1038.8h23.8v4.6h-23.8zM136.3 1182.0h23.8v4.6h-23.8zM136.3 1258.7h23.8v4.6h-23.8zM136.3 1320.1h23.8v4.6h-23.8zM136.3 1340.6h23.8v4.6h-23.8zM136.3 1350.8h23.8v4.6h-23.8zM136.3 1381.5h23.8v4.6h-23.8zM166.3 834.2h23.8v4.6h-23.8zM166.3 839.3h23.8v4.6h-23.8zM166.3 946.7h23.8v4.6h-23.8zM166.3 956.9h23.8v4.6h-23.8zM166.3 962.1h23.8v4.6h-23.8zM166.3 1105.3h23.8v4.6h-23.8zM166.3 1258.7h23.8v4.6h-23.8zM166.3 1299.6h23.8v4.6h-23.8zM166.3 1340.6h23.8v4.6h-23.8zM166.3 1345.7h23.8v4.6h-23.8zM166.3 1366.1h23.8v4.6h-23.8zM166.3 1396.8h23.8v4.6h-23.8zM191.4 813.7h23.8v4.6h-23.8zM191.4 839.3h23.8v4.6h-23.8zM191.4 926.2h23.8v4.6h-23.8zM191.4 1105.3h23.8v4.6h-23.8zM191.4 1182.0h23.8v4.6h-23.8zM191.4 1187.1h23.8v4.6h-23.8zM191.4 1228.0h23.8v4.6h-23.8zM191.4 1238.3h23.8v4.6h-23.8zM191.4 1243.4h23.8v4.6h-23.8zM191.4 1263.8h23.8v4.6h-23.8zM191.4 1269.0h23.8v4.6h-23.8zM191.4 1304.8h23.8v4.6h-23.8zM191.4 1315.0h23.8v4.6h-23.8zM216.5 813.7h23.8v4.6h-23.8zM216.5 1095.0h23.8v4.6h-23.8zM216.5 1105.3h23.8v4.6h-23.8zM216.5 1222.9h23.8v4.6h-23.8zM216.5 1238.3h23.8v4.6h-23.8zM241.5 1130.8h23.8v4.6h-23.8zM241.5 1151.3h23.8v4.6h-23.8zM241.5 1166.7h23.8v4.6h-23.8zM241.5 1171.8h23.8v4.6h-23.8zM241.5 1197.3h23.8v4.6h-23.8zM241.5 1258.7h23.8v4.6h-23.8zM241.5 1320.1h23.8v4.6h-23.8zM266.6 916.0h23.8v4.6h-23.8zM266.6 1023.4h23.8v4.6h-23.8zM291.7 849.5h23.8v4.6h-23.8zM291.7 864.9h23.8v4.6h-23.8zM291.7 870.0h23.8v4.6h-23.8zM291.7 1089.9h23.8v4.6h-23.8zM291.7 1095.0h23.8v4.6h-23.8zM291.7 1125.7h23.8v4.6h-23.8zM291.7 1136.0h23.8v4.6h-23.8zM291.7 1141.1h23.8v4.6h-23.8zM291.7 1151.3h23.8v4.6h-23.8zM316.8 992.7h23.8v4.6h-23.8zM316.8 1130.8h23.8v4.6h-23.8zM316.8 1350.8h23.8v4.6h-23.8zM316.8 1376.4h23.8v4.6h-23.8zM341.9 1018.3h23.8v4.6h-23.8zM341.9 1120.6h23.8v4.6h-23.8zM341.9 1136.0h23.8v4.6h-23.8zM341.9 1151.3h23.8v4.6h-23.8zM341.9 1156.4h23.8v4.6h-23.8zM341.9 1171.8h23.8v4.6h-23.8zM341.9 1345.7h23.8v4.6h-23.8zM366.9 1120.6h23.8v4.6h-23.8zM366.9 1212.7h23.8v4.6h-23.8zM392.0 823.9h23.8v4.6h-23.8zM392.0 829.1h23.8v4.6h-23.8zM392.0 885.3h23.8v4.6h-23.8zM392.0 890.4h23.8v4.6h-23.8zM392.0 895.6h23.8v4.6h-23.8zM392.0 1059.2h23.8v4.6h-23.8zM417.1 823.9h23.8v4.6h-23.8zM417.1 885.3h23.8v4.6h-23.8zM417.1 890.4h23.8v4.6h-23.8zM417.1 905.8h23.8v4.6h-23.8zM417.1 1028.5h23.8v4.6h-23.8zM417.1 1074.6h23.8v4.6h-23.8zM417.1 1115.5h23.8v4.6h-23.8zM442.2 818.8h23.8v4.6h-23.8zM442.2 823.9h23.8v4.6h-23.8zM442.2 829.1h23.8v4.6h-23.8zM442.2 839.3h23.8v4.6h-23.8zM442.2 849.5h23.8v4.6h-23.8zM442.2 864.9h23.8v4.6h-23.8zM442.2 1003.0h23.8v4.6h-23.8zM442.2 1110.4h23.8v4.6h-23.8zM442.2 1141.1h23.8v4.6h-23.8zM442.2 1182.0h23.8v4.6h-23.8zM442.2 1192.2h23.8v4.6h-23.8zM442.2 1371.2h23.8v4.6h-23.8zM442.2 1391.7h23.8v4.6h-23.8zM467.3 849.5h23.8v4.6h-23.8zM467.3 895.6h23.8v4.6h-23.8zM467.3 905.8h23.8v4.6h-23.8zM467.3 977.4h23.8v4.6h-23.8zM467.3 992.7h23.8v4.6h-23.8zM467.3 1008.1h23.8v4.6h-23.8zM467.3 1023.4h23.8v4.6h-23.8zM467.3 1028.5h23.8v4.6h-23.8zM467.3 1095.0h23.8v4.6h-23.8zM467.3 1100.2h23.8v4.6h-23.8zM467.3 1105.3h23.8v4.6h-23.8zM467.3 1120.6h23.8v4.6h-23.8zM467.3 1166.7h23.8v4.6h-23.8zM492.3 870.0h24.7v4.6h-24.7zM492.3 880.2h24.7v4.6h-24.7zM492.3 921.1h24.7v4.6h-24.7zM492.3 956.9h24.7v4.6h-24.7zM492.3 972.3h24.7v4.6h-24.7zM492.3 1023.4h24.7v4.6h-24.7zM492.3 1033.7h24.7v4.6h-24.7zM492.3 1059.2h24.7v4.6h-24.7zM492.3 1141.1h24.7v4.6h-24.7zM492.3 1202.5h24.7v4.6h-24.7zM492.3 1207.6h24.7v4.6h-24.7zM492.3 1212.7h24.7v4.6h-24.7zM492.3 1248.5h24.7v4.6h-24.7zM492.3 1299.6h24.7v4.6h-24.7zM492.3 1304.8h24.7v4.6h-24.7zM492.3 1315.0h24.7v4.6h-24.7zM492.3 1320.1h24.7v4.6h-24.7zM492.3 1366.1h24.7v4.6h-24.7zM492.3 1371.2h24.7v4.6h-24.7zM492.3 1376.4h24.7v4.6h-24.7zM492.3 1381.5h24.7v4.6h-24.7z" fill="#f38a8c"/><path d="M85.9 1412.7h23.8v4.6h-23.8zM85.9 1422.9h23.8v4.6h-23.8zM85.9 1433.1h23.8v4.6h-23.8zM85.9 1438.2h23.8v4.6h-23.8zM85.9 1443.2h23.8v4.6h-23.8zM85.9 1448.4h23.8v4.6h-23.8zM111.1 1412.7h23.8v4.6h-23.8zM111.1 1422.9h23.8v4.6h-23.8zM111.1 1428.0h23.8v4.6h-23.8zM111.1 1433.1h23.8v4.6h-23.8zM111.1 1438.2h23.8v4.6h-23.8zM111.1 1443.2h23.8v4.6h-23.8zM111.1 1448.4h23.8v4.6h-23.8zM136.3 1412.7h23.8v4.6h-23.8zM136.3 1422.9h23.8v4.6h-23.8zM136.3 1433.1h23.8v4.6h-23.8zM136.3 1438.2h23.8v4.6h-23.8zM136.3 1448.4h23.8v4.6h-23.8zM166.3 1412.7h23.8v4.6h-23.8zM166.3 1438.2h23.8v4.6h-23.8zM191.4 1438.2h23.8v4.6h-23.8zM216.5 1417.8h23.8v4.6h-23.8zM216.5 1433.1h23.8v4.6h-23.8zM241.5 1438.2h23.8v4.6h-23.8zM266.6 1412.7h23.8v4.6h-23.8zM266.6 1428.0h23.8v4.6h-23.8zM266.6 1438.2h23.8v4.6h-23.8zM266.6 1448.4h23.8v4.6h-23.8zM291.7 1412.7h23.8v4.6h-23.8zM316.8 1433.1h23.8v4.6h-23.8zM341.9 1417.8h23.8v4.6h-23.8zM341.9 1422.9h23.8v4.6h-23.8zM341.9 1428.0h23.8v4.6h-23.8zM341.9 1448.4h23.8v4.6h-23.8zM366.9 1412.7h23.8v4.6h-23.8zM366.9 1417.8h23.8v4.6h-23.8zM366.9 1422.9h23.8v4.6h-23.8zM366.9 1433.1h23.8v4.6h-23.8zM366.9 1438.2h23.8v4.6h-23.8zM366.9 1443.2h23.8v4.6h-23.8zM392.0 1417.8h23.8v4.6h-23.8zM417.1 1417.8h23.8v4.6h-23.8zM417.1 1433.1h23.8v4.6h-23.8zM417.1 1438.2h23.8v4.6h-23.8zM442.2 1438.2h23.8v4.6h-23.8zM467.3 1433.1h23.8v4.6h-23.8zM467.3 1448.4h23.8v4.6h-23.8zM492.3 1417.8h24.7v4.6h-24.7zM492.3 1438.2h24.7v4.6h-24.7z" fill="#c3c4c6"/><path d="M85.9 1428.0h23.8v4.6h-23.8zM216.5 1412.7h23.8v4.6h-23.8zM216.5 1422.9h23.8v4.6h-23.8zM316.8 1428.0h23.8v4.6h-23.8zM316.8 1443.2h23.8v4.6h-23.8zM316.8 1448.4h23.8v4.6h-23.8zM442.2 1443.2h23.8v4.6h-23.8zM492.3 1428.0h24.7v4.6h-24.7z" fill="#f38a8c"/><path d="M111.1 1417.8h23.8v4.6h-23.8zM136.3 1417.8h23.8v4.6h-23.8zM166.3 1422.9h23.8v4.6h-23.8zM241.5 1412.7h23.8v4.6h-23.8zM241.5 1448.4h23.8v4.6h-23.8zM291.7 1433.1h23.8v4.6h-23.8zM341.9 1412.7h23.8v4.6h-23.8zM417.1 1422.9h23.8v4.6h-23.8zM442.2 1428.0h23.8v4.6h-23.8zM467.3 1412.7h23.8v4.6h-23.8zM492.3 1433.1h24.7v4.6h-24.7z" fill="#f9b9ba"/><path d="M136.3 1428.0h23.8v4.6h-23.8zM166.3 1433.1h23.8v4.6h-23.8zM241.5 1433.1h23.8v4.6h-23.8zM266.6 1417.8h23.8v4.6h-23.8zM341.9 1433.1h23.8v4.6h-23.8zM392.0 1428.0h23.8v4.6h-23.8zM417.1 1428.0h23.8v4.6h-23.8z" fill="#428ad0"/><path d="M136.3 1443.2h23.8v4.6h-23.8zM191.4 1417.8h23.8v4.6h-23.8zM291.7 1417.8h23.8v4.6h-23.8zM291.7 1422.9h23.8v4.6h-23.8zM341.9 1443.2h23.8v4.6h-23.8z" fill="#2b66b4"/><path d="M166.3 1417.8h23.8v4.6h-23.8zM216.5 1443.2h23.8v4.6h-23.8zM241.5 1428.0h23.8v4.6h-23.8zM266.6 1443.2h23.8v4.6h-23.8zM291.7 1448.4h23.8v4.6h-23.8zM316.8 1417.8h23.8v4.6h-23.8zM392.0 1422.9h23.8v4.6h-23.8zM392.0 1433.1h23.8v4.6h-23.8zM392.0 1438.2h23.8v4.6h-23.8zM442.2 1417.8h23.8v4.6h-23.8zM467.3 1422.9h23.8v4.6h-23.8zM467.3 1428.0h23.8v4.6h-23.8zM467.3 1443.2h23.8v4.6h-23.8zM492.3 1443.2h24.7v4.6h-24.7z" fill="#fde3e2"/><path d="M166.3 1428.0h23.8v4.6h-23.8zM266.6 1422.9h23.8v4.6h-23.8zM291.7 1438.2h23.8v4.6h-23.8zM366.9 1428.0h23.8v4.6h-23.8zM392.0 1412.7h23.8v4.6h-23.8zM417.1 1443.2h23.8v4.6h-23.8zM442.2 1412.7h23.8v4.6h-23.8zM492.3 1412.7h24.7v4.6h-24.7z" fill="#78b0e2"/><path d="M166.3 1443.2h23.8v4.6h-23.8zM166.3 1448.4h23.8v4.6h-23.8zM216.5 1428.0h23.8v4.6h-23.8zM241.5 1443.2h23.8v4.6h-23.8zM266.6 1433.1h23.8v4.6h-23.8zM291.7 1443.2h23.8v4.6h-23.8zM316.8 1422.9h23.8v4.6h-23.8zM366.9 1448.4h23.8v4.6h-23.8zM467.3 1417.8h23.8v4.6h-23.8zM467.3 1438.2h23.8v4.6h-23.8zM492.3 1422.9h24.7v4.6h-24.7z" fill="#e1edf9"/><path d="M191.4 1412.7h23.8v4.6h-23.8zM442.2 1448.4h23.8v4.6h-23.8zM492.3 1448.4h24.7v4.6h-24.7z" fill="#ec3b42"/><path d="M191.4 1433.1h23.8v4.6h-23.8zM191.4 1443.2h23.8v4.6h-23.8zM216.5 1438.2h23.8v4.6h-23.8zM316.8 1438.2h23.8v4.6h-23.8z" fill="#f0646a"/><path d="M241.5 1417.8h23.8v4.6h-23.8zM241.5 1422.9h23.8v4.6h-23.8zM316.8 1412.7h23.8v4.6h-23.8zM341.9 1438.2h23.8v4.6h-23.8zM392.0 1443.2h23.8v4.6h-23.8zM417.1 1412.7h23.8v4.6h-23.8zM417.1 1448.4h23.8v4.6h-23.8z" fill="#b4d4f0"/><path d="M84.5 294.0H80.8V299.1H84.5M84.5 309.3H81.3V314.4H84.5M84.5 319.5H81.4V324.6H84.5M84.5 329.8H81.4V334.9H84.5M81.4 322.1H78.8V332.3H81.4M84.5 345.1H82.1V350.2H84.5M82.1 347.7H81.2V355.3H84.5M84.5 340.0H78.6V351.5H81.2M84.5 370.7H82.1V375.8H84.5M84.5 365.6H81.5V373.2H82.1M84.5 360.5H78.9V369.4H81.5M78.6 345.7H76.0V364.9H78.9M78.8 327.2H72.6V355.3H76.0M72.6 341.3H70.0V380.9H84.5M81.3 311.9H66.0V361.1H70.0M84.5 304.2H62.0V336.5H66.0M80.8 296.5H56.7V320.3H62.0M84.5 386.0H81.5V391.1H84.5M81.5 388.6H78.9V396.3H84.5M84.5 401.4H81.7V406.5H84.5M78.9 392.4H74.8V403.9H81.7M84.5 416.7H81.1V421.8H84.5M84.5 426.9H81.7V432.1H84.5M81.1 419.3H78.2V429.5H81.7M84.5 411.6H74.6V424.4H78.2M84.5 437.2H81.5V442.3H84.5M81.5 439.7H78.7V447.4H84.5M84.5 452.5H82.0V457.6H84.5M82.0 455.1H79.3V462.8H84.5M78.7 443.6H75.3V458.9H79.3M74.6 418.0H70.9V451.2H75.3M74.8 398.2H62.5V434.6H70.9M84.5 467.9H81.9V473.0H84.5M84.5 478.1H81.4V483.2H84.5M84.5 488.3H82.1V493.4H84.5M82.1 490.9H82.1V498.6H84.5M82.1 494.7H80.7V503.7H84.5M81.4 480.7H78.1V499.2H80.7M81.9 470.4H75.5V489.9H78.1M84.5 508.8H81.6V513.9H84.5M81.6 511.3H77.8V519.0H84.5M84.5 534.4H82.1V539.5H84.5M84.5 529.2H81.0V536.9H82.1M84.5 544.6H81.0V549.7H84.5M81.0 533.1H78.4V547.1H81.0M84.5 524.1H75.8V540.1H78.4M77.8 515.2H71.5V532.1H75.8M75.5 480.2H63.0V523.7H71.5M62.5 416.4H57.6V501.9H63.0M84.5 559.9H80.9V565.1H84.5M84.5 570.2H82.1V575.3H84.5M82.1 572.7H81.6V580.4H84.5M84.5 590.6H82.1V595.7H84.5M84.5 585.5H81.6V593.2H82.1M81.6 576.6H79.0V589.3H81.6M80.9 562.5H76.4V583.0H79.0M84.5 600.9H81.9V606.0H84.5M76.4 572.7H73.8V603.4H81.9M84.5 554.8H71.2V588.1H73.8M84.5 611.1H81.2V616.2H84.5M81.2 613.6H78.6V621.3H84.5M84.5 636.7H82.1V641.8H84.5M84.5 631.5H81.1V639.2H82.1M84.5 626.4H78.5V635.4H81.1M78.6 617.5H75.9V630.9H78.5M84.5 652.0H81.6V657.1H84.5M84.5 646.9H79.0V654.6H81.6M84.5 662.2H81.9V667.4H84.5M79.0 650.7H76.2V664.8H81.9M84.5 672.5H80.9V677.6H84.5M84.5 682.7H81.4V687.8H84.5M80.9 675.0H77.8V685.3H81.4M76.2 657.8H73.6V680.1H77.8M75.9 624.2H71.0V669.0H73.6M71.2 571.4H61.0V646.6H71.0M84.5 692.9H80.7V698.0H84.5M84.5 713.4H82.1V718.5H84.5M84.5 708.3H81.6V715.9H82.1M84.5 703.2H79.0V712.1H81.6M84.5 723.6H81.9V728.7H84.5M84.5 739.0H82.1V744.1H84.5M84.5 733.8H81.0V741.5H82.1M81.9 726.2H78.4V737.7H81.0M84.5 749.2H81.8V754.3H84.5M78.4 731.9H75.8V751.8H81.8M79.0 707.6H73.2V741.8H75.8M84.5 759.4H81.7V764.5H84.5M84.5 774.8H82.1V779.9H84.5M84.5 769.7H82.1V777.3H82.1M84.5 785.0H82.1V790.1H84.5M82.1 773.5H79.9V787.6H82.1M81.7 762.0H77.3V780.5H79.9M77.3 771.3H74.7V795.2H84.5M73.2 724.7H70.6V783.2H74.7M80.7 695.5H68.0V754.0H70.6M61.0 609.0H55.4V724.7H68.0M57.6 459.2H51.4V666.9H55.4M56.7 308.4H45.8V563.0H51.4" fill="none" stroke="#111" stroke-width="1.9" stroke-linejoin="miter"/><path d="M84.5 816.0H81.7V821.1H84.5M84.5 831.4H82.1V836.5H84.5M84.5 826.3H81.6V833.9H82.1M81.6 830.1H79.0V841.6H84.5M81.7 818.6H75.9V835.8H79.0M84.5 846.7H81.3V851.8H84.5M84.5 862.1H81.1V867.2H84.5M84.5 856.9H78.4V864.6H81.1M81.3 849.3H75.8V860.8H78.4M75.9 827.2H71.2V855.0H75.8M84.5 877.4H82.1V882.5H84.5M82.1 880.0H80.7V887.6H84.5M84.5 872.3H78.1V883.8H80.7M84.5 903.0H82.1V908.1H84.5M84.5 897.9H80.4V905.5H82.1M84.5 892.7H77.8V901.7H80.4M78.1 878.0H74.7V897.2H77.8M71.2 841.1H64.5V887.6H74.7M84.5 913.2H80.7V918.3H84.5M84.5 923.4H81.9V928.6H84.5M84.5 933.7H81.9V938.8H84.5M81.9 926.0H79.3V936.2H81.9M80.7 915.8H74.9V931.1H79.3M84.5 954.1H81.5V959.2H84.5M84.5 949.0H78.9V956.7H81.5M84.5 964.4H81.5V969.5H84.5M78.9 952.8H74.9V966.9H81.5M84.5 974.6H81.9V979.7H84.5M81.9 977.1H79.3V984.8H84.5M84.5 995.0H82.1V1000.2H84.5M84.5 989.9H79.9V997.6H82.1M84.5 1010.4H82.1V1015.5H84.5M84.5 1005.3H79.9V1013.0H82.1M79.9 993.8H77.3V1009.1H79.9M79.3 981.0H74.7V1001.4H77.3M74.9 959.9H72.1V991.2H74.7M84.5 1025.7H82.1V1030.9H84.5M84.5 1020.6H79.9V1028.3H82.1M84.5 1041.1H82.1V1046.2H84.5M84.5 1036.0H79.9V1043.6H82.1M79.9 1024.5H77.3V1039.8H79.9M84.5 1056.4H82.1V1061.5H84.5M84.5 1051.3H79.9V1059.0H82.1M84.5 1066.7H80.9V1071.8H84.5M79.9 1055.1H77.3V1069.2H80.9M77.3 1032.1H74.7V1062.2H77.3M84.5 1082.0H82.1V1087.1H84.5M84.5 1092.2H82.1V1097.3H84.5M82.1 1094.8H82.1V1102.5H84.5M84.5 1112.7H82.1V1117.8H84.5M84.5 1107.6H82.1V1115.2H82.1M82.1 1098.6H82.1V1111.4H82.1M82.1 1084.6H79.9V1105.0H82.1M84.5 1122.9H80.9V1128.0H84.5M79.9 1094.8H77.3V1125.5H80.9M84.5 1076.9H74.7V1110.1H77.3M74.7 1047.2H72.1V1093.5H74.7M72.1 975.5H69.5V1070.3H72.1M84.5 943.9H66.9V1022.9H69.5M74.9 923.4H64.3V983.4H66.9M84.5 1133.2H81.9V1138.3H84.5M84.5 1143.4H81.9V1148.5H84.5M81.9 1135.7H79.3V1145.9H81.9M84.5 1153.6H80.9V1158.7H84.5M80.9 1156.2H78.0V1163.8H84.5M79.3 1140.8H74.7V1160.0H78.0M84.5 1169.0H82.0V1174.1H84.5M82.0 1171.5H79.4V1179.2H84.5M84.5 1184.3H82.1V1189.4H84.5M82.1 1186.9H80.3V1194.5H84.5M84.5 1199.6H80.6V1204.8H84.5M80.3 1190.7H77.7V1202.2H80.6M79.4 1175.4H75.1V1196.5H77.7M84.5 1209.9H81.5V1215.0H84.5M84.5 1220.1H81.5V1225.2H84.5M81.5 1212.4H77.9V1222.7H81.5M84.5 1230.3H81.7V1235.5H84.5M84.5 1240.6H81.6V1245.7H84.5M81.7 1232.9H79.0V1243.1H81.6M77.9 1217.5H74.7V1238.0H79.0M84.5 1255.9H82.1V1261.0H84.5M82.1 1258.5H81.4V1266.1H84.5M84.5 1250.8H78.8V1262.3H81.4M84.5 1271.3H81.6V1276.4H84.5M81.6 1273.8H78.4V1281.5H84.5M84.5 1286.6H81.7V1291.7H84.5M78.4 1277.7H74.8V1289.2H81.7M78.8 1256.6H71.8V1283.4H74.8M74.7 1227.8H69.2V1270.0H71.8M84.5 1296.8H81.7V1301.9H84.5M84.5 1312.2H82.1V1317.3H84.5M82.1 1314.7H81.9V1322.4H84.5M84.5 1307.1H79.3V1318.6H81.9M81.7 1299.4H74.6V1312.8H79.3M84.5 1327.5H81.6V1332.6H84.5M81.6 1330.1H78.3V1337.8H84.5M84.5 1342.9H80.4V1348.0H84.5M78.3 1333.9H75.6V1345.4H80.4M74.6 1306.1H71.8V1339.7H75.6M84.5 1353.1H81.4V1358.2H84.5M84.5 1373.6H82.1V1378.7H84.5M84.5 1368.4H80.5V1376.1H82.1M84.5 1363.3H77.9V1372.3H80.5M81.4 1355.7H74.7V1367.8H77.9M84.5 1388.9H82.1V1394.0H84.5M82.1 1391.5H81.9V1399.1H84.5M84.5 1383.8H79.3V1395.3H81.9M74.7 1361.7H71.8V1389.5H79.3M71.8 1322.9H69.2V1375.6H71.8M69.2 1248.9H66.6V1349.3H69.2M75.1 1185.9H64.0V1299.1H66.6M74.7 1150.4H60.5V1242.5H64.0M64.3 953.4H53.7V1196.5H60.5M64.5 864.4H49.9V1074.9H53.7M84.5 810.9H45.4V969.7H49.9" fill="none" stroke="#111" stroke-width="1.9" stroke-linejoin="miter"/><path d="M84.5 1415.0H73.0V1420.1H84.5M84.5 1430.2H80.9V1435.4H84.5M84.5 1425.2H73.5V1432.8H80.9M84.5 1445.6H80.6V1450.7H84.5M84.5 1440.5H75.0V1448.1H80.6M73.5 1429.0H67.0V1444.3H75.0M73.0 1417.5H59.5V1436.6H67.0" fill="none" stroke="#111" stroke-width="1.9" stroke-linejoin="miter"/><text x="1161.8" y="57" text-anchor="middle">T1-stage ESCC</text><line x1="1031" y1="71.7" x2="1290.6" y2="71.7" stroke="#16100e" stroke-width="2.4"/><rect x="638.2" y="87.3" width="243.8" height="79.3" rx="15" fill="#fff" stroke="#111" stroke-width="3.4"/><rect x="906.5" y="87.3" width="243.9" height="79.3" rx="15" fill="#fff" stroke="#111" stroke-width="3.4"/><rect x="1174.6" y="87.3" width="244.2" height="79.3" rx="15" fill="#fff" stroke="#111" stroke-width="3.4"/><text x="760" y="118" text-anchor="middle">Healthy control</text><text x="760" y="150" text-anchor="middle">(n = 12)</text><text x="1028.5" y="118" text-anchor="middle">w/o LNM (T1N0M0)</text><text x="1025.5" y="150" text-anchor="middle">(n = 12)</text><text x="1296.5" y="118" text-anchor="middle">w/ LNM (T1N1M0)</text><text x="1296.5" y="150" text-anchor="middle">(n = 12)</text><path d="M760 167V209H1297V167" fill="none" stroke="#111" stroke-width="3.4"/><line x1="1028.5" y1="167" x2="1028.5" y2="239.5" stroke="#111" stroke-width="3.4"/><path d="M1028.5 251.5L1018 226.5L1028.5 233.5L1039 226.5Z" fill="#111"/><rect x="769.3" y="253" width="518.7" height="231.5" rx="17" fill="#fff" stroke="#111" stroke-width="3.4"/><text x="1028.5" y="290.5" text-anchor="middle">HuProt Proteome array screening</text><text x="1028.5" y="322" text-anchor="middle">(with 19,394 human recombinant proteins,</text><text x="1025" y="353.5" text-anchor="middle">covering ~75% human genome ORFs)</text><rect x="867.8" y="367.7" width="322.4" height="108.2" fill="#fff" stroke="#111" stroke-width="2.6"/><rect x="898.4" y="373" width="287.4" height="96.6" fill="#050805"/><rect x="872.5" y="381.5" width="20" height="1" fill="#111"/><rect x="872.5" y="385" width="20" height="2" fill="#111"/><rect x="872.5" y="389.5" width="20" height="1" fill="#111"/><rect x="872.5" y="397" width="20" height="3" fill="#111"/><rect x="872.5" y="403.5" width="20" height="4.5" fill="#111"/><rect x="872.5" y="411.5" width="20" height="1" fill="#111"/><rect x="872.5" y="416" width="20" height="5" fill="#111"/><rect x="872.5" y="424" width="20" height="1" fill="#111"/><rect x="872.5" y="428.5" width="20" height="2" fill="#111"/><rect x="872.5" y="433" width="20" height="1" fill="#111"/><rect x="872.5" y="437" width="20" height="2.5" fill="#111"/><rect x="872.5" y="442" width="20" height="1" fill="#111"/><rect x="872.5" y="446" width="20" height="2.5" fill="#111"/><rect x="872.5" y="451" width="20" height="1" fill="#111"/><rect x="872.5" y="455" width="20" height="1.2" fill="#111"/><rect x="872.5" y="459" width="20" height="1.2" fill="#111"/><path d="M901.1 375.6h19.4v19.8h-19.4zM925.1 375.6h19.4v19.8h-19.4zM1020.9 375.6h19.4v19.8h-19.4zM1140.6 375.6h19.4v19.8h-19.4zM1020.9 399.8h19.4v19.8h-19.4zM973.0 423.9h19.4v19.8h-19.4zM1020.9 423.9h19.4v19.8h-19.4z" fill="#0c2e17"/><path d="M949.0 375.6h19.4v19.8h-19.4zM1068.8 375.6h19.4v19.8h-19.4zM1116.7 375.6h19.4v19.8h-19.4zM925.1 399.8h19.4v19.8h-19.4zM973.0 399.8h19.4v19.8h-19.4zM949.0 423.9h19.4v19.8h-19.4zM996.9 423.9h19.4v19.8h-19.4zM1068.8 423.9h19.4v19.8h-19.4zM1092.7 423.9h19.4v19.8h-19.4zM1164.5 423.9h19.4v19.8h-19.4zM901.1 448.1h19.4v19.8h-19.4zM1068.8 448.1h19.4v19.8h-19.4z" fill="#0e331a"/><path d="M973.0 375.6h19.4v19.8h-19.4zM996.9 375.6h19.4v19.8h-19.4zM1044.8 375.6h19.4v19.8h-19.4zM1092.7 375.6h19.4v19.8h-19.4zM1164.5 375.6h19.4v19.8h-19.4zM901.1 399.8h19.4v19.8h-19.4zM1116.7 399.8h19.4v19.8h-19.4zM1140.6 399.8h19.4v19.8h-19.4zM925.1 423.9h19.4v19.8h-19.4zM1044.8 423.9h19.4v19.8h-19.4zM1116.7 423.9h19.4v19.8h-19.4zM1044.8 448.1h19.4v19.8h-19.4zM1116.7 448.1h19.4v19.8h-19.4zM1164.5 448.1h19.4v19.8h-19.4z" fill="#0b2a14"/><path d="M949.0 399.8h19.4v19.8h-19.4zM996.9 399.8h19.4v19.8h-19.4zM1044.8 399.8h19.4v19.8h-19.4zM1068.8 399.8h19.4v19.8h-19.4zM925.1 448.1h19.4v19.8h-19.4zM949.0 448.1h19.4v19.8h-19.4zM973.0 448.1h19.4v19.8h-19.4zM996.9 448.1h19.4v19.8h-19.4zM1020.9 448.1h19.4v19.8h-19.4zM1092.7 448.1h19.4v19.8h-19.4zM1140.6 448.1h19.4v19.8h-19.4z" fill="#134322"/><path d="M1092.7 399.8h19.4v19.8h-19.4zM1164.5 399.8h19.4v19.8h-19.4zM901.1 423.9h19.4v19.8h-19.4zM1140.6 423.9h19.4v19.8h-19.4z" fill="#113c1f"/><path d="M909.2 387.9h1.6v5.0h-1.6zM909.9 383.6h1.0v6.5h-1.0zM906.9 377.3h1.0v5.0h-1.0zM912.0 389.6h1.6v2.5h-1.6zM904.9 380.3h1.0v1.5h-1.0zM908.4 384.5h1.6v3.5h-1.6zM911.4 378.0h1.0v1.5h-1.0zM902.7 376.3h1.2v5.0h-1.2zM908.6 383.9h1.6v5.0h-1.6zM907.2 380.8h1.6v3.5h-1.6zM929.8 377.7h1.0v2.5h-1.0zM927.5 381.9h1.6v5.0h-1.6zM927.2 388.2h1.6v6.5h-1.6zM926.8 379.7h1.2v1.5h-1.2zM931.9 383.7h1.0v6.5h-1.0zM958.4 390.3h1.2v3.5h-1.2zM954.2 391.9h1.6v1.5h-1.6zM950.7 383.2h1.6v1.5h-1.6zM959.3 377.8h1.6v6.5h-1.6zM965.3 385.7h1.0v5.0h-1.0zM964.9 388.8h1.2v1.5h-1.2zM951.0 383.3h1.2v3.5h-1.2zM955.9 376.3h1.6v5.0h-1.6zM973.8 389.3h1.0v5.0h-1.0zM984.8 382.1h1.2v6.5h-1.2zM984.9 382.8h1.0v3.5h-1.0zM975.8 381.8h1.0v2.5h-1.0zM989.4 380.9h1.6v1.5h-1.6zM1011.2 392.1h1.0v2.5h-1.0zM1000.9 383.8h1.0v2.5h-1.0zM1010.0 385.3h1.6v1.5h-1.6zM1014.1 378.1h1.6v6.5h-1.6zM1013.6 386.0h1.0v5.0h-1.0zM1000.8 388.3h1.2v5.0h-1.2zM1008.6 379.2h1.2v3.5h-1.2zM1001.8 387.1h1.6v3.5h-1.6zM1005.8 376.5h1.2v3.5h-1.2zM1030.6 387.3h1.0v2.5h-1.0zM1037.2 382.9h1.6v5.0h-1.6zM1029.9 381.1h1.2v6.5h-1.2zM1031.5 376.6h1.6v1.5h-1.6zM1030.5 389.7h1.6v5.0h-1.6zM1023.6 388.0h1.0v3.5h-1.0zM1057.0 390.4h1.6v2.5h-1.6zM1055.8 389.7h1.0v3.5h-1.0zM1060.7 378.3h1.0v2.5h-1.0zM1048.7 386.3h1.6v2.5h-1.6zM1056.3 380.3h1.0v6.5h-1.0zM1060.5 382.0h1.6v6.5h-1.6zM1072.9 381.2h1.2v5.0h-1.2zM1079.6 377.6h1.2v2.5h-1.2zM1084.9 387.5h1.2v3.5h-1.2zM1076.2 387.8h1.2v2.5h-1.2zM1078.2 382.9h1.0v5.0h-1.0zM1093.6 383.6h1.2v6.5h-1.2zM1100.1 376.8h1.2v5.0h-1.2zM1103.9 390.1h1.6v1.5h-1.6zM1100.3 387.2h1.0v2.5h-1.0zM1100.7 383.9h1.0v2.5h-1.0zM1133.7 384.3h1.0v2.5h-1.0zM1130.1 391.8h1.2v1.5h-1.2zM1123.0 384.1h1.2v2.5h-1.2zM1124.9 390.3h1.0v1.5h-1.0zM1147.8 378.4h1.2v3.5h-1.2zM1146.6 382.8h1.6v6.5h-1.6zM1146.1 386.8h1.6v5.0h-1.6zM1173.3 384.8h1.6v2.5h-1.6zM1173.8 388.3h1.6v1.5h-1.6zM1180.8 379.5h1.2v5.0h-1.2zM1170.1 388.0h1.2v6.5h-1.2zM1177.6 380.7h1.2v3.5h-1.2zM914.0 407.5h1.0v6.5h-1.0zM916.6 405.7h1.0v5.0h-1.0zM913.8 410.1h1.2v2.5h-1.2zM906.2 406.8h1.0v6.5h-1.0zM901.6 413.6h1.6v2.5h-1.6zM938.6 407.8h1.6v1.5h-1.6zM931.6 412.1h1.6v1.5h-1.6zM936.9 410.5h1.6v5.0h-1.6zM935.3 407.2h1.0v3.5h-1.0zM929.8 403.7h1.6v1.5h-1.6zM927.1 402.2h1.2v5.0h-1.2zM927.2 400.8h1.6v1.5h-1.6zM963.7 409.6h1.2v3.5h-1.2zM958.1 407.3h1.6v6.5h-1.6zM959.0 400.7h1.6v2.5h-1.6zM959.9 402.1h1.0v3.5h-1.0zM953.6 409.0h1.2v3.5h-1.2zM984.2 409.6h1.6v6.5h-1.6zM980.5 404.4h1.0v6.5h-1.0zM983.2 405.6h1.2v2.5h-1.2zM980.2 408.3h1.6v2.5h-1.6zM982.4 405.4h1.2v6.5h-1.2zM977.5 414.8h1.6v1.5h-1.6zM989.7 406.8h1.6v5.0h-1.6zM1002.7 405.1h1.0v6.5h-1.0zM1012.4 406.7h1.0v3.5h-1.0zM1007.2 412.7h1.0v5.0h-1.0zM1003.5 409.8h1.2v2.5h-1.2zM1002.5 415.2h1.0v2.5h-1.0zM1008.4 402.6h1.0v6.5h-1.0zM1025.2 405.2h1.0v2.5h-1.0zM1035.1 408.2h1.2v3.5h-1.2zM1025.2 403.9h1.6v6.5h-1.6zM1026.0 410.6h1.6v2.5h-1.6zM1022.8 403.7h1.2v6.5h-1.2zM1026.2 409.2h1.0v2.5h-1.0zM1037.3 408.9h1.2v1.5h-1.2zM1049.7 403.0h1.6v5.0h-1.6zM1059.9 402.7h1.6v5.0h-1.6zM1060.0 400.7h1.2v3.5h-1.2zM1056.4 407.3h1.0v6.5h-1.0zM1048.3 403.4h1.0v6.5h-1.0zM1057.3 411.0h1.2v3.5h-1.2zM1058.4 408.5h1.0v5.0h-1.0zM1054.4 413.8h1.0v5.0h-1.0zM1053.2 414.5h1.6v3.5h-1.6zM1073.6 408.7h1.0v3.5h-1.0zM1084.2 413.1h1.0v5.0h-1.0zM1077.7 408.9h1.2v5.0h-1.2zM1078.5 407.1h1.2v2.5h-1.2zM1075.3 404.4h1.6v3.5h-1.6zM1073.7 406.1h1.6v2.5h-1.6zM1071.5 403.9h1.6v3.5h-1.6zM1104.4 402.3h1.6v5.0h-1.6zM1109.2 415.2h1.6v1.5h-1.6zM1097.0 414.4h1.2v3.5h-1.2zM1128.9 408.7h1.6v3.5h-1.6zM1132.3 401.4h1.2v3.5h-1.2zM1127.0 416.5h1.2v1.5h-1.2zM1125.6 407.5h1.2v3.5h-1.2zM1120.5 403.0h1.0v6.5h-1.0zM1142.9 400.5h1.2v3.5h-1.2zM1152.6 413.5h1.6v5.0h-1.6zM1152.2 406.1h1.2v2.5h-1.2zM1155.8 416.3h1.6v2.5h-1.6zM1147.4 410.7h1.2v3.5h-1.2zM1151.8 413.8h1.2v2.5h-1.2zM1147.6 411.1h1.0v2.5h-1.0zM1157.4 407.9h1.6v2.5h-1.6zM1165.9 411.8h1.2v2.5h-1.2zM1170.0 412.1h1.0v2.5h-1.0zM1177.6 405.9h1.0v5.0h-1.0zM1167.1 404.7h1.2v5.0h-1.2zM1174.4 402.6h1.6v3.5h-1.6zM1165.1 406.1h1.2v1.5h-1.2zM904.5 424.9h1.6v1.5h-1.6zM912.9 429.1h1.6v1.5h-1.6zM902.7 431.5h1.6v3.5h-1.6zM901.8 432.4h1.0v3.5h-1.0zM908.3 435.4h1.6v5.0h-1.6zM906.0 428.1h1.6v1.5h-1.6zM914.5 433.8h1.0v1.5h-1.0zM902.0 429.9h1.0v5.0h-1.0zM907.1 433.7h1.2v1.5h-1.2zM938.9 432.9h1.2v2.5h-1.2zM932.7 429.7h1.2v5.0h-1.2zM934.8 424.9h1.2v6.5h-1.2zM928.8 439.4h1.0v2.5h-1.0zM934.4 441.5h1.0v1.5h-1.0zM950.7 438.0h1.2v5.0h-1.2zM964.2 435.5h1.6v3.5h-1.6zM960.5 427.6h1.6v3.5h-1.6zM952.5 433.8h1.0v2.5h-1.0zM954.6 424.5h1.6v3.5h-1.6zM978.1 426.2h1.6v5.0h-1.6zM977.4 431.0h1.0v5.0h-1.0zM983.5 430.6h1.6v5.0h-1.6zM984.9 430.0h1.0v6.5h-1.0zM990.0 436.8h1.6v3.5h-1.6zM981.5 434.3h1.6v3.5h-1.6zM1010.1 425.8h1.2v1.5h-1.2zM1002.6 433.2h1.0v1.5h-1.0zM1002.3 436.3h1.6v3.5h-1.6zM1007.0 431.9h1.2v2.5h-1.2zM999.8 433.6h1.6v2.5h-1.6zM1007.9 435.0h1.2v6.5h-1.2zM1030.6 424.8h1.0v3.5h-1.0zM1037.0 432.7h1.2v3.5h-1.2zM1038.4 435.8h1.0v6.5h-1.0zM1025.9 433.5h1.2v3.5h-1.2zM1032.9 436.0h1.2v2.5h-1.2zM1027.8 434.6h1.2v1.5h-1.2zM1052.0 428.8h1.6v3.5h-1.6zM1046.3 436.0h1.6v3.5h-1.6zM1055.6 436.2h1.6v1.5h-1.6zM1048.3 425.8h1.2v1.5h-1.2zM1047.3 435.0h1.2v6.5h-1.2zM1054.5 437.2h1.2v3.5h-1.2zM1071.0 434.6h1.6v5.0h-1.6zM1072.6 429.7h1.6v3.5h-1.6zM1081.5 429.8h1.0v5.0h-1.0zM1078.5 429.8h1.6v2.5h-1.6zM1083.1 425.9h1.2v3.5h-1.2zM1106.0 428.6h1.0v6.5h-1.0zM1095.0 429.9h1.6v3.5h-1.6zM1094.7 434.2h1.0v6.5h-1.0zM1106.2 427.6h1.6v6.5h-1.6zM1105.7 435.2h1.2v6.5h-1.2zM1102.8 440.4h1.6v1.5h-1.6zM1094.9 434.2h1.2v1.5h-1.2zM1098.6 437.7h1.0v3.5h-1.0zM1124.5 436.1h1.6v1.5h-1.6zM1127.4 438.5h1.6v3.5h-1.6zM1133.5 435.4h1.0v6.5h-1.0zM1130.0 432.6h1.6v6.5h-1.6zM1150.1 427.5h1.2v6.5h-1.2zM1156.8 432.1h1.0v5.0h-1.0zM1142.0 425.0h1.2v1.5h-1.2zM1147.0 438.6h1.0v3.5h-1.0zM1156.9 427.3h1.6v3.5h-1.6zM1182.1 436.9h1.0v1.5h-1.0zM1166.4 428.2h1.2v1.5h-1.2zM1167.6 432.0h1.0v2.5h-1.0zM1171.9 425.0h1.2v6.5h-1.2zM1172.0 437.8h1.0v2.5h-1.0zM1172.8 427.5h1.6v1.5h-1.6zM916.4 459.4h1.0v6.5h-1.0zM911.2 459.8h1.2v6.5h-1.2zM905.5 457.5h1.6v3.5h-1.6zM906.4 450.0h1.6v3.5h-1.6zM907.1 459.6h1.0v1.5h-1.0zM907.7 449.3h1.0v5.0h-1.0zM927.6 456.3h1.2v2.5h-1.2zM936.9 453.4h1.6v6.5h-1.6zM936.4 457.7h1.6v6.5h-1.6zM938.7 459.3h1.2v5.0h-1.2zM937.9 449.1h1.0v5.0h-1.0zM929.5 458.6h1.2v2.5h-1.2zM926.0 452.9h1.6v2.5h-1.6zM954.6 454.2h1.6v6.5h-1.6zM951.2 460.7h1.0v1.5h-1.0zM954.0 460.7h1.6v3.5h-1.6zM957.1 456.0h1.6v1.5h-1.6zM965.9 463.0h1.2v2.5h-1.2zM982.1 459.3h1.0v5.0h-1.0zM985.1 458.6h1.2v2.5h-1.2zM985.8 460.5h1.6v5.0h-1.6zM1004.7 457.5h1.6v5.0h-1.6zM1027.8 456.6h1.0v6.5h-1.0zM1025.6 450.7h1.2v6.5h-1.2zM1029.9 459.4h1.0v2.5h-1.0zM1058.8 451.6h1.0v5.0h-1.0zM1049.8 450.4h1.6v2.5h-1.6zM1062.0 458.4h1.6v6.5h-1.6zM1050.4 455.3h1.2v1.5h-1.2zM1085.8 449.7h1.6v3.5h-1.6zM1083.1 460.2h1.0v2.5h-1.0zM1070.2 457.2h1.6v6.5h-1.6zM1073.1 459.9h1.0v1.5h-1.0zM1073.3 453.9h1.6v1.5h-1.6zM1082.4 449.5h1.0v2.5h-1.0zM1082.5 458.9h1.6v2.5h-1.6zM1083.1 462.3h1.2v3.5h-1.2zM1079.8 464.7h1.2v1.5h-1.2zM1100.2 459.2h1.6v2.5h-1.6zM1098.0 459.8h1.0v6.5h-1.0zM1095.2 452.0h1.6v5.0h-1.6zM1100.7 456.4h1.6v2.5h-1.6zM1108.2 449.0h1.0v6.5h-1.0zM1105.9 460.3h1.6v2.5h-1.6zM1095.7 451.3h1.2v1.5h-1.2zM1119.7 458.4h1.0v5.0h-1.0zM1122.1 451.7h1.0v2.5h-1.0zM1118.4 457.0h1.2v2.5h-1.2zM1117.6 458.4h1.0v6.5h-1.0zM1121.3 463.8h1.2v3.5h-1.2zM1148.1 457.2h1.0v3.5h-1.0zM1148.4 458.5h1.6v1.5h-1.6zM1147.8 451.8h1.2v6.5h-1.2zM1147.4 459.8h1.2v2.5h-1.2zM1149.0 456.3h1.6v3.5h-1.6zM1143.6 458.1h1.6v6.5h-1.6zM1147.3 464.7h1.6v1.5h-1.6zM1167.8 454.6h1.0v1.5h-1.0zM1176.0 451.5h1.2v6.5h-1.2zM1165.9 455.4h1.0v1.5h-1.0zM1172.5 457.8h1.6v2.5h-1.6zM1171.6 462.5h1.2v3.5h-1.2z" fill="#1c6a33"/><path d="M917.8 385.1h1.6v5.0h-1.6zM909.2 388.9h1.2v3.5h-1.2zM940.5 391.0h1.0v3.5h-1.0zM929.2 382.9h1.2v1.5h-1.2zM930.9 379.8h1.0v2.5h-1.0zM928.3 386.3h1.0v2.5h-1.0zM953.8 387.4h1.6v5.0h-1.6zM957.8 386.7h1.0v2.5h-1.0zM952.6 382.5h1.0v1.5h-1.0zM966.6 377.3h1.2v2.5h-1.2zM964.3 386.0h1.2v1.5h-1.2zM981.3 381.8h1.2v6.5h-1.2zM986.5 376.5h1.0v6.5h-1.0zM975.9 385.4h1.2v3.5h-1.2zM981.9 380.0h1.2v6.5h-1.2zM974.7 376.6h1.2v3.5h-1.2zM983.3 380.8h1.0v3.5h-1.0zM1002.1 381.7h1.0v2.5h-1.0zM998.8 381.5h1.2v6.5h-1.2zM1038.5 390.7h1.2v2.5h-1.2zM1030.5 380.1h1.0v5.0h-1.0zM1030.1 389.8h1.6v2.5h-1.6zM1032.9 390.7h1.2v3.5h-1.2zM1036.1 390.9h1.0v3.5h-1.0zM1033.2 377.2h1.2v1.5h-1.2zM1026.8 378.4h1.2v6.5h-1.2zM1059.5 384.6h1.2v5.0h-1.2zM1056.4 382.6h1.0v6.5h-1.0zM1047.1 376.6h1.0v5.0h-1.0zM1074.9 384.2h1.0v1.5h-1.0zM1080.6 385.4h1.2v2.5h-1.2zM1102.5 381.2h1.2v6.5h-1.2zM1093.6 387.9h1.6v3.5h-1.6zM1120.6 377.0h1.2v1.5h-1.2zM1131.3 379.5h1.6v6.5h-1.6zM1127.8 377.9h1.2v1.5h-1.2zM1157.9 386.1h1.0v5.0h-1.0zM1150.9 387.0h1.6v5.0h-1.6zM1150.4 387.6h1.2v5.0h-1.2zM1166.2 383.6h1.0v5.0h-1.0zM1179.5 388.3h1.0v5.0h-1.0zM905.0 406.4h1.2v1.5h-1.2zM917.3 405.0h1.2v5.0h-1.2zM914.8 402.6h1.2v2.5h-1.2zM907.7 410.9h1.0v1.5h-1.0zM913.6 401.4h1.0v5.0h-1.0zM941.5 411.8h1.6v3.5h-1.6zM965.9 412.3h1.6v3.5h-1.6zM951.3 405.4h1.6v5.0h-1.6zM966.4 402.1h1.0v5.0h-1.0zM980.5 409.8h1.2v3.5h-1.2zM983.2 415.9h1.2v1.5h-1.2zM1005.0 408.0h1.0v1.5h-1.0zM1008.4 411.6h1.0v2.5h-1.0zM1028.9 409.4h1.2v1.5h-1.2zM1032.1 416.1h1.0v1.5h-1.0zM1034.5 407.4h1.6v5.0h-1.6zM1033.8 406.8h1.6v6.5h-1.6zM1049.8 409.1h1.2v2.5h-1.2zM1055.5 414.2h1.6v1.5h-1.6zM1073.0 402.2h1.2v6.5h-1.2zM1081.6 410.0h1.6v1.5h-1.6zM1081.7 408.6h1.6v2.5h-1.6zM1104.7 404.0h1.2v6.5h-1.2zM1093.9 402.3h1.0v5.0h-1.0zM1099.2 411.8h1.2v2.5h-1.2zM1117.8 402.1h1.2v5.0h-1.2zM1126.6 414.0h1.0v2.5h-1.0zM1151.9 407.7h1.0v3.5h-1.0zM1148.2 405.8h1.2v3.5h-1.2zM1155.6 413.7h1.2v2.5h-1.2zM1173.5 406.0h1.0v5.0h-1.0zM1166.0 407.0h1.2v6.5h-1.2zM916.0 430.0h1.2v5.0h-1.2zM926.7 433.4h1.0v3.5h-1.0zM941.4 425.2h1.0v5.0h-1.0zM933.0 432.6h1.6v5.0h-1.6zM930.8 433.4h1.6v6.5h-1.6zM963.4 439.1h1.0v1.5h-1.0zM952.7 429.7h1.0v5.0h-1.0zM951.5 438.8h1.0v3.5h-1.0zM979.3 436.9h1.2v3.5h-1.2zM973.7 424.9h1.0v3.5h-1.0zM1004.9 427.6h1.0v5.0h-1.0zM1010.6 437.2h1.6v5.0h-1.6zM1005.7 437.9h1.6v2.5h-1.6zM1003.5 433.6h1.0v1.5h-1.0zM1001.5 432.5h1.0v6.5h-1.0zM1005.2 438.0h1.6v5.0h-1.6zM1026.5 427.4h1.2v5.0h-1.2zM1027.1 431.1h1.0v5.0h-1.0zM1029.7 427.9h1.2v3.5h-1.2zM1027.5 427.4h1.0v6.5h-1.0zM1035.4 427.6h1.6v3.5h-1.6zM1079.3 430.1h1.2v6.5h-1.2zM1081.5 431.4h1.2v2.5h-1.2zM1072.4 429.5h1.0v6.5h-1.0zM1077.6 427.6h1.2v5.0h-1.2zM1104.4 428.8h1.6v3.5h-1.6zM1095.8 429.2h1.2v6.5h-1.2zM1099.1 427.7h1.2v3.5h-1.2zM1124.3 426.9h1.0v1.5h-1.0zM1125.6 431.6h1.0v6.5h-1.0zM1122.4 426.5h1.6v6.5h-1.6zM1117.7 435.8h1.0v5.0h-1.0zM1121.7 433.9h1.0v2.5h-1.0zM1144.3 434.7h1.0v3.5h-1.0zM1152.4 437.2h1.6v2.5h-1.6zM1174.1 431.4h1.6v6.5h-1.6zM1168.2 436.2h1.2v6.5h-1.2zM1173.4 438.0h1.0v3.5h-1.0zM1172.4 440.0h1.0v2.5h-1.0zM1181.9 429.5h1.0v3.5h-1.0zM911.2 455.4h1.2v5.0h-1.2zM906.5 449.4h1.0v1.5h-1.0zM906.0 464.1h1.2v1.5h-1.2zM904.2 452.9h1.2v5.0h-1.2zM953.8 451.0h1.2v6.5h-1.2zM954.6 461.7h1.0v3.5h-1.0zM963.0 459.9h1.6v6.5h-1.6zM958.8 460.8h1.2v6.5h-1.2zM952.7 464.6h1.0v2.5h-1.0zM959.1 453.0h1.0v2.5h-1.0zM977.2 463.5h1.2v1.5h-1.2zM981.1 456.7h1.6v1.5h-1.6zM985.9 453.7h1.6v1.5h-1.6zM1007.1 452.4h1.6v3.5h-1.6zM1000.1 448.9h1.2v6.5h-1.2zM1013.7 451.9h1.2v6.5h-1.2zM1023.8 457.4h1.6v3.5h-1.6zM1033.5 448.9h1.0v5.0h-1.0zM1030.0 452.9h1.2v6.5h-1.2zM1024.4 451.1h1.2v5.0h-1.2zM1058.1 456.1h1.6v3.5h-1.6zM1058.9 455.8h1.2v1.5h-1.2zM1048.6 455.2h1.2v6.5h-1.2zM1053.9 455.7h1.2v3.5h-1.2zM1050.1 451.2h1.6v5.0h-1.6zM1054.0 451.7h1.0v5.0h-1.0zM1073.5 465.3h1.0v1.5h-1.0zM1086.2 459.5h1.2v6.5h-1.2zM1082.9 460.7h1.6v6.5h-1.6zM1109.4 459.0h1.2v2.5h-1.2zM1101.9 456.7h1.0v2.5h-1.0zM1134.1 458.4h1.2v6.5h-1.2zM1127.0 458.9h1.6v3.5h-1.6zM1173.3 450.3h1.0v1.5h-1.0zM1175.4 455.6h1.2v5.0h-1.2z" fill="#3cb85c"/><path d="M910.3 386.2h1.0v3.5h-1.0zM917.7 377.0h1.0v2.5h-1.0zM928.6 383.8h1.2v5.0h-1.2zM942.1 388.6h1.6v2.5h-1.6zM939.5 378.0h1.6v5.0h-1.6zM940.9 384.4h1.0v5.0h-1.0zM984.9 378.8h1.2v5.0h-1.2zM981.6 388.8h1.0v5.0h-1.0zM1037.1 387.1h1.2v5.0h-1.2zM1029.5 378.2h1.2v2.5h-1.2zM1049.4 383.7h1.6v3.5h-1.6zM1049.8 377.8h1.0v1.5h-1.0zM1079.0 378.4h1.6v1.5h-1.6zM1083.0 388.3h1.2v1.5h-1.2zM1104.4 387.8h1.6v6.5h-1.6zM1101.4 378.4h1.0v5.0h-1.0zM1103.2 381.4h1.6v6.5h-1.6zM1094.9 386.0h1.0v6.5h-1.0zM1129.4 376.7h1.0v6.5h-1.0zM1123.5 378.5h1.0v1.5h-1.0zM1121.6 383.2h1.2v6.5h-1.2zM1127.7 382.2h1.6v2.5h-1.6zM1142.5 383.0h1.0v6.5h-1.0zM1147.2 377.9h1.6v3.5h-1.6zM1176.1 378.6h1.0v1.5h-1.0zM1176.5 380.5h1.6v5.0h-1.6zM1178.1 376.4h1.0v1.5h-1.0zM906.7 409.9h1.6v6.5h-1.6zM932.5 408.7h1.2v3.5h-1.2zM925.8 405.4h1.6v5.0h-1.6zM940.7 402.7h1.6v2.5h-1.6zM928.7 406.8h1.0v2.5h-1.0zM938.8 404.9h1.2v5.0h-1.2zM962.8 413.6h1.0v2.5h-1.0zM965.3 409.8h1.2v3.5h-1.2zM965.4 406.5h1.2v1.5h-1.2zM987.0 405.8h1.6v6.5h-1.6zM978.8 411.2h1.0v2.5h-1.0zM981.6 402.2h1.0v5.0h-1.0zM981.8 415.4h1.2v3.5h-1.2zM978.5 410.9h1.2v1.5h-1.2zM999.5 409.0h1.6v2.5h-1.6zM1013.4 416.1h1.2v2.5h-1.2zM1011.9 405.7h1.0v3.5h-1.0zM1003.1 415.8h1.2v2.5h-1.2zM1031.9 404.3h1.0v1.5h-1.0zM1058.4 409.6h1.6v6.5h-1.6zM1058.8 401.0h1.2v6.5h-1.2zM1060.7 402.2h1.0v5.0h-1.0zM1083.0 413.3h1.0v2.5h-1.0zM1083.8 407.1h1.0v3.5h-1.0zM1096.8 407.3h1.0v1.5h-1.0zM1105.4 405.2h1.2v6.5h-1.2zM1095.6 414.0h1.6v2.5h-1.6zM1094.7 406.8h1.6v3.5h-1.6zM1132.4 412.5h1.6v3.5h-1.6zM1123.4 401.3h1.2v1.5h-1.2zM1127.5 407.3h1.6v1.5h-1.6zM1118.3 407.3h1.0v3.5h-1.0zM1117.2 406.9h1.0v6.5h-1.0zM1143.0 407.1h1.6v3.5h-1.6zM1151.9 407.0h1.0v2.5h-1.0zM1145.5 408.0h1.0v3.5h-1.0zM1172.1 409.9h1.6v3.5h-1.6zM1180.6 412.9h1.2v3.5h-1.2zM1174.8 403.6h1.2v6.5h-1.2zM917.7 438.4h1.2v2.5h-1.2zM911.6 428.3h1.0v1.5h-1.0zM933.7 437.3h1.2v5.0h-1.2zM939.5 425.5h1.2v2.5h-1.2zM940.4 437.5h1.6v3.5h-1.6zM941.0 425.9h1.6v6.5h-1.6zM940.4 426.6h1.2v1.5h-1.2zM953.8 436.7h1.0v3.5h-1.0zM949.7 429.6h1.0v6.5h-1.0zM950.8 433.4h1.2v2.5h-1.2zM982.4 430.8h1.0v3.5h-1.0zM985.0 428.6h1.2v1.5h-1.2zM983.6 438.5h1.2v2.5h-1.2zM981.3 430.3h1.6v2.5h-1.6zM1014.1 425.5h1.6v1.5h-1.6zM1010.6 435.5h1.6v6.5h-1.6zM1024.0 437.7h1.0v2.5h-1.0zM1049.0 434.6h1.0v1.5h-1.0zM1045.4 433.4h1.6v6.5h-1.6zM1056.9 435.4h1.2v5.0h-1.2zM1057.2 433.0h1.6v6.5h-1.6zM1076.2 436.7h1.2v5.0h-1.2zM1077.8 433.9h1.0v5.0h-1.0zM1075.6 436.6h1.6v3.5h-1.6zM1073.2 428.0h1.6v5.0h-1.6zM1104.4 432.7h1.2v3.5h-1.2zM1125.5 425.7h1.2v2.5h-1.2zM1133.6 435.7h1.0v6.5h-1.0zM1118.3 436.5h1.0v3.5h-1.0zM1123.2 427.4h1.0v5.0h-1.0zM1148.7 428.0h1.6v3.5h-1.6zM1143.7 428.5h1.0v2.5h-1.0zM1153.0 433.1h1.0v1.5h-1.0zM1142.3 425.5h1.6v3.5h-1.6zM1143.6 427.7h1.2v2.5h-1.2zM1175.4 437.3h1.2v3.5h-1.2zM916.8 458.0h1.2v2.5h-1.2zM911.7 451.7h1.2v6.5h-1.2zM913.1 457.7h1.6v5.0h-1.6zM911.4 457.2h1.2v5.0h-1.2zM917.8 453.1h1.6v2.5h-1.6zM936.6 459.8h1.2v2.5h-1.2zM942.1 459.9h1.0v1.5h-1.0zM927.4 464.5h1.6v2.5h-1.6zM941.4 458.3h1.6v3.5h-1.6zM954.3 457.6h1.2v1.5h-1.2zM956.5 452.4h1.2v2.5h-1.2zM956.9 456.8h1.0v1.5h-1.0zM978.1 460.5h1.0v1.5h-1.0zM975.7 449.2h1.0v6.5h-1.0zM980.0 461.4h1.2v1.5h-1.2zM976.9 452.8h1.6v1.5h-1.6zM987.0 460.8h1.2v1.5h-1.2zM984.9 451.7h1.0v3.5h-1.0zM985.1 455.5h1.2v5.0h-1.2zM997.7 454.3h1.6v5.0h-1.6zM1007.9 452.4h1.2v1.5h-1.2zM1010.2 455.6h1.2v2.5h-1.2zM1011.2 463.0h1.6v1.5h-1.6zM1013.7 452.6h1.2v6.5h-1.2zM1002.2 459.6h1.6v5.0h-1.6zM999.0 449.3h1.6v2.5h-1.6zM1032.9 462.0h1.6v2.5h-1.6zM1034.2 453.1h1.0v1.5h-1.0zM1045.6 454.1h1.2v3.5h-1.2zM1056.9 455.4h1.6v5.0h-1.6zM1056.9 458.8h1.6v5.0h-1.6zM1080.8 452.1h1.2v2.5h-1.2zM1108.3 457.6h1.2v5.0h-1.2zM1109.6 460.1h1.6v1.5h-1.6zM1101.5 449.4h1.6v3.5h-1.6zM1097.1 454.5h1.2v5.0h-1.2zM1130.9 453.6h1.0v6.5h-1.0zM1126.7 450.6h1.2v1.5h-1.2zM1153.5 451.7h1.0v5.0h-1.0zM1156.0 461.4h1.0v5.0h-1.0zM1150.7 452.2h1.2v3.5h-1.2zM1151.5 456.9h1.0v6.5h-1.0zM1172.9 448.7h1.6v5.0h-1.6z" fill="#2b9a49"/><path d="M906.9 379.6h1.6v3.5h-1.6zM925.7 385.4h1.2v3.5h-1.2zM927.4 384.9h1.0v1.5h-1.0zM955.8 391.5h1.0v1.5h-1.0zM960.5 382.0h1.0v6.5h-1.0zM990.7 391.3h1.0v1.5h-1.0zM980.1 385.6h1.0v2.5h-1.0zM1004.2 379.2h1.6v2.5h-1.6zM1008.2 387.4h1.2v1.5h-1.2zM1007.2 386.9h1.2v6.5h-1.2zM1013.0 392.0h1.0v2.5h-1.0zM1049.2 387.3h1.0v2.5h-1.0zM1047.4 382.4h1.6v6.5h-1.6zM1059.7 379.0h1.6v6.5h-1.6zM1055.2 381.9h1.0v2.5h-1.0zM1072.2 378.7h1.0v2.5h-1.0zM1076.3 381.9h1.0v2.5h-1.0zM1072.4 383.3h1.6v6.5h-1.6zM1084.6 390.4h1.2v2.5h-1.2zM1077.3 376.3h1.2v3.5h-1.2zM1070.1 379.4h1.6v6.5h-1.6zM1093.4 379.7h1.6v5.0h-1.6zM1102.2 385.2h1.2v3.5h-1.2zM1101.3 380.2h1.6v3.5h-1.6zM1094.1 389.7h1.2v5.0h-1.2zM1131.1 377.8h1.2v6.5h-1.2zM1121.1 378.0h1.6v2.5h-1.6zM1128.9 378.4h1.6v6.5h-1.6zM1127.7 376.3h1.6v1.5h-1.6zM1151.1 383.1h1.2v3.5h-1.2zM1156.7 385.9h1.2v2.5h-1.2zM1146.0 378.3h1.2v3.5h-1.2zM1156.5 387.6h1.6v6.5h-1.6zM1154.9 379.8h1.2v6.5h-1.2zM1147.4 382.4h1.0v1.5h-1.0zM1142.7 383.5h1.0v2.5h-1.0zM1166.1 378.0h1.0v6.5h-1.0zM1166.5 387.3h1.0v3.5h-1.0zM1173.5 390.9h1.0v2.5h-1.0zM1171.1 387.2h1.2v5.0h-1.2zM1180.4 381.1h1.6v6.5h-1.6zM916.9 406.8h1.2v2.5h-1.2zM917.4 407.0h1.6v6.5h-1.6zM918.5 411.2h1.0v5.0h-1.0zM917.1 414.5h1.0v2.5h-1.0zM934.4 402.4h1.6v5.0h-1.6zM941.8 408.8h1.2v3.5h-1.2zM953.9 403.5h1.6v1.5h-1.6zM965.0 407.0h1.2v6.5h-1.2zM953.7 409.6h1.0v2.5h-1.0zM958.9 407.1h1.6v6.5h-1.6zM983.5 410.6h1.6v5.0h-1.6zM1001.6 404.8h1.0v3.5h-1.0zM1005.2 405.7h1.2v1.5h-1.2zM1002.5 414.4h1.6v1.5h-1.6zM1033.7 408.4h1.2v2.5h-1.2zM1031.8 405.2h1.0v1.5h-1.0zM1034.8 411.4h1.0v6.5h-1.0zM1046.2 407.2h1.6v2.5h-1.6zM1070.7 403.4h1.2v5.0h-1.2zM1082.7 403.2h1.2v5.0h-1.2zM1073.0 406.7h1.0v5.0h-1.0zM1101.9 409.2h1.6v2.5h-1.6zM1097.0 404.7h1.6v3.5h-1.6zM1106.7 417.1h1.6v1.5h-1.6zM1108.6 404.0h1.6v1.5h-1.6zM1101.6 416.3h1.2v1.5h-1.2zM1123.6 414.9h1.2v1.5h-1.2zM1132.4 408.9h1.2v3.5h-1.2zM1127.9 406.5h1.6v2.5h-1.6zM1155.9 408.7h1.6v6.5h-1.6zM1166.2 406.9h1.0v3.5h-1.0zM1176.4 403.2h1.6v5.0h-1.6zM1168.1 401.7h1.0v5.0h-1.0zM1169.0 407.6h1.2v3.5h-1.2zM910.1 428.6h1.6v3.5h-1.6zM907.5 428.2h1.6v5.0h-1.6zM903.4 426.6h1.0v3.5h-1.0zM928.2 431.5h1.0v3.5h-1.0zM963.6 427.3h1.0v2.5h-1.0zM966.1 427.7h1.0v3.5h-1.0zM955.8 435.6h1.6v5.0h-1.6zM961.8 430.3h1.6v2.5h-1.6zM974.7 428.7h1.0v2.5h-1.0zM978.2 439.5h1.6v1.5h-1.6zM979.2 432.4h1.2v5.0h-1.2zM1005.5 424.6h1.0v5.0h-1.0zM1028.7 432.6h1.2v1.5h-1.2zM1026.9 426.0h1.6v5.0h-1.6zM1024.1 431.0h1.6v1.5h-1.6zM1053.8 432.8h1.2v2.5h-1.2zM1062.4 435.8h1.0v5.0h-1.0zM1047.9 426.8h1.0v3.5h-1.0zM1046.7 426.1h1.2v6.5h-1.2zM1059.6 440.9h1.2v1.5h-1.2zM1073.6 425.5h1.6v1.5h-1.6zM1077.9 426.7h1.0v3.5h-1.0zM1096.1 436.6h1.0v6.5h-1.0zM1099.3 438.9h1.6v3.5h-1.6zM1101.6 428.6h1.0v3.5h-1.0zM1121.6 427.7h1.0v3.5h-1.0zM1119.0 429.5h1.0v1.5h-1.0zM1145.1 429.0h1.0v3.5h-1.0zM1148.3 441.5h1.0v1.5h-1.0zM1154.8 435.2h1.0v5.0h-1.0zM1171.2 434.4h1.6v5.0h-1.6zM1170.6 433.3h1.0v3.5h-1.0zM1176.6 428.2h1.6v3.5h-1.6zM937.3 461.5h1.2v2.5h-1.2zM928.7 459.1h1.2v3.5h-1.2zM934.2 453.7h1.6v2.5h-1.6zM941.4 462.5h1.2v3.5h-1.2zM956.9 455.0h1.2v2.5h-1.2zM989.0 458.3h1.6v3.5h-1.6zM984.1 455.2h1.2v2.5h-1.2zM1006.4 465.5h1.6v1.5h-1.6zM1014.4 457.3h1.0v6.5h-1.0zM1014.0 455.5h1.6v6.5h-1.6zM1010.4 449.6h1.2v5.0h-1.2zM1021.8 458.6h1.0v6.5h-1.0zM1033.6 457.1h1.0v6.5h-1.0zM1032.1 450.4h1.0v6.5h-1.0zM1029.3 458.4h1.6v2.5h-1.6zM1036.5 452.0h1.0v3.5h-1.0zM1037.1 448.8h1.6v6.5h-1.6zM1050.0 456.7h1.0v6.5h-1.0zM1051.5 452.6h1.2v2.5h-1.2zM1078.8 449.0h1.2v6.5h-1.2zM1070.9 456.4h1.6v6.5h-1.6zM1096.4 452.2h1.0v3.5h-1.0zM1110.3 454.2h1.0v3.5h-1.0zM1118.8 448.6h1.6v6.5h-1.6zM1131.8 452.1h1.2v6.5h-1.2zM1119.8 461.6h1.6v2.5h-1.6zM1132.4 449.3h1.6v1.5h-1.6zM1127.7 462.6h1.6v2.5h-1.6zM1133.9 461.3h1.6v3.5h-1.6zM1144.4 457.0h1.6v3.5h-1.6zM1143.0 460.4h1.6v1.5h-1.6zM1150.5 451.7h1.2v2.5h-1.2zM1152.8 456.9h1.2v3.5h-1.2zM1180.4 454.2h1.6v3.5h-1.6zM1181.4 452.1h1.6v6.5h-1.6zM1174.3 454.8h1.2v1.5h-1.2zM1181.6 462.2h1.6v1.5h-1.6zM1175.6 454.3h1.0v5.0h-1.0zM1181.0 457.9h1.2v5.0h-1.2zM1177.8 455.8h1.6v2.5h-1.6z" fill="#23813d"/><line x1="1028.5" y1="485" x2="1028.5" y2="515" stroke="#111" stroke-width="3.4"/><path d="M1028.5 527L1018 502L1028.5 509L1039 502Z" fill="#111"/><rect x="769.3" y="529.3" width="518.7" height="104.9" rx="17" fill="#fff" stroke="#111" stroke-width="3.4"/><text x="1028.5" y="557.5" text-anchor="middle">Candidate IgG AAbs lists</text><text x="1024.7" y="590" text-anchor="middle">(ESCC vs. HC;</text><text x="1028.5" y="621.5" text-anchor="middle">ESCC-w/ LNM vs. ESCC-w/o LNM)</text><clipPath id="cg"><rect x="1590.3" y="270" width="376" height="148.8" rx="11"/></clipPath><clipPath id="cr"><rect x="1791.9" y="66.3" width="174.3" height="351.6" rx="10"/></clipPath><rect x="1791.9" y="66.3" width="174.3" height="351.6" rx="10" fill="#e1947c" stroke="#d0392e" stroke-width="1.6"/><circle cx="1790.8" cy="270.3" r="128.9" fill="#9ba8da"/><circle cx="1790.8" cy="270.3" r="128.9" fill="#ac6779" clip-path="url(#cr)"/><circle cx="1790.8" cy="270.3" r="128.9" fill="none" stroke="#4a68bd" stroke-width="1.2"/><circle cx="1790.8" cy="270.3" r="128.9" fill="none" stroke="#7a4a9a" stroke-width="1.2" clip-path="url(#cr)"/><rect x="1791.9" y="66.3" width="174.3" height="351.6" rx="10" fill="none" stroke="#d0392e" stroke-width="1.6"/><rect x="1590.3" y="270" width="376" height="148.8" rx="11" fill="#dde9ad"/><g clip-path="url(#cg)"><circle cx="1790.8" cy="270.3" r="128.9" fill="#abc79c"/><rect x="1791.9" y="66.3" width="174.3" height="351.6" rx="10" fill="#d8b06c"/><circle cx="1790.8" cy="270.3" r="128.9" fill="#b99a66" clip-path="url(#cr)"/><circle cx="1790.8" cy="270.3" r="128.9" fill="none" stroke="#7f9fa6" stroke-width="1.2"/><rect x="1791.9" y="66.3" width="174.3" height="351.6" rx="10" fill="none" stroke="#d98a4e" stroke-width="1.4"/></g><rect x="1590.3" y="270" width="376" height="148.8" rx="11" fill="none" stroke="#a6d05a" stroke-width="2.8"/><text x="1683.6" y="53.3">LNM-associated AAbs</text><text x="1590.9" y="131.8">ESCC vs. HC</text><text x="1590.9" y="163">AAbs</text><text x="1909.5" y="125.3" text-anchor="middle">239</text><text x="1736.2" y="223.3" text-anchor="middle">87</text><text x="1846.4" y="223.3" text-anchor="middle">38</text><text x="1788.6" y="294.7" text-anchor="end">PIK3CA</text><text x="1786.6" y="321.2" text-anchor="end">TP53</text><text x="1796.2" y="294.7">PPP1R13L</text><text x="1796.2" y="320.9">BACH1</text><text x="1796.2" y="347.1">SESN2</text><text x="1887.3" y="354.7">SIRT1</text><text x="1962.2" y="381.1" text-anchor="end">SLC25A28</text><text x="1795.8" y="408.7">ACSL4</text><text x="1960" y="408.7" text-anchor="end">BAP1</text><text x="1640.9" y="384" text-anchor="middle">295</text><text x="1594" y="450.6">Ferroptosis-related genes</text><rect x="654.6" y="708.6" width="496.4" height="22.6" fill="url(#cb)" stroke="#111" stroke-width="2"/><text x="654.6" y="755.2">-2.5</text><text x="906.8" y="755.2" text-anchor="middle">1:1</text><text x="1161" y="755.2" text-anchor="end">2.5</text><text transform="translate(675.7 855.6) rotate(-90) scale(0.91 1)" style="font-size:28.4px;stroke-width:0.6px">SKCM</text><text transform="translate(705.3 855.6) rotate(-90) scale(0.91 1)" style="font-size:28.4px;stroke-width:0.6px">ESCA</text><text transform="translate(734.9 855.6) rotate(-90) scale(0.91 1)" style="font-size:28.4px;stroke-width:0.6px">HNSC</text><text transform="translate(767.8 855.6) rotate(-90) scale(0.91 1)" style="font-size:28.4px;stroke-width:0.6px">STAD</text><text transform="translate(796.5 855.6) rotate(-90) scale(0.91 1)" style="font-size:28.4px;stroke-width:0.6px">KIRC</text><text transform="translate(825.2 855.6) rotate(-90) scale(0.91 1)" style="font-size:28.4px;stroke-width:0.6px">KIRP</text><text transform="translate(853.9 855.6) rotate(-90) scale(0.91 1)" style="font-size:28.4px;stroke-width:0.6px">THCA</text><text transform="translate(882.6 855.6) rotate(-90) scale(0.91 1)" style="font-size:28.4px;stroke-width:0.6px">PRAD</text><text transform="translate(911.3 855.6) rotate(-90) scale(0.91 1)" style="font-size:28.4px;stroke-width:0.6px">KICH</text><text transform="translate(940.0 855.6) rotate(-90) scale(0.91 1)" style="font-size:28.4px;stroke-width:0.6px">LUAD</text><text transform="translate(968.7 855.6) rotate(-90) scale(0.91 1)" style="font-size:28.4px;stroke-width:0.6px">BRCA</text><text transform="translate(997.4 855.6) rotate(-90) scale(0.91 1)" style="font-size:28.4px;stroke-width:0.6px">BLCA</text><text transform="translate(1026.1 855.6) rotate(-90) scale(0.91 1)" style="font-size:28.4px;stroke-width:0.6px">COAD</text><text transform="translate(1054.8 855.6) rotate(-90) scale(0.91 1)" style="font-size:28.4px;stroke-width:0.6px">READ</text><text transform="translate(1083.5 855.6) rotate(-90) scale(0.91 1)" style="font-size:28.4px;stroke-width:0.6px">LUSC</text><text transform="translate(1112.2 855.6) rotate(-90) scale(0.91 1)" style="font-size:28.4px;stroke-width:0.6px">UCEC</text><text transform="translate(1140.9 855.6) rotate(-90) scale(0.91 1)" style="font-size:28.4px;stroke-width:0.6px">LIHC</text><rect x="656.4" y="862.8" width="84.8" height="25.8" fill="#e3cd8e"/><text x="698.5" y="888.6" text-anchor="middle">PLM</text><rect x="746.4" y="863" width="404" height="25.8" fill="#d283bd"/><text x="938" y="888.6" text-anchor="middle">non-PLM</text><rect x="655.4" y="904.2" width="27.3" height="22.8" fill="#f38a8c"/><rect x="684.0" y="904.2" width="27.3" height="22.8" fill="#f38a8c"/><rect x="712.6" y="904.2" width="27.3" height="22.8" fill="#f9b9ba"/><rect x="747.2" y="904.2" width="27.3" height="22.8" fill="#f9b9ba"/><rect x="776.0" y="904.2" width="27.3" height="22.8" fill="#f9b9ba"/><rect x="804.7" y="904.2" width="27.3" height="22.8" fill="#c3c4c6"/><rect x="833.5" y="904.2" width="27.3" height="22.8" fill="#c3c4c6"/><rect x="862.2" y="904.2" width="27.3" height="22.8" fill="#c3c4c6"/><rect x="891.0" y="904.2" width="27.3" height="22.8" fill="#78b0e2"/><rect x="919.7" y="904.2" width="27.3" height="22.8" fill="#b4d4f0"/><rect x="948.5" y="904.2" width="27.3" height="22.8" fill="#78b0e2"/><rect x="977.2" y="904.2" width="27.3" height="22.8" fill="#c3c4c6"/><rect x="1006.0" y="904.2" width="27.3" height="22.8" fill="#c3c4c6"/><rect x="1034.7" y="904.2" width="27.3" height="22.8" fill="#c3c4c6"/><rect x="1063.5" y="904.2" width="27.3" height="22.8" fill="#b4d4f0"/><rect x="1092.2" y="904.2" width="27.3" height="22.8" fill="#428ad0"/><rect x="1121.0" y="904.2" width="27.3" height="22.8" fill="#c3c4c6"/><text x="1158.5" y="924" style="fill:#d9382c;stroke:#d9382c;">BACH1</text><rect x="655.4" y="929.4" width="27.3" height="22.8" fill="#f38a8c"/><rect x="684.0" y="929.4" width="27.3" height="22.8" fill="#c3c4c6"/><rect x="712.6" y="929.4" width="27.3" height="22.8" fill="#f38a8c"/><rect x="747.2" y="929.4" width="27.3" height="22.8" fill="#f38a8c"/><rect x="776.0" y="929.4" width="27.3" height="22.8" fill="#b4d4f0"/><rect x="804.7" y="929.4" width="27.3" height="22.8" fill="#e1edf9"/><rect x="833.5" y="929.4" width="27.3" height="22.8" fill="#c3c4c6"/><rect x="862.2" y="929.4" width="27.3" height="22.8" fill="#e1edf9"/><rect x="891.0" y="929.4" width="27.3" height="22.8" fill="#b4d4f0"/><rect x="919.7" y="929.4" width="27.3" height="22.8" fill="#fde3e2"/><rect x="948.5" y="929.4" width="27.3" height="22.8" fill="#e1edf9"/><rect x="977.2" y="929.4" width="27.3" height="22.8" fill="#c3c4c6"/><rect x="1006.0" y="929.4" width="27.3" height="22.8" fill="#f38a8c"/><rect x="1034.7" y="929.4" width="27.3" height="22.8" fill="#c3c4c6"/><rect x="1063.5" y="929.4" width="27.3" height="22.8" fill="#b4d4f0"/><rect x="1092.2" y="929.4" width="27.3" height="22.8" fill="#c3c4c6"/><rect x="1121.0" y="929.4" width="27.3" height="22.8" fill="#ec3b42"/><text x="1158.5" y="949.2">ACSL4</text><rect x="655.4" y="954.6" width="27.3" height="22.8" fill="#f0646a"/><rect x="684.0" y="954.6" width="27.3" height="22.8" fill="#c3c4c6"/><rect x="712.6" y="954.6" width="27.3" height="22.8" fill="#c3c4c6"/><rect x="747.2" y="954.6" width="27.3" height="22.8" fill="#f0646a"/><rect x="776.0" y="954.6" width="27.3" height="22.8" fill="#c3c4c6"/><rect x="804.7" y="954.6" width="27.3" height="22.8" fill="#fde3e2"/><rect x="833.5" y="954.6" width="27.3" height="22.8" fill="#fde3e2"/><rect x="862.2" y="954.6" width="27.3" height="22.8" fill="#c3c4c6"/><rect x="891.0" y="954.6" width="27.3" height="22.8" fill="#78b0e2"/><rect x="919.7" y="954.6" width="27.3" height="22.8" fill="#c3c4c6"/><rect x="948.5" y="954.6" width="27.3" height="22.8" fill="#fde3e2"/><rect x="977.2" y="954.6" width="27.3" height="22.8" fill="#78b0e2"/><rect x="1006.0" y="954.6" width="27.3" height="22.8" fill="#c3c4c6"/><rect x="1034.7" y="954.6" width="27.3" height="22.8" fill="#b4d4f0"/><rect x="1063.5" y="954.6" width="27.3" height="22.8" fill="#e1edf9"/><rect x="1092.2" y="954.6" width="27.3" height="22.8" fill="#78b0e2"/><rect x="1121.0" y="954.6" width="27.3" height="22.8" fill="#c3c4c6"/><text x="1158.5" y="974.4">SIRT1</text><rect x="655.4" y="979.8" width="27.3" height="22.8" fill="#e1edf9"/><rect x="684.0" y="979.8" width="27.3" height="22.8" fill="#c3c4c6"/><rect x="712.6" y="979.8" width="27.3" height="22.8" fill="#f0646a"/><rect x="747.2" y="979.8" width="27.3" height="22.8" fill="#c3c4c6"/><rect x="776.0" y="979.8" width="27.3" height="22.8" fill="#f0646a"/><rect x="804.7" y="979.8" width="27.3" height="22.8" fill="#c3c4c6"/><rect x="833.5" y="979.8" width="27.3" height="22.8" fill="#b4d4f0"/><rect x="862.2" y="979.8" width="27.3" height="22.8" fill="#c3c4c6"/><rect x="891.0" y="979.8" width="27.3" height="22.8" fill="#78b0e2"/><rect x="919.7" y="979.8" width="27.3" height="22.8" fill="#fff8f8"/><rect x="948.5" y="979.8" width="27.3" height="22.8" fill="#fff8f8"/><rect x="977.2" y="979.8" width="27.3" height="22.8" fill="#c3c4c6"/><rect x="1006.0" y="979.8" width="27.3" height="22.8" fill="#f38a8c"/><rect x="1034.7" y="979.8" width="27.3" height="22.8" fill="#c3c4c6"/><rect x="1063.5" y="979.8" width="27.3" height="22.8" fill="#f38a8c"/><rect x="1092.2" y="979.8" width="27.3" height="22.8" fill="#e1edf9"/><rect x="1121.0" y="979.8" width="27.3" height="22.8" fill="#f38a8c"/><text x="1158.5" y="999.6">SLC25A28</text><rect x="655.4" y="1005.0" width="27.3" height="22.8" fill="#78b0e2"/><rect x="684.0" y="1005.0" width="27.3" height="22.8" fill="#c3c4c6"/><rect x="712.6" y="1005.0" width="27.3" height="22.8" fill="#fff8f8"/><rect x="747.2" y="1005.0" width="27.3" height="22.8" fill="#c3c4c6"/><rect x="776.0" y="1005.0" width="27.3" height="22.8" fill="#428ad0"/><rect x="804.7" y="1005.0" width="27.3" height="22.8" fill="#c3c4c6"/><rect x="833.5" y="1005.0" width="27.3" height="22.8" fill="#78b0e2"/><rect x="862.2" y="1005.0" width="27.3" height="22.8" fill="#fde3e2"/><rect x="891.0" y="1005.0" width="27.3" height="22.8" fill="#f9b9ba"/><rect x="919.7" y="1005.0" width="27.3" height="22.8" fill="#c3c4c6"/><rect x="948.5" y="1005.0" width="27.3" height="22.8" fill="#b4d4f0"/><rect x="977.2" y="1005.0" width="27.3" height="22.8" fill="#c3c4c6"/><rect x="1006.0" y="1005.0" width="27.3" height="22.8" fill="#c3c4c6"/><rect x="1034.7" y="1005.0" width="27.3" height="22.8" fill="#fde3e2"/><rect x="1063.5" y="1005.0" width="27.3" height="22.8" fill="#fde3e2"/><rect x="1092.2" y="1005.0" width="27.3" height="22.8" fill="#e1edf9"/><rect x="1121.0" y="1005.0" width="27.3" height="22.8" fill="#f0646a"/><text x="1158.5" y="1024.8">BAP1</text><rect x="655.4" y="1030.2" width="27.3" height="22.8" fill="#f0646a"/><rect x="684.0" y="1030.2" width="27.3" height="22.8" fill="#c3c4c6"/><rect x="712.6" y="1030.2" width="27.3" height="22.8" fill="#f0646a"/><rect x="747.2" y="1030.2" width="27.3" height="22.8" fill="#f38a8c"/><rect x="776.0" y="1030.2" width="27.3" height="22.8" fill="#fff8f8"/><rect x="804.7" y="1030.2" width="27.3" height="22.8" fill="#b4d4f0"/><rect x="833.5" y="1030.2" width="27.3" height="22.8" fill="#c3c4c6"/><rect x="862.2" y="1030.2" width="27.3" height="22.8" fill="#e1edf9"/><rect x="891.0" y="1030.2" width="27.3" height="22.8" fill="#c3c4c6"/><rect x="919.7" y="1030.2" width="27.3" height="22.8" fill="#fde3e2"/><rect x="948.5" y="1030.2" width="27.3" height="22.8" fill="#78b0e2"/><rect x="977.2" y="1030.2" width="27.3" height="22.8" fill="#c3c4c6"/><rect x="1006.0" y="1030.2" width="27.3" height="22.8" fill="#c3c4c6"/><rect x="1034.7" y="1030.2" width="27.3" height="22.8" fill="#b4d4f0"/><rect x="1063.5" y="1030.2" width="27.3" height="22.8" fill="#f0646a"/><rect x="1092.2" y="1030.2" width="27.3" height="22.8" fill="#78b0e2"/><rect x="1121.0" y="1030.2" width="27.3" height="22.8" fill="#c3c4c6"/><text x="1158.5" y="1050">PIK3CA</text><rect x="655.4" y="1055.4" width="27.3" height="22.8" fill="#c3c4c6"/><rect x="684.0" y="1055.4" width="27.3" height="22.8" fill="#c3c4c6"/><rect x="712.6" y="1055.4" width="27.3" height="22.8" fill="#c3c4c6"/><rect x="747.2" y="1055.4" width="27.3" height="22.8" fill="#c3c4c6"/><rect x="776.0" y="1055.4" width="27.3" height="22.8" fill="#78b0e2"/><rect x="804.7" y="1055.4" width="27.3" height="22.8" fill="#b4d4f0"/><rect x="833.5" y="1055.4" width="27.3" height="22.8" fill="#f38a8c"/><rect x="862.2" y="1055.4" width="27.3" height="22.8" fill="#c3c4c6"/><rect x="891.0" y="1055.4" width="27.3" height="22.8" fill="#78b0e2"/><rect x="919.7" y="1055.4" width="27.3" height="22.8" fill="#f9b9ba"/><rect x="948.5" y="1055.4" width="27.3" height="22.8" fill="#c3c4c6"/><rect x="977.2" y="1055.4" width="27.3" height="22.8" fill="#c3c4c6"/><rect x="1006.0" y="1055.4" width="27.3" height="22.8" fill="#428ad0"/><rect x="1034.7" y="1055.4" width="27.3" height="22.8" fill="#c3c4c6"/><rect x="1063.5" y="1055.4" width="27.3" height="22.8" fill="#c3c4c6"/><rect x="1092.2" y="1055.4" width="27.3" height="22.8" fill="#f9b9ba"/><rect x="1121.0" y="1055.4" width="27.3" height="22.8" fill="#f9b9ba"/><text x="1158.5" y="1075.2">SESN2</text><rect x="655.4" y="1080.6" width="27.3" height="22.8" fill="#428ad0"/><rect x="684.0" y="1080.6" width="27.3" height="22.8" fill="#f9b9ba"/><rect x="712.6" y="1080.6" width="27.3" height="22.8" fill="#c3c4c6"/><rect x="747.2" y="1080.6" width="27.3" height="22.8" fill="#e1edf9"/><rect x="776.0" y="1080.6" width="27.3" height="22.8" fill="#f9b9ba"/><rect x="804.7" y="1080.6" width="27.3" height="22.8" fill="#b4d4f0"/><rect x="833.5" y="1080.6" width="27.3" height="22.8" fill="#e1edf9"/><rect x="862.2" y="1080.6" width="27.3" height="22.8" fill="#c3c4c6"/><rect x="891.0" y="1080.6" width="27.3" height="22.8" fill="#2b66b4"/><rect x="919.7" y="1080.6" width="27.3" height="22.8" fill="#78b0e2"/><rect x="948.5" y="1080.6" width="27.3" height="22.8" fill="#c3c4c6"/><rect x="977.2" y="1080.6" width="27.3" height="22.8" fill="#f9b9ba"/><rect x="1006.0" y="1080.6" width="27.3" height="22.8" fill="#fde3e2"/><rect x="1034.7" y="1080.6" width="27.3" height="22.8" fill="#f9b9ba"/><rect x="1063.5" y="1080.6" width="27.3" height="22.8" fill="#e1edf9"/><rect x="1092.2" y="1080.6" width="27.3" height="22.8" fill="#fde3e2"/><rect x="1121.0" y="1080.6" width="27.3" height="22.8" fill="#fde3e2"/><text x="1158.5" y="1100.4">PPP1R13L</text><rect x="655.4" y="1105.8" width="27.3" height="22.8" fill="#c3c4c6"/><rect x="684.0" y="1105.8" width="27.3" height="22.8" fill="#c3c4c6"/><rect x="712.6" y="1105.8" width="27.3" height="22.8" fill="#c3c4c6"/><rect x="747.2" y="1105.8" width="27.3" height="22.8" fill="#f9b9ba"/><rect x="776.0" y="1105.8" width="27.3" height="22.8" fill="#fde3e2"/><rect x="804.7" y="1105.8" width="27.3" height="22.8" fill="#f38a8c"/><rect x="833.5" y="1105.8" width="27.3" height="22.8" fill="#b4d4f0"/><rect x="862.2" y="1105.8" width="27.3" height="22.8" fill="#78b0e2"/><rect x="891.0" y="1105.8" width="27.3" height="22.8" fill="#2b66b4"/><rect x="919.7" y="1105.8" width="27.3" height="22.8" fill="#e1edf9"/><rect x="948.5" y="1105.8" width="27.3" height="22.8" fill="#c3c4c6"/><rect x="977.2" y="1105.8" width="27.3" height="22.8" fill="#c3c4c6"/><rect x="1006.0" y="1105.8" width="27.3" height="22.8" fill="#fde3e2"/><rect x="1034.7" y="1105.8" width="27.3" height="22.8" fill="#f9b9ba"/><rect x="1063.5" y="1105.8" width="27.3" height="22.8" fill="#fff8f8"/><rect x="1092.2" y="1105.8" width="27.3" height="22.8" fill="#fde3e2"/><rect x="1121.0" y="1105.8" width="27.3" height="22.8" fill="#e1edf9"/><text x="1158.5" y="1125.6">TP53</text><line x1="1297.3" y1="904" x2="1297.3" y2="1051" stroke="#16100e" stroke-width="3"/><text x="1304.6" y="983.6">Driver</text><line x1="1297.3" y1="1062" x2="1297.3" y2="1101.3" stroke="#16100e" stroke-width="3"/><text x="1304.6" y="1088.4">Suppressor</text><line x1="1297.3" y1="1107" x2="1297.3" y2="1128.8" stroke="#16100e" stroke-width="3"/><text x="1304.6" y="1124">Dual</text><path d="M655 915.6H650V940.8H655M650 928.2H646.5V966H655M646.5 952.2H641V991.2H655M655 1016.4H649V1041.6H655M649 1029H641.5V966H641M641.5 997.2H637V1066.8H655M655 1092H651.5V1117.2H655M651.5 1104.6H633V1033H637" fill="none" stroke="#111" stroke-width="1.9"/><line x1="1638" y1="533.2" x2="1638" y2="846.1" stroke="#16100e" stroke-width="3.6"/><line x1="1627.5" y1="844.3" x2="1964.1" y2="844.3" stroke="#16100e" stroke-width="3.6"/><line x1="1627.5" y1="844.3" x2="1638" y2="844.3" stroke="#16100e" stroke-width="3.6"/><text x="1618" y="853.7" text-anchor="end">0</text><line x1="1627.5" y1="741.167" x2="1638" y2="741.167" stroke="#16100e" stroke-width="3.6"/><text x="1618" y="750.567" text-anchor="end">0.4</text><line x1="1627.5" y1="638.033" x2="1638" y2="638.033" stroke="#16100e" stroke-width="3.6"/><text x="1618" y="647.433" text-anchor="end">0.8</text><line x1="1627.5" y1="534.9" x2="1638" y2="534.9" stroke="#16100e" stroke-width="3.6"/><text x="1618" y="544.3" text-anchor="end">1.2</text><line x1="1638" y1="844.3" x2="1638" y2="854.3" stroke="#16100e" stroke-width="3.6"/><text x="1638" y="888.6" text-anchor="middle">0</text><line x1="1702.9" y1="844.3" x2="1702.9" y2="854.3" stroke="#16100e" stroke-width="3.6"/><text x="1702.9" y="888.6" text-anchor="middle">1</text><line x1="1767.8" y1="844.3" x2="1767.8" y2="854.3" stroke="#16100e" stroke-width="3.6"/><text x="1767.8" y="888.6" text-anchor="middle">2</text><line x1="1832.7" y1="844.3" x2="1832.7" y2="854.3" stroke="#16100e" stroke-width="3.6"/><text x="1832.7" y="888.6" text-anchor="middle">3</text><line x1="1897.6" y1="844.3" x2="1897.6" y2="854.3" stroke="#16100e" stroke-width="3.6"/><text x="1897.6" y="888.6" text-anchor="middle">4</text><line x1="1962.5" y1="844.3" x2="1962.5" y2="854.3" stroke="#16100e" stroke-width="3.6"/><text x="1962.5" y="888.6" text-anchor="middle">5</text><text x="1798.5" y="931.8" text-anchor="middle">log<tspan style="font-size:15px" dy="1">2</tspan> <tspan dy="-1" dx="-4.3">FC</tspan></text><text transform="translate(1561 688) rotate(-90)" text-anchor="middle">(Sensitivity+specificity)/2</text><line x1="1672.6" y1="536" x2="1672.6" y2="842.5" stroke="#111" stroke-width="3.2" stroke-dasharray="3.1 6.2"/><text x="1767" y="569.2" text-anchor="middle">BACH1</text><circle cx="1687.5" cy="618.9" r="4.3" fill="#2db47c"/><circle cx="1695.9" cy="618.9" r="4.3" fill="#2db47c"/><circle cx="1699.9" cy="618.9" r="4.3" fill="#2db47c"/><circle cx="1704.0" cy="618.9" r="4.3" fill="#2db47c"/><circle cx="1726.8" cy="618.9" r="4.3" fill="#2db47c"/><circle cx="1748.3" cy="618.9" r="4.3" fill="#2db47c"/><circle cx="1787.9" cy="618.9" r="4.3" fill="#2db47c"/><circle cx="1933.2" cy="618.9" r="4.3" fill="#2db47c"/><circle cx="1680.5" cy="651.5" r="4.3" fill="#2db47c"/><circle cx="1688.2" cy="651.5" r="4.3" fill="#2db47c"/><circle cx="1697.6" cy="651.5" r="4.3" fill="#2db47c"/><circle cx="1703.6" cy="651.5" r="4.3" fill="#2db47c"/><circle cx="1711.7" cy="651.5" r="4.3" fill="#2db47c"/><circle cx="1716.7" cy="651.5" r="4.3" fill="#2db47c"/><circle cx="1720.7" cy="651.5" r="4.3" fill="#2db47c"/><circle cx="1735.2" cy="651.5" r="4.3" fill="#2db47c"/><circle cx="1739.2" cy="651.5" r="4.3" fill="#2db47c"/><circle cx="1746.9" cy="651.5" r="4.3" fill="#2db47c"/><circle cx="1757.0" cy="651.5" r="4.3" fill="#2db47c"/><circle cx="1806.6" cy="651.5" r="4.3" fill="#2db47c"/><circle cx="1720.7" cy="717.6" r="4.3" fill="#2db47c"/><circle cx="1695.6" cy="747.4" r="4.3" fill="#2db47c"/><circle cx="1712.7" cy="747.4" r="4.3" fill="#2db47c"/><circle cx="1726.8" cy="747.4" r="4.3" fill="#2db47c"/><circle cx="1733.5" cy="747.4" r="4.3" fill="#2db47c"/><circle cx="1847.6" cy="747.4" r="4.3" fill="#2db47c"/><circle cx="1679.8" cy="779.3" r="4.3" fill="#2db47c"/><circle cx="1682.1" cy="779.3" r="4.3" fill="#2db47c"/><circle cx="1695.9" cy="779.3" r="4.3" fill="#2db47c"/><circle cx="1705.3" cy="779.3" r="4.3" fill="#2db47c"/><circle cx="1718.1" cy="779.3" r="4.3" fill="#2db47c"/><circle cx="1732.8" cy="779.3" r="4.3" fill="#2db47c"/><circle cx="1750.3" cy="779.3" r="4.3" fill="#2db47c"/><circle cx="1767.7" cy="587.4" r="5.9" fill="#d9262c"/><line x1="1639.2" y1="1030.3" x2="1639.2" y2="1335.8" stroke="#16100e" stroke-width="3.3"/><line x1="1628.7" y1="1334.2" x2="1968.3" y2="1334.2" stroke="#16100e" stroke-width="3.3"/><line x1="1628.7" y1="1061.8" x2="1639.2" y2="1061.8" stroke="#16100e" stroke-width="3.3"/><text x="1616.5" y="1071.2" text-anchor="end">6</text><line x1="1628.7" y1="1162.4" x2="1639.2" y2="1162.4" stroke="#16100e" stroke-width="3.3"/><text x="1616.5" y="1171.8" text-anchor="end">4</text><line x1="1628.7" y1="1263.3" x2="1639.2" y2="1263.3" stroke="#16100e" stroke-width="3.3"/><text x="1616.5" y="1272.7" text-anchor="end">2</text><text x="1616.5" y="1343.4" text-anchor="end">0</text><text transform="translate(1559.8 1184) rotate(-90)" text-anchor="middle">Fluorescent intensity (log<tspan style="font-size:15px" dy="1">2</tspan><tspan dy="-1">)</tspan></text><line x1="1693.1" y1="1205" x2="1693.1" y2="1225" stroke="#111" stroke-width="3"/><line x1="1693.1" y1="1295.6" x2="1693.1" y2="1297.6" stroke="#111" stroke-width="3"/><path d="M1675.6 1205H1710.6M1675.6 1297.6H1710.6" stroke="#111" stroke-width="3" stroke-linecap="round" fill="none"/><rect x="1656.8" y="1225" width="72.6" height="70.6" rx="1.5" fill="#2b559f" stroke="#111" stroke-width="3.1"/><line x1="1656.8" y1="1285.3" x2="1729.4" y2="1285.3" stroke="#111" stroke-width="3"/><line x1="1801.4" y1="1214.4" x2="1801.4" y2="1224.4" stroke="#111" stroke-width="3"/><line x1="1801.4" y1="1278.4" x2="1801.4" y2="1286" stroke="#111" stroke-width="3"/><path d="M1783.9 1214.4H1818.9M1783.9 1286H1818.9" stroke="#111" stroke-width="3" stroke-linecap="round" fill="none"/><rect x="1765" y="1224.4" width="72.8" height="54" rx="1.5" fill="#d9dbee" stroke="#111" stroke-width="3.1"/><line x1="1765" y1="1254" x2="1837.8" y2="1254" stroke="#111" stroke-width="3"/><line x1="1909.6" y1="1098.4" x2="1909.6" y2="1113.6" stroke="#111" stroke-width="3"/><line x1="1909.6" y1="1187.4" x2="1909.6" y2="1191.2" stroke="#111" stroke-width="3"/><path d="M1892.1 1098.4H1927.1M1892.1 1191.2H1927.1" stroke="#111" stroke-width="3" stroke-linecap="round" fill="none"/><rect x="1873.2" y="1113.6" width="72.8" height="73.8" rx="1.5" fill="#ee9a3b" stroke="#111" stroke-width="3.1"/><line x1="1873.2" y1="1167.3" x2="1946" y2="1167.3" stroke="#111" stroke-width="3"/><line x1="1691.2" y1="1062.8" x2="1910" y2="1062.8" stroke="#16100e" stroke-width="2.9" stroke-linecap="round"/><text x="1800.6" y="1064.5" text-anchor="middle" style="font-size:25px;">***</text><line x1="1800.6" y1="1087.3" x2="1910" y2="1087.3" stroke="#16100e" stroke-width="2.9" stroke-linecap="round"/><text x="1854.7" y="1089" text-anchor="middle" style="font-size:25px;">***</text><line x1="1699.3" y1="1184.8" x2="1809.3" y2="1184.8" stroke="#16100e" stroke-width="2.9" stroke-linecap="round"/><text x="1753.4" y="1178.8" text-anchor="middle">n.s.</text><text x="1692.3" y="1363.2" text-anchor="middle">HC</text><text x="1801.2" y="1363.2" text-anchor="middle">w/o</text><text x="1801.2" y="1393.6" text-anchor="middle">LNM</text><text x="1909.5" y="1363.2" text-anchor="middle">w/</text><text x="1909.5" y="1393.6" text-anchor="middle">LNM</text><line x1="1779" y1="1415.1" x2="1931.6" y2="1415.1" stroke="#16100e" stroke-width="2.9" stroke-linecap="round"/><text x="1854.7" y="1445.6" text-anchor="middle">T1-stage ESCC</text><text x="1029" y="1221.8" text-anchor="middle">ESCC</text><line x1="751" y1="1236.8" x2="1305.8" y2="1236.8" stroke="#16100e" stroke-width="2.2"/><text x="752.7" y="1271.2" text-anchor="middle">HC</text><text x="1028" y="1271.2" text-anchor="middle">w/o LNM</text><text x="1304.3" y="1271.2" text-anchor="middle">w/ LNM</text><text transform="translate(608 1365.5) rotate(-90)" text-anchor="middle">BACH1</text><rect x="620.731" y="1281.51" width="263.47" height="169.863" fill="#000"/><circle cx="642.6" cy="1303.2" r="6.8" fill="none" stroke="#484848" stroke-width="1.3"/><circle cx="688.1" cy="1303.2" r="7.0" fill="none" stroke="#484848" stroke-width="1.3"/><circle cx="729.5" cy="1301.9" r="7.1" fill="none" stroke="#484848" stroke-width="1.3"/><circle cx="775.2" cy="1303.9" r="5.4" fill="none" stroke="#484848" stroke-width="1.3"/><circle cx="820.2" cy="1300.9" r="6.3" fill="none" stroke="#484848" stroke-width="1.3"/><circle cx="865.3" cy="1299.8" r="5.6" fill="none" stroke="#484848" stroke-width="1.3"/><circle cx="641.4" cy="1347.3" r="6.7" fill="none" stroke="#484848" stroke-width="1.3"/><circle cx="685.2" cy="1346.8" r="5.5" fill="none" stroke="#484848" stroke-width="1.3"/><rect x="722.5" y="1335.8" width="17.5" height="17.5" fill="none" stroke="#333" stroke-width="1.1"/><circle cx="731.2" cy="1344.5" r="6.6" fill="none" stroke="#444" stroke-width="1.4"/><rect x="765.9" y="1335.8" width="17.5" height="17.5" fill="none" stroke="#333" stroke-width="1.1"/><circle cx="774.6" cy="1344.5" r="6.6" fill="none" stroke="#444" stroke-width="1.4"/><circle cx="822.0" cy="1347.1" r="5.8" fill="none" stroke="#484848" stroke-width="1.3"/><circle cx="866.7" cy="1345.6" r="6.6" fill="none" stroke="#484848" stroke-width="1.3"/><circle cx="641.1" cy="1390.4" r="6.6" fill="none" stroke="#484848" stroke-width="1.3"/><circle cx="688.2" cy="1390.2" r="5.8" fill="none" stroke="#484848" stroke-width="1.3"/><circle cx="730.7" cy="1386.8" r="5.5" fill="none" stroke="#484848" stroke-width="1.3"/><circle cx="773.0" cy="1387.4" r="6.4" fill="none" stroke="#484848" stroke-width="1.3"/><circle cx="818.5" cy="1389.2" r="5.9" fill="none" stroke="#484848" stroke-width="1.3"/><circle cx="864.3" cy="1389.8" r="6.2" fill="none" stroke="#484848" stroke-width="1.3"/><circle cx="641.5" cy="1433.9" r="6.6" fill="none" stroke="#484848" stroke-width="1.3"/><circle cx="684.9" cy="1436.2" r="5.2" fill="none" stroke="#484848" stroke-width="1.3"/><circle cx="732.1" cy="1435.6" r="5.2" fill="none" stroke="#484848" stroke-width="1.3"/><circle cx="775.7" cy="1433.4" r="6.4" fill="none" stroke="#484848" stroke-width="1.3"/><circle cx="818.5" cy="1431.9" r="5.6" fill="none" stroke="#484848" stroke-width="1.3"/><circle cx="866.7" cy="1432.6" r="6.7" fill="none" stroke="#484848" stroke-width="1.3"/><g transform="translate(745.0 1355.4) rotate(34.6)"><path d="M0 0L13 23.4H3.8V36.5a3.8 3.8 0 0 1 -7.6 0V23.4H-13Z" fill="#e8343b"/></g><rect x="896.986" y="1281.51" width="263.014" height="169.863" fill="#000"/><circle cx="920.0" cy="1304.1" r="5.9" fill="none" stroke="#484848" stroke-width="1.3"/><circle cx="962.2" cy="1302.2" r="6.8" fill="none" stroke="#484848" stroke-width="1.3"/><circle cx="1006.1" cy="1303.2" r="6.8" fill="none" stroke="#484848" stroke-width="1.3"/><circle cx="1052.2" cy="1299.9" r="7.1" fill="none" stroke="#484848" stroke-width="1.3"/><circle cx="1095.0" cy="1301.3" r="6.4" fill="none" stroke="#484848" stroke-width="1.3"/><circle cx="1142.8" cy="1301.3" r="7.0" fill="none" stroke="#484848" stroke-width="1.3"/><circle cx="918.6" cy="1344.6" r="5.8" fill="none" stroke="#484848" stroke-width="1.3"/><circle cx="961.6" cy="1343.5" r="5.5" fill="none" stroke="#484848" stroke-width="1.3"/><rect x="998.7" y="1335.8" width="17.5" height="17.5" fill="none" stroke="#333" stroke-width="1.1"/><circle cx="1007.5" cy="1344.5" r="6.4" fill="#0c2a0c" stroke="#444" stroke-width="1.3"/><circle cx="1007.5" cy="1344.5" r="3.4" fill="#1d5e20"/><rect x="1042.1" y="1335.8" width="17.5" height="17.5" fill="none" stroke="#333" stroke-width="1.1"/><circle cx="1050.9" cy="1344.5" r="6.4" fill="#0c2a0c" stroke="#444" stroke-width="1.3"/><circle cx="1050.9" cy="1344.5" r="3.4" fill="#1d5e20"/><circle cx="1096.2" cy="1344.2" r="6.4" fill="none" stroke="#484848" stroke-width="1.3"/><circle cx="1142.5" cy="1345.2" r="6.0" fill="none" stroke="#484848" stroke-width="1.3"/><circle cx="916.8" cy="1390.3" r="5.3" fill="none" stroke="#484848" stroke-width="1.3"/><circle cx="962.7" cy="1389.9" r="5.5" fill="none" stroke="#484848" stroke-width="1.3"/><circle cx="1008.3" cy="1390.4" r="6.5" fill="none" stroke="#484848" stroke-width="1.3"/><circle cx="1051.9" cy="1386.6" r="6.1" fill="none" stroke="#484848" stroke-width="1.3"/><circle cx="1095.2" cy="1389.9" r="5.8" fill="none" stroke="#484848" stroke-width="1.3"/><circle cx="1141.1" cy="1390.6" r="6.9" fill="none" stroke="#484848" stroke-width="1.3"/><circle cx="920.2" cy="1433.8" r="6.2" fill="none" stroke="#484848" stroke-width="1.3"/><circle cx="963.6" cy="1433.9" r="5.8" fill="none" stroke="#484848" stroke-width="1.3"/><circle cx="1007.1" cy="1432.4" r="6.0" fill="none" stroke="#484848" stroke-width="1.3"/><circle cx="1052.7" cy="1436.1" r="6.5" fill="none" stroke="#484848" stroke-width="1.3"/><circle cx="1096.5" cy="1433.3" r="5.4" fill="none" stroke="#484848" stroke-width="1.3"/><circle cx="1140.4" cy="1435.3" r="6.9" fill="none" stroke="#484848" stroke-width="1.3"/><g transform="translate(1030.5 1354.8) rotate(34.6)"><path d="M0 0L13 23.4H3.8V36.5a3.8 3.8 0 0 1 -7.6 0V23.4H-13Z" fill="#e8343b"/></g><rect x="1172.79" y="1281.51" width="263.927" height="169.863" fill="#000"/><circle cx="1193.7" cy="1297.4" r="7.9" fill="none" stroke="#484848" stroke-width="1.3"/><circle cx="1239.2" cy="1296.9" r="7.9" fill="none" stroke="#484848" stroke-width="1.3"/><circle cx="1282.8" cy="1297.1" r="6.7" fill="none" stroke="#484848" stroke-width="1.3"/><circle cx="1326.6" cy="1297.4" r="7.7" fill="none" stroke="#484848" stroke-width="1.3"/><circle cx="1371.6" cy="1298.2" r="7.6" fill="none" stroke="#484848" stroke-width="1.3"/><circle cx="1417.4" cy="1293.9" r="7.4" fill="none" stroke="#484848" stroke-width="1.3"/><circle cx="1193.3" cy="1340.3" r="7.2" fill="none" stroke="#484848" stroke-width="1.3"/><circle cx="1239.7" cy="1340.2" r="8.0" fill="none" stroke="#484848" stroke-width="1.3"/><rect x="1274.2" y="1328.4" width="20" height="20" fill="none" stroke="#333" stroke-width="1.1"/><circle cx="1284.2" cy="1338.4" r="7.6" fill="#52b83c"/><circle cx="1284.2" cy="1338.9" r="5.8" fill="#6cc345"/><rect x="1317.6" y="1328.4" width="20" height="20" fill="none" stroke="#333" stroke-width="1.1"/><circle cx="1327.6" cy="1338.4" r="7.6" fill="#52b83c"/><circle cx="1327.6" cy="1338.9" r="5.8" fill="#6cc345"/><circle cx="1373.7" cy="1340.4" r="8.4" fill="none" stroke="#484848" stroke-width="1.3"/><circle cx="1418.7" cy="1339.6" r="7.3" fill="none" stroke="#484848" stroke-width="1.3"/><circle cx="1193.0" cy="1389.0" r="8.3" fill="none" stroke="#484848" stroke-width="1.3"/><circle cx="1238.5" cy="1388.3" r="7.8" fill="none" stroke="#484848" stroke-width="1.3"/><circle cx="1284.1" cy="1385.9" r="8.0" fill="none" stroke="#484848" stroke-width="1.3"/><circle cx="1327.0" cy="1388.2" r="7.1" fill="none" stroke="#484848" stroke-width="1.3"/><circle cx="1372.8" cy="1388.7" r="7.6" fill="none" stroke="#484848" stroke-width="1.3"/><circle cx="1417.9" cy="1385.3" r="6.4" fill="none" stroke="#484848" stroke-width="1.3"/><circle cx="1194.0" cy="1433.8" r="6.5" fill="none" stroke="#484848" stroke-width="1.3"/><circle cx="1239.2" cy="1433.7" r="6.1" fill="none" stroke="#484848" stroke-width="1.3"/><circle cx="1283.2" cy="1431.9" r="6.1" fill="none" stroke="#484848" stroke-width="1.3"/><circle cx="1325.3" cy="1432.3" r="6.5" fill="none" stroke="#484848" stroke-width="1.3"/><circle cx="1371.2" cy="1431.0" r="7.2" fill="none" stroke="#484848" stroke-width="1.3"/><circle cx="1416.6" cy="1433.6" r="7.5" fill="none" stroke="#484848" stroke-width="1.3"/><g transform="translate(1297.6 1350.1) rotate(34.6)"><path d="M0 0L13 23.4H3.8V36.5a3.8 3.8 0 0 1 -7.6 0V23.4H-13Z" fill="#e8343b"/></g></svg></body></html>
